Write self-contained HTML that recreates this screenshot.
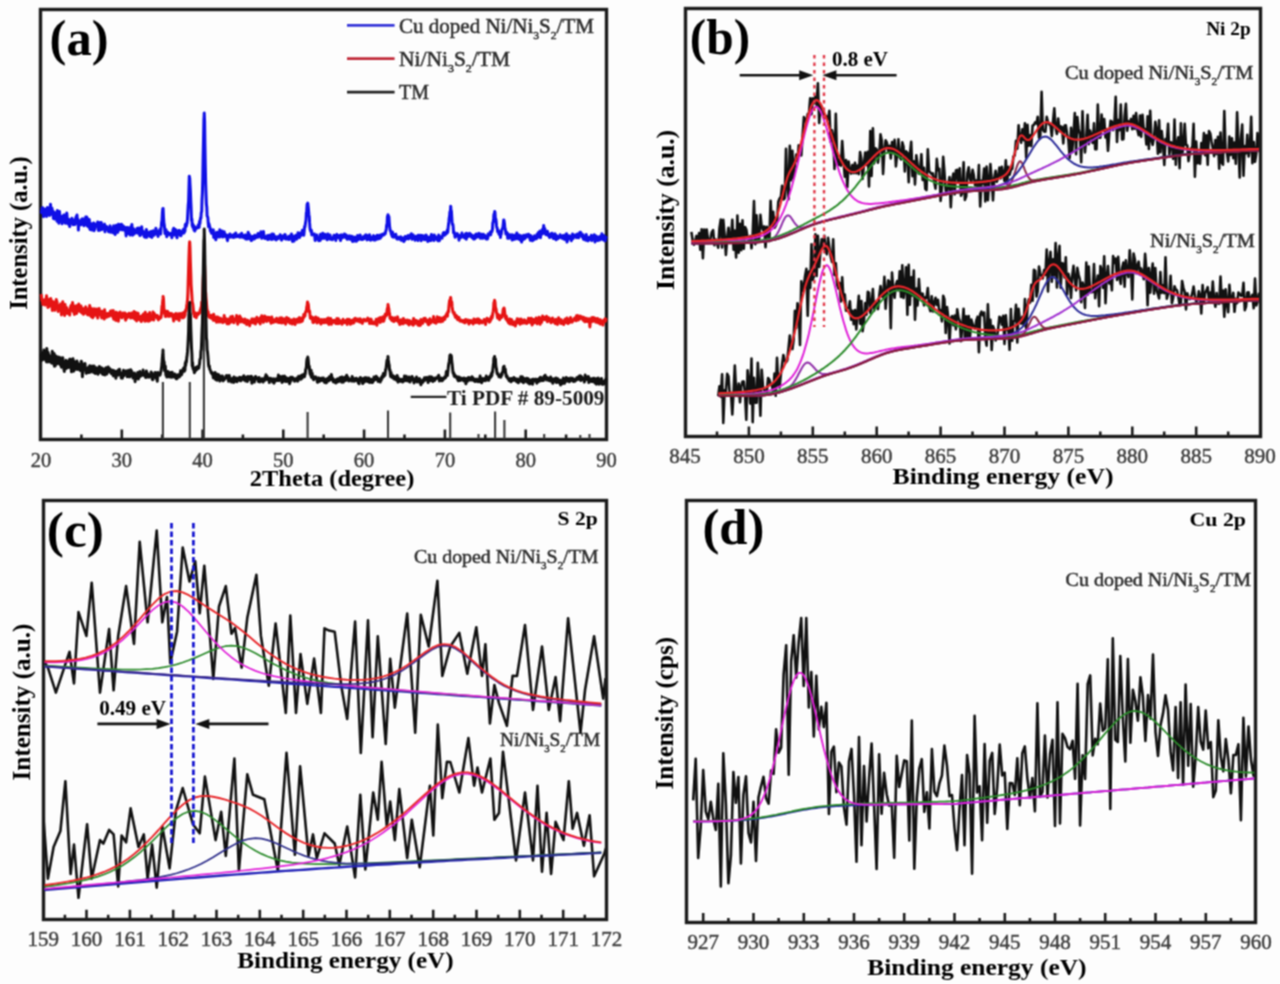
<!DOCTYPE html>
<html><head><meta charset="utf-8"><style>
html,body{margin:0;padding:0;background:#fff;}
svg{display:block;font-family:"Liberation Serif",serif;}
</style></head><body>
<svg width="1280" height="984" viewBox="0 0 1280 984">
<defs>
<clipPath id="cb"><rect x="686.8" y="10.4" width="572.2" height="424.5"/></clipPath>
<clipPath id="cc"><rect x="44.5" y="502.5" width="560.5" height="415.8"/></clipPath>
<filter id="bl" x="0" y="0" width="1280" height="984" filterUnits="userSpaceOnUse" color-interpolation-filters="sRGB"><feConvolveMatrix order="3" kernelMatrix="1 2 1 2 4 2 1 2 1" edgeMode="duplicate"/></filter>
<clipPath id="cd"><rect x="688.3" y="502.3" width="566" height="419.1"/></clipPath>
</defs>
<g filter="url(#bl)">
<rect width="1280" height="984" fill="#fdfdfd"/>
<rect x="40.5" y="9.5" width="566.0" height="430.0" fill="none" stroke="#1c1c1c" stroke-width="3.4"/>
<path d="M121.8 439.5V429.5M202.6 439.5V429.5M283.3 439.5V429.5M364.1 439.5V429.5M444.9 439.5V429.5M525.7 439.5V429.5M81.4 439.5V434.5M162.2 439.5V434.5M242.9 439.5V434.5M323.7 439.5V434.5M404.5 439.5V434.5M485.3 439.5V434.5M566.1 439.5V434.5" stroke="#1c1c1c" stroke-width="2.6" fill="none"/>
<text x="41.0" y="466.5" font-size="20.5" text-anchor="middle" fill="#3c3c3c" stroke="#3c3c3c" stroke-width="0.45">20</text>
<text x="121.8" y="466.5" font-size="20.5" text-anchor="middle" fill="#3c3c3c" stroke="#3c3c3c" stroke-width="0.45">30</text>
<text x="202.6" y="466.5" font-size="20.5" text-anchor="middle" fill="#3c3c3c" stroke="#3c3c3c" stroke-width="0.45">40</text>
<text x="283.3" y="466.5" font-size="20.5" text-anchor="middle" fill="#3c3c3c" stroke="#3c3c3c" stroke-width="0.45">50</text>
<text x="364.1" y="466.5" font-size="20.5" text-anchor="middle" fill="#3c3c3c" stroke="#3c3c3c" stroke-width="0.45">60</text>
<text x="444.9" y="466.5" font-size="20.5" text-anchor="middle" fill="#3c3c3c" stroke="#3c3c3c" stroke-width="0.45">70</text>
<text x="525.7" y="466.5" font-size="20.5" text-anchor="middle" fill="#3c3c3c" stroke="#3c3c3c" stroke-width="0.45">80</text>
<text x="606.5" y="466.5" font-size="20.5" text-anchor="middle" fill="#3c3c3c" stroke="#3c3c3c" stroke-width="0.45">90</text>
<text x="249.8" y="485.7" font-size="23.2" font-weight="bold" text-anchor="start" fill="#000" textLength="164.5" lengthAdjust="spacingAndGlyphs">2Theta (degree)</text>
<text transform="translate(26.5 233.1) rotate(-90)" x="0" y="0" font-size="24.5" font-weight="bold" text-anchor="middle" fill="#000" textLength="153.5" lengthAdjust="spacingAndGlyphs">Intensity (a.u.)</text>
<path d="M162.9 439V382.0M189.8 439V382.0M203.9 439V236.0M307.6 439V412.0M388.0 439V410.5M450.2 439V412.5M478.5 439V434.0M495.1 439V411.5M504.4 439V420.0M544.2 439V434.0M580.3 439V435.0M589.5 439V434.0" stroke="#383838" stroke-width="2.1" fill="none"/>
<polyline fill="none" stroke="#1010e6" stroke-width="3.0" stroke-linejoin="round" points="41.0,211.6 41.4,212.5 41.7,210.3 42.1,208.1 42.5,210.0 42.8,207.8 43.2,212.4 43.5,216.7 43.9,209.1 44.3,209.3 44.6,213.9 45.0,213.4 45.4,212.7 45.7,208.9 46.1,212.8 46.5,216.4 46.8,209.1 47.2,213.0 47.5,207.5 47.9,210.2 48.3,207.9 48.6,214.0 49.0,209.9 49.4,215.5 49.7,214.6 50.1,213.1 50.5,204.3 50.8,211.4 51.2,213.2 51.5,214.2 51.9,208.0 52.3,211.9 52.6,210.8 53.0,211.3 53.4,218.5 53.7,212.1 54.1,215.4 54.4,218.9 54.8,213.8 55.2,215.6 55.5,216.7 55.9,216.6 56.3,212.5 56.6,216.9 57.0,221.2 57.4,210.6 57.7,219.4 58.1,216.3 58.4,213.5 58.8,223.3 59.2,218.7 59.5,211.5 59.9,216.9 60.3,218.8 60.6,216.5 61.0,220.4 61.4,218.2 61.7,220.9 62.1,223.7 62.4,216.3 62.8,219.5 63.2,217.4 63.5,219.6 63.9,215.0 64.3,217.1 64.6,218.3 65.0,222.5 65.4,223.2 65.7,214.7 66.1,216.5 66.4,221.9 66.8,213.0 67.2,218.3 67.5,219.2 67.9,224.0 68.3,222.3 68.6,219.3 69.0,220.0 69.4,220.6 69.7,226.6 70.1,220.2 70.4,221.0 70.8,223.1 71.2,221.6 71.5,221.3 71.9,218.2 72.3,220.9 72.6,219.7 73.0,224.7 73.4,222.9 73.7,220.5 74.1,223.2 74.4,220.1 74.8,224.5 75.2,220.9 75.5,223.6 75.9,217.3 76.3,222.8 76.6,216.2 77.0,215.0 77.4,220.8 77.7,219.1 78.1,222.7 78.4,230.1 78.8,220.5 79.2,221.1 79.5,224.1 79.9,224.9 80.3,222.6 80.6,222.3 81.0,224.8 81.3,224.5 81.7,219.2 82.1,222.1 82.4,222.1 82.8,218.7 83.2,222.9 83.5,219.7 83.9,225.7 84.3,223.2 84.6,222.7 85.0,220.5 85.3,222.0 85.7,217.0 86.1,219.8 86.4,224.6 86.8,217.0 87.2,226.0 87.5,218.6 87.9,226.1 88.3,221.9 88.6,226.8 89.0,224.5 89.3,219.5 89.7,228.5 90.1,229.4 90.4,225.5 90.8,224.9 91.2,226.1 91.5,223.8 91.9,230.1 92.3,225.9 92.6,227.3 93.0,225.0 93.3,225.2 93.7,223.0 94.1,230.7 94.4,226.0 94.8,229.2 95.2,226.6 95.5,224.3 95.9,224.8 96.3,224.1 96.6,226.3 97.0,225.1 97.3,225.2 97.7,221.9 98.1,223.6 98.4,230.4 98.8,224.0 99.2,223.1 99.5,227.3 99.9,230.2 100.3,222.5 100.6,225.9 101.0,225.2 101.3,222.5 101.7,229.5 102.1,227.0 102.4,227.8 102.8,225.1 103.2,228.9 103.5,226.4 103.9,227.6 104.3,224.7 104.6,224.2 105.0,231.8 105.3,227.2 105.7,229.8 106.1,229.0 106.4,227.6 106.8,226.6 107.2,229.6 107.5,227.8 107.9,227.8 108.2,228.7 108.6,231.7 109.0,229.9 109.3,229.6 109.7,227.6 110.1,225.9 110.4,232.3 110.8,232.2 111.2,229.8 111.5,231.0 111.9,231.5 112.2,232.1 112.6,232.2 113.0,227.8 113.3,232.9 113.7,225.7 114.1,231.3 114.4,230.1 114.8,231.5 115.2,234.6 115.5,232.9 115.9,226.2 116.2,225.3 116.6,232.1 117.0,227.9 117.3,230.3 117.7,232.3 118.1,225.8 118.4,224.2 118.8,230.2 119.2,229.9 119.5,228.8 119.9,229.3 120.2,226.5 120.6,224.6 121.0,228.1 121.3,225.7 121.7,224.4 122.1,229.9 122.4,228.4 122.8,229.6 123.2,225.9 123.5,227.3 123.9,226.8 124.2,227.0 124.6,230.4 125.0,227.6 125.3,231.2 125.7,231.0 126.1,236.0 126.4,227.6 126.8,233.4 127.2,230.9 127.5,231.8 127.9,227.6 128.2,230.2 128.6,233.6 129.0,231.7 129.3,231.8 129.7,231.6 130.1,235.0 130.4,232.1 130.8,226.7 131.2,230.4 131.5,227.7 131.9,224.4 132.2,230.9 132.6,235.2 133.0,231.6 133.3,228.6 133.7,229.2 134.1,234.1 134.4,231.6 134.8,231.0 135.1,230.4 135.5,230.7 135.9,232.8 136.2,231.9 136.6,231.2 137.0,228.5 137.3,231.9 137.7,229.3 138.1,233.3 138.4,227.9 138.8,230.5 139.1,230.7 139.5,228.3 139.9,235.6 140.2,235.4 140.6,231.0 141.0,234.0 141.3,233.7 141.7,226.7 142.1,234.0 142.4,233.3 142.8,233.7 143.1,231.0 143.5,232.7 143.9,233.1 144.2,236.7 144.6,234.5 145.0,233.7 145.3,237.3 145.7,232.3 146.1,232.9 146.4,229.4 146.8,237.3 147.1,235.7 147.5,235.5 147.9,235.4 148.2,234.0 148.6,233.7 149.0,232.6 149.3,232.2 149.7,233.4 150.1,236.5 150.4,234.6 150.8,233.0 151.1,231.4 151.5,231.6 151.9,237.4 152.2,235.0 152.6,234.2 153.0,232.8 153.3,230.8 153.7,232.9 154.1,235.2 154.4,231.7 154.8,232.0 155.1,231.7 155.5,232.5 155.9,228.2 156.2,231.4 156.6,230.3 157.0,234.4 157.3,231.1 157.7,234.4 158.1,236.4 158.4,232.1 158.8,231.3 159.1,233.1 159.5,232.0 159.9,229.6 160.2,231.9 160.6,234.1 161.0,228.0 161.3,226.2 161.7,221.6 162.0,220.7 162.4,212.6 162.8,208.7 163.0,212.9 163.1,208.4 163.5,217.0 163.9,223.2 164.2,224.4 164.6,228.0 165.0,233.6 165.3,230.4 165.7,230.6 166.0,229.7 166.4,233.4 166.8,236.7 167.1,235.6 167.5,232.2 167.9,232.3 168.2,232.9 168.6,234.3 169.0,233.9 169.3,234.7 169.7,234.8 170.0,233.5 170.4,234.5 170.8,234.2 171.1,233.8 171.5,234.5 171.9,237.7 172.2,234.6 172.6,233.5 173.0,229.7 173.3,233.7 173.7,228.3 174.0,229.9 174.4,235.1 174.8,234.6 175.1,232.8 175.5,229.5 175.9,232.5 176.2,231.8 176.6,234.5 177.0,237.8 177.3,233.6 177.7,231.2 178.0,230.8 178.4,233.2 178.8,232.9 179.1,230.4 179.5,233.3 179.9,230.8 180.2,235.5 180.6,235.4 181.0,235.7 181.3,232.2 181.7,233.7 182.0,232.8 182.4,232.8 182.8,232.4 183.1,229.9 183.5,229.2 183.9,233.0 184.2,229.9 184.6,230.6 184.9,231.5 185.3,224.6 185.7,225.5 186.0,226.4 186.4,225.7 186.8,222.6 187.1,223.3 187.5,218.6 187.9,211.2 188.2,205.5 188.6,201.1 188.9,190.2 189.3,176.2 189.6,179.3 189.7,177.9 190.0,184.2 190.4,191.1 190.8,201.5 191.1,207.9 191.5,220.6 191.9,219.0 192.2,225.8 192.6,223.7 192.9,227.4 193.3,224.9 193.7,227.4 194.0,230.2 194.4,226.5 194.8,231.1 195.1,230.1 195.5,227.4 195.9,228.5 196.2,227.9 196.6,228.4 196.9,228.0 197.3,227.2 197.7,227.8 198.0,225.9 198.4,224.9 198.8,226.9 199.1,227.3 199.5,221.6 199.9,223.6 200.2,220.3 200.6,217.7 200.9,218.2 201.3,212.4 201.7,211.6 202.0,200.1 202.4,192.5 202.8,177.6 203.1,158.7 203.5,140.2 203.9,119.5 204.2,114.5 204.2,112.9 204.6,121.2 204.9,143.7 205.3,165.7 205.7,184.3 206.0,193.4 206.4,204.1 206.8,207.2 207.1,215.9 207.5,216.5 207.9,217.9 208.2,222.8 208.6,226.8 208.9,223.6 209.3,225.2 209.7,227.0 210.0,227.4 210.4,231.1 210.8,229.3 211.1,229.9 211.5,233.2 211.8,230.9 212.2,233.3 212.6,230.9 212.9,230.6 213.3,229.8 213.7,237.4 214.0,233.6 214.4,235.2 214.8,235.4 215.1,235.8 215.5,236.3 215.8,239.8 216.2,233.9 216.6,232.4 216.9,233.3 217.3,232.7 217.7,236.9 218.0,236.6 218.4,233.4 218.8,232.1 219.1,234.1 219.5,237.1 219.8,229.8 220.2,235.6 220.6,232.6 220.9,236.2 221.3,232.4 221.7,233.6 222.0,231.1 222.4,232.8 222.8,237.1 223.1,236.5 223.5,234.9 223.8,234.0 224.2,231.8 224.6,235.0 224.9,236.4 225.3,236.5 225.7,235.9 226.0,234.7 226.4,236.3 226.8,236.8 227.1,239.2 227.5,240.7 227.8,236.4 228.2,235.4 228.6,236.8 228.9,235.3 229.3,234.8 229.7,235.9 230.0,234.1 230.4,237.2 230.8,235.8 231.1,236.9 231.5,236.0 231.8,235.2 232.2,235.7 232.6,237.1 232.9,236.6 233.3,237.5 233.7,237.2 234.0,234.5 234.4,237.3 234.8,234.0 235.1,235.6 235.5,236.2 235.8,232.9 236.2,236.6 236.6,236.7 236.9,236.3 237.3,236.2 237.7,236.1 238.0,235.6 238.4,236.5 238.7,235.8 239.1,236.6 239.5,234.7 239.8,237.3 240.2,236.9 240.6,236.6 240.9,236.1 241.3,236.9 241.7,233.2 242.0,236.5 242.4,236.8 242.7,237.3 243.1,237.3 243.5,235.6 243.8,236.0 244.2,237.5 244.6,238.0 244.9,238.0 245.3,235.1 245.7,238.8 246.0,239.1 246.4,239.0 246.7,237.9 247.1,235.0 247.5,239.1 247.8,236.8 248.2,232.2 248.6,237.6 248.9,234.2 249.3,234.4 249.7,235.7 250.0,238.9 250.4,236.0 250.7,237.4 251.1,240.6 251.5,240.6 251.8,237.9 252.2,237.5 252.6,236.5 252.9,236.9 253.3,239.0 253.7,238.8 254.0,238.1 254.4,239.0 254.7,235.3 255.1,236.2 255.5,237.3 255.8,236.7 256.2,237.7 256.6,236.5 256.9,235.5 257.3,236.6 257.7,234.4 258.0,233.5 258.4,237.2 258.7,236.1 259.1,236.6 259.5,233.5 259.8,235.1 260.2,234.6 260.6,233.9 260.9,231.8 261.3,235.8 261.7,238.3 262.0,237.5 262.4,235.4 262.7,236.1 263.1,237.4 263.5,231.6 263.8,236.2 264.2,237.3 264.6,236.9 264.9,238.5 265.3,238.0 265.6,236.8 266.0,237.1 266.4,238.1 266.7,235.9 267.1,236.7 267.5,238.0 267.8,239.6 268.2,235.6 268.6,235.6 268.9,236.8 269.3,238.6 269.6,236.7 270.0,239.1 270.4,235.0 270.7,236.5 271.1,236.8 271.5,238.7 271.8,239.5 272.2,234.0 272.6,235.4 272.9,237.3 273.3,235.4 273.6,234.3 274.0,238.9 274.4,238.1 274.7,238.4 275.1,236.4 275.5,239.0 275.8,237.1 276.2,239.9 276.6,236.9 276.9,237.2 277.3,238.4 277.6,236.8 278.0,238.8 278.4,237.8 278.7,236.6 279.1,237.6 279.5,236.3 279.8,237.7 280.2,234.8 280.6,235.5 280.9,238.1 281.3,239.9 281.6,240.1 282.0,236.3 282.4,236.5 282.7,238.5 283.1,236.6 283.5,235.7 283.8,237.6 284.2,238.2 284.6,236.1 284.9,234.5 285.3,234.9 285.6,239.1 286.0,237.3 286.4,238.0 286.7,238.2 287.1,239.0 287.5,238.0 287.8,239.2 288.2,236.9 288.6,237.9 288.9,236.3 289.3,239.5 289.6,237.5 290.0,235.9 290.4,235.9 290.7,235.5 291.1,237.6 291.5,234.0 291.8,235.2 292.2,236.8 292.5,241.4 292.9,238.8 293.3,237.4 293.6,238.8 294.0,241.0 294.4,236.9 294.7,236.0 295.1,238.2 295.5,236.7 295.8,237.1 296.2,235.4 296.5,239.2 296.9,239.0 297.3,237.4 297.6,237.5 298.0,232.8 298.4,237.3 298.7,236.0 299.1,237.1 299.5,237.5 299.8,235.2 300.2,232.9 300.5,235.9 300.9,234.0 301.3,234.5 301.6,233.8 302.0,233.9 302.4,230.2 302.7,234.9 303.1,233.6 303.5,234.7 303.8,235.2 304.2,231.2 304.5,226.8 304.9,227.1 305.3,224.2 305.6,222.4 306.0,220.1 306.4,212.1 306.7,211.2 307.1,204.3 307.5,204.8 307.6,204.0 307.8,203.1 308.2,206.6 308.5,209.9 308.9,214.4 309.3,217.0 309.6,222.9 310.0,228.3 310.4,230.4 310.7,231.0 311.1,232.0 311.5,230.5 311.8,235.0 312.2,233.4 312.5,233.6 312.9,233.8 313.3,234.8 313.6,234.3 314.0,235.1 314.4,234.0 314.7,235.7 315.1,240.5 315.5,236.3 315.8,236.0 316.2,237.5 316.5,237.9 316.9,234.9 317.3,236.9 317.6,239.0 318.0,237.9 318.4,237.6 318.7,240.7 319.1,237.5 319.4,238.4 319.8,237.5 320.2,240.5 320.5,234.3 320.9,236.2 321.3,236.4 321.6,238.4 322.0,237.4 322.4,238.3 322.7,233.3 323.1,236.7 323.4,235.7 323.8,235.7 324.2,238.3 324.5,236.1 324.9,234.2 325.3,237.0 325.6,234.7 326.0,236.0 326.4,238.0 326.7,237.9 327.1,239.8 327.4,236.4 327.8,234.1 328.2,235.7 328.5,236.0 328.9,236.2 329.3,238.8 329.6,236.8 330.0,234.9 330.4,239.3 330.7,238.1 331.1,238.5 331.4,237.9 331.8,238.4 332.2,237.7 332.5,239.7 332.9,238.9 333.3,238.3 333.6,238.3 334.0,235.2 334.4,237.5 334.7,237.2 335.1,237.9 335.4,235.6 335.8,240.4 336.2,237.9 336.5,235.8 336.9,234.4 337.3,236.9 337.6,237.0 338.0,236.2 338.4,237.7 338.7,235.9 339.1,237.6 339.4,235.4 339.8,236.4 340.2,238.1 340.5,240.6 340.9,235.1 341.3,235.9 341.6,235.1 342.0,238.1 342.3,235.1 342.7,236.3 343.1,237.4 343.4,236.2 343.8,235.9 344.2,236.5 344.5,233.9 344.9,235.1 345.3,236.6 345.6,237.5 346.0,237.1 346.3,235.1 346.7,237.1 347.1,239.3 347.4,239.3 347.8,237.6 348.2,236.2 348.5,238.5 348.9,237.2 349.3,236.0 349.6,235.8 350.0,239.3 350.3,237.4 350.7,238.6 351.1,236.7 351.4,238.5 351.8,236.2 352.2,236.8 352.5,241.5 352.9,239.2 353.3,237.3 353.6,238.2 354.0,239.3 354.3,241.1 354.7,239.1 355.1,237.1 355.4,239.3 355.8,239.3 356.2,239.3 356.5,241.2 356.9,239.1 357.3,239.1 357.6,235.5 358.0,237.8 358.3,239.8 358.7,237.6 359.1,236.3 359.4,236.3 359.8,239.0 360.2,235.0 360.5,237.2 360.9,238.8 361.3,239.4 361.6,237.8 362.0,239.1 362.3,238.7 362.7,239.4 363.1,238.6 363.4,236.8 363.8,238.0 364.2,238.7 364.5,236.1 364.9,236.6 365.3,237.6 365.6,234.9 366.0,236.6 366.3,235.0 366.7,238.1 367.1,239.9 367.4,239.5 367.8,236.0 368.2,237.7 368.5,237.3 368.9,237.1 369.2,239.4 369.6,234.8 370.0,239.1 370.3,237.5 370.7,240.2 371.1,238.4 371.4,237.2 371.8,238.5 372.2,239.3 372.5,238.5 372.9,239.4 373.2,237.7 373.6,235.6 374.0,240.0 374.3,239.9 374.7,239.0 375.1,238.3 375.4,240.0 375.8,237.4 376.2,236.4 376.5,237.1 376.9,238.7 377.2,235.2 377.6,239.0 378.0,235.7 378.3,235.6 378.7,238.8 379.1,237.1 379.4,235.2 379.8,236.0 380.2,238.2 380.5,237.9 380.9,235.0 381.2,236.0 381.6,236.3 382.0,234.6 382.3,234.9 382.7,234.7 383.1,234.0 383.4,234.3 383.8,235.0 384.2,234.4 384.5,233.7 384.9,233.1 385.2,233.8 385.6,231.7 386.0,230.6 386.3,228.5 386.7,224.8 387.1,224.2 387.4,216.5 387.8,217.2 388.0,214.7 388.2,218.2 388.5,219.5 388.9,216.6 389.2,221.6 389.6,226.6 390.0,228.9 390.3,230.8 390.7,231.0 391.1,233.0 391.4,234.5 391.8,233.9 392.2,236.5 392.5,232.0 392.9,236.5 393.2,234.0 393.6,237.2 394.0,235.2 394.3,234.8 394.7,236.8 395.1,235.0 395.4,235.1 395.8,234.2 396.1,236.6 396.5,238.1 396.9,238.9 397.2,237.2 397.6,239.0 398.0,237.3 398.3,237.2 398.7,238.0 399.1,239.0 399.4,237.4 399.8,237.2 400.1,237.9 400.5,238.3 400.9,236.9 401.2,240.3 401.6,238.3 402.0,240.3 402.3,238.0 402.7,239.2 403.1,239.7 403.4,237.9 403.8,241.6 404.1,238.2 404.5,240.4 404.9,239.3 405.2,236.4 405.6,237.0 406.0,239.0 406.3,238.1 406.7,238.4 407.1,237.8 407.4,236.2 407.8,238.6 408.1,235.4 408.5,238.9 408.9,237.0 409.2,236.6 409.6,237.2 410.0,237.8 410.3,235.3 410.7,234.5 411.1,235.0 411.4,233.8 411.8,235.4 412.1,239.3 412.5,235.5 412.9,238.5 413.2,234.9 413.6,237.5 414.0,237.0 414.3,237.9 414.7,238.2 415.1,240.2 415.4,238.0 415.8,238.0 416.1,236.2 416.5,238.8 416.9,237.7 417.2,239.3 417.6,238.0 418.0,240.6 418.3,235.2 418.7,237.5 419.1,238.7 419.4,236.8 419.8,236.3 420.1,236.9 420.5,235.2 420.9,237.0 421.2,240.8 421.6,238.9 422.0,235.6 422.3,236.5 422.7,236.9 423.0,238.6 423.4,236.0 423.8,236.2 424.1,239.5 424.5,239.7 424.9,237.4 425.2,236.4 425.6,235.2 426.0,236.5 426.3,235.2 426.7,239.8 427.0,237.7 427.4,239.0 427.8,241.4 428.1,240.7 428.5,237.2 428.9,240.3 429.2,240.7 429.6,237.5 430.0,237.5 430.3,238.7 430.7,236.3 431.0,240.6 431.4,234.4 431.8,236.4 432.1,238.1 432.5,238.7 432.9,239.0 433.2,239.1 433.6,238.3 434.0,240.5 434.3,235.1 434.7,238.7 435.0,237.7 435.4,238.7 435.8,238.6 436.1,237.0 436.5,237.4 436.9,239.6 437.2,238.3 437.6,237.1 438.0,240.8 438.3,240.4 438.7,234.9 439.0,237.5 439.4,240.8 439.8,238.6 440.1,237.8 440.5,237.7 440.9,236.7 441.2,237.3 441.6,236.6 442.0,238.2 442.3,236.1 442.7,235.6 443.0,233.4 443.4,234.5 443.8,232.5 444.1,233.3 444.5,235.2 444.9,234.1 445.2,234.4 445.6,234.3 446.0,233.4 446.3,232.8 446.7,231.6 447.0,233.3 447.4,230.0 447.8,232.2 448.1,228.1 448.5,224.5 448.9,221.5 449.2,218.0 449.6,216.0 449.9,211.9 450.3,212.0 450.6,208.5 450.7,206.2 451.0,210.4 451.4,211.1 451.8,217.7 452.1,222.9 452.5,224.7 452.9,224.4 453.2,227.2 453.6,232.8 453.9,231.8 454.3,232.4 454.7,234.6 455.0,237.2 455.4,235.9 455.8,235.0 456.1,234.9 456.5,236.1 456.9,233.7 457.2,233.6 457.6,235.4 457.9,234.5 458.3,235.9 458.7,236.7 459.0,240.2 459.4,235.6 459.8,236.3 460.1,236.0 460.5,236.6 460.9,237.7 461.2,235.1 461.6,234.9 461.9,233.1 462.3,234.5 462.7,236.8 463.0,236.2 463.4,235.4 463.8,236.8 464.1,237.4 464.5,238.0 464.9,236.3 465.2,236.6 465.6,233.7 465.9,234.8 466.3,239.2 466.7,233.3 467.0,236.0 467.4,236.9 467.8,235.9 468.1,235.1 468.5,236.4 468.9,236.3 469.2,236.1 469.6,233.2 469.9,235.3 470.3,233.9 470.7,234.3 471.0,235.7 471.4,236.7 471.8,237.3 472.1,235.3 472.5,237.4 472.8,237.8 473.2,238.5 473.6,238.9 473.9,236.8 474.3,237.0 474.7,238.9 475.0,235.1 475.4,238.0 475.8,237.0 476.1,236.9 476.5,234.1 476.8,235.5 477.2,236.3 477.6,237.0 477.9,236.9 478.3,235.2 478.7,234.1 479.0,233.3 479.4,235.5 479.8,235.0 480.1,236.1 480.5,238.3 480.8,236.0 481.2,234.1 481.6,235.1 481.9,234.7 482.3,234.9 482.7,238.2 483.0,236.2 483.4,234.2 483.8,237.2 484.1,237.8 484.5,235.2 484.8,235.3 485.2,236.0 485.6,236.8 485.9,237.7 486.3,239.0 486.7,238.5 487.0,238.3 487.4,238.9 487.8,237.9 488.1,233.9 488.5,234.9 488.8,235.3 489.2,233.7 489.6,235.1 489.9,233.2 490.3,232.1 490.7,234.8 491.0,232.6 491.4,231.2 491.8,231.9 492.1,230.9 492.5,229.0 492.8,222.8 493.2,222.2 493.6,218.9 493.9,214.7 494.3,213.3 494.6,214.1 494.7,211.5 495.0,212.5 495.4,219.6 495.8,218.9 496.1,220.8 496.5,225.5 496.8,227.8 497.2,227.9 497.6,231.7 497.9,230.6 498.3,230.6 498.7,232.9 499.0,234.2 499.4,232.1 499.7,233.5 500.1,232.9 500.5,237.5 500.8,231.5 501.2,234.4 501.6,231.0 501.9,229.5 502.3,229.0 502.7,228.0 503.0,226.7 503.4,222.9 503.7,219.9 503.9,220.0 504.1,221.8 504.5,223.6 504.8,227.7 505.2,228.8 505.6,231.6 505.9,234.1 506.3,233.6 506.7,232.2 507.0,233.4 507.4,233.2 507.7,238.3 508.1,233.9 508.5,237.6 508.8,236.4 509.2,238.1 509.6,236.7 509.9,235.0 510.3,234.8 510.7,235.7 511.0,236.2 511.4,236.3 511.7,236.9 512.1,240.1 512.5,234.8 512.8,238.3 513.2,236.8 513.6,238.5 513.9,239.4 514.3,237.9 514.7,238.8 515.0,235.2 515.4,239.0 515.7,236.4 516.1,238.3 516.5,237.1 516.8,232.9 517.2,236.1 517.6,237.0 517.9,238.8 518.3,236.9 518.7,236.6 519.0,234.9 519.4,238.4 519.7,239.8 520.1,237.7 520.5,237.1 520.8,235.7 521.2,239.7 521.6,242.1 521.9,239.7 522.3,239.6 522.7,239.1 523.0,236.7 523.4,239.5 523.7,235.3 524.1,236.9 524.5,237.2 524.8,238.7 525.2,237.8 525.6,237.7 525.9,236.0 526.3,234.8 526.6,236.9 527.0,235.9 527.4,234.7 527.7,235.4 528.1,236.1 528.5,234.2 528.8,235.3 529.2,235.1 529.6,237.9 529.9,238.2 530.3,240.3 530.6,235.4 531.0,236.6 531.4,239.7 531.7,238.0 532.1,237.9 532.5,240.7 532.8,237.8 533.2,236.7 533.6,237.1 533.9,239.7 534.3,239.1 534.6,235.8 535.0,236.4 535.4,238.6 535.7,238.7 536.1,237.0 536.5,238.7 536.8,238.1 537.2,234.1 537.6,235.9 537.9,237.3 538.3,235.0 538.6,232.3 539.0,234.7 539.4,236.0 539.7,237.0 540.1,231.1 540.5,237.7 540.8,232.1 541.2,234.2 541.6,234.4 541.9,233.6 542.3,231.7 542.6,229.2 543.0,231.2 543.4,228.5 543.7,225.6 544.1,233.3 544.3,230.7 544.5,232.6 544.8,228.5 545.2,233.0 545.6,233.6 545.9,234.6 546.3,233.0 546.6,231.6 547.0,233.6 547.4,231.3 547.7,232.4 548.1,235.5 548.5,234.0 548.8,235.3 549.2,234.9 549.6,237.5 549.9,236.6 550.3,235.1 550.6,236.7 551.0,233.7 551.4,234.9 551.7,236.9 552.1,233.3 552.5,235.2 552.8,234.1 553.2,236.4 553.5,238.5 553.9,235.0 554.3,236.5 554.6,234.4 555.0,233.7 555.4,234.7 555.7,238.6 556.1,239.8 556.5,237.3 556.8,235.8 557.2,238.2 557.5,236.4 557.9,238.7 558.3,237.9 558.6,237.1 559.0,237.7 559.4,236.3 559.7,236.7 560.1,234.8 560.5,236.6 560.8,235.6 561.2,237.3 561.5,236.5 561.9,238.1 562.3,238.3 562.6,235.8 563.0,236.1 563.4,235.7 563.7,238.2 564.1,239.3 564.5,237.9 564.8,236.2 565.2,238.6 565.5,234.8 565.9,239.7 566.3,236.8 566.6,233.7 567.0,242.1 567.4,241.0 567.7,236.9 568.1,238.4 568.5,238.4 568.8,238.7 569.2,235.8 569.5,237.1 569.9,238.7 570.3,238.2 570.6,239.0 571.0,237.4 571.4,240.7 571.7,236.1 572.1,237.1 572.5,234.1 572.8,234.8 573.2,238.4 573.5,235.2 573.9,237.3 574.3,236.6 574.6,235.1 575.0,236.1 575.4,236.1 575.7,235.4 576.1,237.1 576.5,237.6 576.8,234.7 577.2,234.1 577.5,235.6 577.9,234.4 578.3,235.3 578.6,237.8 579.0,234.8 579.4,233.7 579.7,232.8 580.1,232.3 580.4,232.3 580.8,232.4 581.2,234.2 581.5,234.9 581.9,236.6 582.3,235.4 582.6,235.9 583.0,234.7 583.4,239.1 583.7,237.4 584.1,239.4 584.4,237.7 584.8,238.7 585.2,236.0 585.5,237.4 585.9,240.3 586.3,234.5 586.6,238.5 587.0,240.1 587.4,238.1 587.7,239.7 588.1,240.9 588.4,238.4 588.8,240.0 589.2,237.2 589.5,237.3 589.9,237.4 590.3,238.1 590.6,238.3 591.0,238.4 591.4,235.3 591.7,240.6 592.1,238.8 592.4,238.9 592.8,237.2 593.2,237.8 593.5,238.3 593.9,238.2 594.3,234.7 594.6,238.7 595.0,242.0 595.4,235.6 595.7,240.2 596.1,239.4 596.4,238.1 596.8,240.0 597.2,236.7 597.5,238.8 597.9,240.6 598.3,237.8 598.6,237.2 599.0,237.8 599.4,236.8 599.7,240.1 600.1,237.2 600.4,239.7 600.8,236.0 601.2,238.6 601.5,237.4 601.9,233.7 602.3,237.9 602.6,236.3 603.0,237.5 603.3,239.9 603.7,235.4 604.1,236.0 604.4,240.3 604.8,239.1 605.2,240.9 605.5,238.8 605.9,237.2 606.3,238.4"/>
<polyline fill="none" stroke="#e61414" stroke-width="3.0" stroke-linejoin="round" points="41.0,294.1 41.4,295.8 41.7,299.8 42.1,301.2 42.5,300.0 42.8,304.5 43.2,304.3 43.5,301.6 43.9,300.7 44.3,299.7 44.6,303.2 45.0,305.0 45.4,301.3 45.7,302.4 46.1,299.6 46.5,295.8 46.8,297.5 47.2,304.1 47.5,302.7 47.9,307.4 48.3,301.7 48.6,305.0 49.0,306.6 49.4,304.9 49.7,299.2 50.1,301.3 50.5,302.6 50.8,298.6 51.2,304.0 51.5,306.3 51.9,300.9 52.3,310.5 52.6,302.8 53.0,303.4 53.4,303.3 53.7,301.9 54.1,306.2 54.4,304.6 54.8,310.3 55.2,306.5 55.5,306.5 55.9,303.5 56.3,299.4 56.6,304.0 57.0,301.5 57.4,308.1 57.7,304.9 58.1,311.5 58.4,308.5 58.8,308.6 59.2,306.9 59.5,307.2 59.9,309.0 60.3,309.8 60.6,304.1 61.0,307.9 61.4,314.9 61.7,306.0 62.1,306.2 62.4,304.4 62.8,301.7 63.2,310.5 63.5,306.9 63.9,307.8 64.3,313.1 64.6,315.4 65.0,304.4 65.4,309.9 65.7,309.4 66.1,308.3 66.4,309.0 66.8,307.7 67.2,313.4 67.5,310.5 67.9,310.0 68.3,312.7 68.6,311.8 69.0,310.3 69.4,310.3 69.7,315.1 70.1,310.5 70.4,308.3 70.8,306.1 71.2,307.2 71.5,305.0 71.9,309.5 72.3,310.2 72.6,302.6 73.0,309.0 73.4,311.9 73.7,310.7 74.1,307.1 74.4,314.5 74.8,308.2 75.2,306.0 75.5,306.4 75.9,310.0 76.3,313.3 76.6,313.5 77.0,309.8 77.4,305.4 77.7,307.1 78.1,306.8 78.4,309.2 78.8,304.0 79.2,310.2 79.5,311.2 79.9,309.1 80.3,311.6 80.6,307.2 81.0,306.0 81.3,307.8 81.7,313.0 82.1,313.0 82.4,308.2 82.8,313.5 83.2,308.8 83.5,314.3 83.9,312.1 84.3,309.0 84.6,313.4 85.0,308.8 85.3,308.1 85.7,306.9 86.1,311.9 86.4,311.0 86.8,311.0 87.2,309.7 87.5,314.7 87.9,309.4 88.3,308.8 88.6,314.5 89.0,314.9 89.3,311.5 89.7,305.5 90.1,309.4 90.4,312.9 90.8,312.0 91.2,316.5 91.5,308.6 91.9,314.8 92.3,311.5 92.6,317.8 93.0,314.0 93.3,316.8 93.7,312.0 94.1,308.7 94.4,309.3 94.8,310.5 95.2,309.3 95.5,315.1 95.9,315.2 96.3,312.7 96.6,309.0 97.0,311.9 97.3,311.7 97.7,318.1 98.1,314.8 98.4,315.5 98.8,313.3 99.2,308.6 99.5,311.7 99.9,310.8 100.3,314.8 100.6,313.8 101.0,311.6 101.3,313.2 101.7,317.9 102.1,311.2 102.4,311.7 102.8,313.4 103.2,313.1 103.5,313.5 103.9,315.8 104.3,319.0 104.6,309.8 105.0,314.7 105.3,314.8 105.7,314.5 106.1,314.5 106.4,313.6 106.8,317.2 107.2,313.6 107.5,314.5 107.9,314.9 108.2,314.4 108.6,313.6 109.0,316.3 109.3,313.5 109.7,313.9 110.1,313.6 110.4,311.3 110.8,311.5 111.2,310.8 111.5,315.3 111.9,313.1 112.2,312.5 112.6,316.3 113.0,317.1 113.3,310.6 113.7,319.3 114.1,315.1 114.4,314.7 114.8,317.5 115.2,315.3 115.5,313.6 115.9,320.4 116.2,312.3 116.6,315.3 117.0,317.7 117.3,313.1 117.7,315.5 118.1,316.4 118.4,321.2 118.8,313.0 119.2,314.6 119.5,316.6 119.9,315.1 120.2,311.9 120.6,315.8 121.0,315.2 121.3,316.1 121.7,317.8 122.1,317.6 122.4,316.7 122.8,316.0 123.2,313.0 123.5,314.9 123.9,315.5 124.2,314.3 124.6,315.5 125.0,313.1 125.3,319.1 125.7,320.1 126.1,314.3 126.4,315.4 126.8,314.3 127.2,317.9 127.5,315.9 127.9,315.3 128.2,314.6 128.6,315.8 129.0,313.3 129.3,316.7 129.7,313.4 130.1,316.9 130.4,316.1 130.8,318.1 131.2,315.1 131.5,317.5 131.9,312.9 132.2,316.6 132.6,315.7 133.0,317.2 133.3,316.0 133.7,318.2 134.1,311.6 134.4,317.1 134.8,313.6 135.1,319.4 135.5,312.5 135.9,314.3 136.2,312.7 136.6,320.9 137.0,313.9 137.3,317.5 137.7,316.4 138.1,313.2 138.4,316.7 138.8,318.9 139.1,316.9 139.5,319.9 139.9,316.8 140.2,317.9 140.6,316.5 141.0,318.0 141.3,321.5 141.7,317.8 142.1,317.2 142.4,315.4 142.8,315.0 143.1,319.8 143.5,314.1 143.9,315.2 144.2,317.1 144.6,315.9 145.0,321.3 145.3,312.3 145.7,318.3 146.1,319.2 146.4,315.5 146.8,316.6 147.1,318.5 147.5,320.9 147.9,315.7 148.2,314.3 148.6,319.7 149.0,321.1 149.3,316.7 149.7,312.6 150.1,320.5 150.4,316.6 150.8,319.4 151.1,316.7 151.5,316.0 151.9,315.6 152.2,319.5 152.6,319.3 153.0,311.9 153.3,314.4 153.7,320.1 154.1,315.8 154.4,313.6 154.8,316.9 155.1,316.6 155.5,316.6 155.9,316.0 156.2,316.1 156.6,315.6 157.0,318.0 157.3,315.6 157.7,317.1 158.1,317.2 158.4,319.9 158.8,318.3 159.1,317.2 159.5,318.5 159.9,317.6 160.2,318.3 160.6,316.4 161.0,317.6 161.3,315.4 161.7,310.6 162.0,306.1 162.4,304.5 162.8,300.3 163.0,298.9 163.1,296.4 163.5,299.0 163.9,308.1 164.2,311.5 164.6,313.6 165.0,310.7 165.3,316.5 165.7,314.1 166.0,316.3 166.4,316.3 166.8,313.6 167.1,314.0 167.5,311.2 167.9,313.6 168.2,312.1 168.6,316.0 169.0,314.9 169.3,316.4 169.7,315.6 170.0,313.4 170.4,315.0 170.8,313.6 171.1,315.9 171.5,315.5 171.9,313.6 172.2,316.1 172.6,316.7 173.0,315.8 173.3,318.5 173.7,320.9 174.0,317.0 174.4,317.4 174.8,314.2 175.1,318.3 175.5,317.3 175.9,313.6 176.2,318.4 176.6,319.0 177.0,315.9 177.3,316.9 177.7,315.3 178.0,318.2 178.4,313.8 178.8,315.8 179.1,320.5 179.5,316.4 179.9,317.2 180.2,316.2 180.6,313.6 181.0,315.9 181.3,317.0 181.7,314.0 182.0,316.9 182.4,317.8 182.8,317.9 183.1,312.7 183.5,313.5 183.9,312.5 184.2,317.2 184.6,315.7 184.9,315.6 185.3,311.3 185.7,310.0 186.0,311.0 186.4,308.8 186.8,304.9 187.1,303.2 187.5,299.8 187.9,292.4 188.2,281.5 188.6,268.7 188.9,258.7 189.3,247.4 189.6,242.1 189.7,241.8 190.0,247.5 190.4,262.3 190.8,273.9 191.1,284.5 191.5,290.2 191.9,296.4 192.2,302.0 192.6,303.0 192.9,305.0 193.3,308.8 193.7,314.0 194.0,313.1 194.4,316.6 194.8,313.9 195.1,314.4 195.5,312.9 195.9,314.6 196.2,317.7 196.6,315.3 196.9,315.3 197.3,315.3 197.7,313.6 198.0,313.0 198.4,313.3 198.8,314.0 199.1,313.4 199.5,313.1 199.9,312.2 200.2,310.0 200.6,309.9 200.9,307.8 201.3,310.1 201.7,302.1 202.0,301.9 202.4,302.8 202.8,291.8 203.1,281.5 203.5,273.1 203.9,266.5 204.2,260.1 204.2,261.5 204.6,265.6 204.9,274.7 205.3,290.9 205.7,292.8 206.0,297.8 206.4,301.9 206.8,307.0 207.1,310.1 207.5,312.7 207.9,313.0 208.2,311.7 208.6,316.5 208.9,316.3 209.3,317.3 209.7,315.9 210.0,317.4 210.4,317.0 210.8,317.9 211.1,315.2 211.5,318.0 211.8,318.3 212.2,315.6 212.6,316.8 212.9,317.1 213.3,320.2 213.7,314.2 214.0,318.5 214.4,316.8 214.8,318.8 215.1,320.6 215.5,318.5 215.8,319.0 216.2,316.9 216.6,322.3 216.9,320.7 217.3,321.4 217.7,317.0 218.0,317.7 218.4,321.9 218.8,319.4 219.1,319.7 219.5,320.8 219.8,318.0 220.2,321.9 220.6,320.6 220.9,321.1 221.3,318.7 221.7,320.7 222.0,319.2 222.4,322.3 222.8,322.6 223.1,321.7 223.5,320.9 223.8,321.1 224.2,315.4 224.6,321.8 224.9,320.4 225.3,320.7 225.7,320.4 226.0,318.8 226.4,320.5 226.8,322.6 227.1,323.8 227.5,320.1 227.8,319.5 228.2,322.9 228.6,319.1 228.9,323.8 229.3,320.1 229.7,318.7 230.0,321.0 230.4,322.3 230.8,316.7 231.1,322.0 231.5,318.8 231.8,321.8 232.2,318.9 232.6,316.3 232.9,319.7 233.3,321.2 233.7,322.7 234.0,322.7 234.4,320.9 234.8,319.4 235.1,318.7 235.5,319.6 235.8,319.0 236.2,319.4 236.6,315.4 236.9,320.4 237.3,319.8 237.7,324.2 238.0,321.0 238.4,319.2 238.7,320.1 239.1,316.8 239.5,318.1 239.8,316.1 240.2,322.0 240.6,320.8 240.9,317.8 241.3,319.9 241.7,321.6 242.0,321.4 242.4,321.4 242.7,319.7 243.1,320.3 243.5,321.1 243.8,322.4 244.2,319.6 244.6,319.0 244.9,322.9 245.3,319.2 245.7,323.0 246.0,321.4 246.4,322.4 246.7,324.6 247.1,322.6 247.5,322.7 247.8,320.3 248.2,320.5 248.6,322.7 248.9,323.9 249.3,323.9 249.7,325.7 250.0,321.8 250.4,321.9 250.7,323.2 251.1,321.2 251.5,321.1 251.8,319.0 252.2,322.5 252.6,319.3 252.9,322.1 253.3,319.3 253.7,323.1 254.0,320.0 254.4,323.0 254.7,319.0 255.1,321.7 255.5,323.9 255.8,320.4 256.2,321.5 256.6,320.2 256.9,317.3 257.3,321.3 257.7,321.6 258.0,319.3 258.4,321.9 258.7,319.6 259.1,318.9 259.5,320.4 259.8,319.1 260.2,323.9 260.6,317.5 260.9,321.3 261.3,321.1 261.7,315.8 262.0,316.7 262.4,320.2 262.7,318.4 263.1,320.5 263.5,322.3 263.8,319.5 264.2,318.0 264.6,315.9 264.9,320.5 265.3,318.4 265.6,320.6 266.0,320.9 266.4,317.2 266.7,321.4 267.1,320.5 267.5,320.7 267.8,317.3 268.2,318.4 268.6,318.4 268.9,318.9 269.3,317.5 269.6,320.6 270.0,320.9 270.4,321.7 270.7,320.1 271.1,323.2 271.5,321.8 271.8,316.9 272.2,319.9 272.6,321.0 272.9,322.6 273.3,320.4 273.6,320.4 274.0,319.8 274.4,322.1 274.7,319.9 275.1,319.9 275.5,319.7 275.8,321.6 276.2,319.7 276.6,318.2 276.9,321.9 277.3,319.5 277.6,320.7 278.0,321.1 278.4,322.2 278.7,322.5 279.1,319.7 279.5,320.1 279.8,318.0 280.2,322.5 280.6,320.7 280.9,322.7 281.3,320.5 281.6,317.8 282.0,322.9 282.4,320.6 282.7,321.2 283.1,321.3 283.5,322.2 283.8,322.3 284.2,318.7 284.6,322.8 284.9,320.4 285.3,320.4 285.6,324.2 286.0,322.4 286.4,319.8 286.7,317.5 287.1,320.6 287.5,321.7 287.8,320.3 288.2,318.4 288.6,319.1 288.9,318.7 289.3,321.5 289.6,322.8 290.0,323.2 290.4,320.3 290.7,320.9 291.1,321.6 291.5,320.0 291.8,320.7 292.2,324.0 292.5,321.3 292.9,322.9 293.3,321.1 293.6,321.4 294.0,318.9 294.4,321.6 294.7,323.1 295.1,324.5 295.5,322.7 295.8,321.9 296.2,320.8 296.5,319.4 296.9,320.4 297.3,321.6 297.6,319.1 298.0,322.2 298.4,319.1 298.7,318.6 299.1,319.2 299.5,317.6 299.8,318.2 300.2,322.0 300.5,320.0 300.9,320.6 301.3,321.2 301.6,321.5 302.0,318.0 302.4,321.0 302.7,319.1 303.1,317.5 303.5,317.9 303.8,314.5 304.2,315.1 304.5,315.7 304.9,316.0 305.3,313.3 305.6,311.8 306.0,311.8 306.4,310.6 306.7,307.3 307.1,305.6 307.5,301.9 307.6,302.5 307.8,303.1 308.2,303.9 308.5,306.0 308.9,311.8 309.3,311.2 309.6,311.1 310.0,315.0 310.4,318.2 310.7,316.1 311.1,318.6 311.5,316.9 311.8,317.1 312.2,317.5 312.5,318.5 312.9,322.4 313.3,317.7 313.6,322.4 314.0,317.9 314.4,319.3 314.7,321.2 315.1,320.7 315.5,320.3 315.8,317.1 316.2,320.1 316.5,317.9 316.9,323.0 317.3,319.4 317.6,320.3 318.0,318.1 318.4,320.0 318.7,318.6 319.1,322.2 319.4,320.5 319.8,322.2 320.2,320.8 320.5,321.5 320.9,324.0 321.3,320.9 321.6,319.4 322.0,322.8 322.4,320.8 322.7,320.9 323.1,322.6 323.4,320.1 323.8,321.8 324.2,319.6 324.5,322.7 324.9,322.3 325.3,320.0 325.6,319.9 326.0,319.7 326.4,321.6 326.7,322.3 327.1,318.8 327.4,323.0 327.8,319.9 328.2,320.6 328.5,318.1 328.9,324.4 329.3,321.4 329.6,321.4 330.0,320.3 330.4,323.8 330.7,318.4 331.1,321.1 331.4,324.3 331.8,321.0 332.2,321.5 332.5,322.4 332.9,320.4 333.3,321.8 333.6,322.2 334.0,321.0 334.4,321.6 334.7,320.4 335.1,321.8 335.4,321.6 335.8,323.5 336.2,322.3 336.5,321.3 336.9,318.6 337.3,323.4 337.6,323.6 338.0,321.0 338.4,318.8 338.7,320.0 339.1,323.4 339.4,320.5 339.8,320.9 340.2,321.6 340.5,323.0 340.9,321.0 341.3,321.3 341.6,321.0 342.0,324.3 342.3,323.0 342.7,320.9 343.1,319.3 343.4,320.6 343.8,322.8 344.2,320.7 344.5,322.6 344.9,321.9 345.3,321.8 345.6,322.4 346.0,322.6 346.3,320.3 346.7,320.7 347.1,324.4 347.4,319.2 347.8,320.3 348.2,322.9 348.5,320.9 348.9,320.0 349.3,319.4 349.6,322.4 350.0,322.8 350.3,324.2 350.7,321.8 351.1,323.8 351.4,320.6 351.8,321.8 352.2,321.0 352.5,322.0 352.9,322.5 353.3,322.9 353.6,319.4 354.0,322.7 354.3,319.8 354.7,318.6 355.1,320.1 355.4,318.3 355.8,320.2 356.2,320.4 356.5,319.9 356.9,320.9 357.3,320.1 357.6,321.0 358.0,318.9 358.3,321.3 358.7,319.6 359.1,320.8 359.4,321.6 359.8,322.0 360.2,318.8 360.5,319.2 360.9,321.1 361.3,322.4 361.6,322.4 362.0,323.1 362.3,323.3 362.7,321.8 363.1,321.1 363.4,319.9 363.8,319.2 364.2,319.6 364.5,320.7 364.9,320.5 365.3,320.3 365.6,319.8 366.0,321.0 366.3,320.4 366.7,320.3 367.1,320.3 367.4,319.2 367.8,318.1 368.2,320.6 368.5,320.4 368.9,320.1 369.2,319.8 369.6,323.5 370.0,319.2 370.3,320.4 370.7,321.1 371.1,319.1 371.4,320.8 371.8,323.6 372.2,322.4 372.5,322.3 372.9,322.8 373.2,322.2 373.6,323.8 374.0,322.1 374.3,322.0 374.7,322.8 375.1,323.8 375.4,323.3 375.8,323.6 376.2,319.2 376.5,323.8 376.9,325.3 377.2,323.6 377.6,320.7 378.0,319.4 378.3,321.1 378.7,318.2 379.1,320.7 379.4,318.9 379.8,321.5 380.2,322.4 380.5,317.4 380.9,320.9 381.2,319.5 381.6,318.1 382.0,319.6 382.3,319.4 382.7,321.1 383.1,316.8 383.4,320.1 383.8,321.1 384.2,318.8 384.5,318.4 384.9,317.1 385.2,314.2 385.6,316.3 386.0,315.3 386.3,314.3 386.7,315.1 387.1,310.2 387.4,308.2 387.8,308.7 388.0,304.6 388.2,305.6 388.5,307.7 388.9,309.1 389.2,313.1 389.6,313.3 390.0,318.2 390.3,318.7 390.7,318.6 391.1,317.5 391.4,319.4 391.8,320.4 392.2,317.6 392.5,319.6 392.9,320.1 393.2,319.4 393.6,321.5 394.0,321.5 394.3,318.1 394.7,319.7 395.1,317.8 395.4,319.9 395.8,318.1 396.1,320.4 396.5,319.3 396.9,320.2 397.2,318.4 397.6,316.9 398.0,321.4 398.3,319.7 398.7,322.2 399.1,320.7 399.4,322.1 399.8,324.4 400.1,322.1 400.5,324.0 400.9,319.8 401.2,323.6 401.6,321.5 402.0,321.5 402.3,322.2 402.7,322.3 403.1,323.8 403.4,318.6 403.8,321.3 404.1,320.1 404.5,322.7 404.9,320.5 405.2,322.1 405.6,320.2 406.0,321.9 406.3,322.9 406.7,321.2 407.1,322.1 407.4,320.1 407.8,322.8 408.1,323.8 408.5,321.7 408.9,324.9 409.2,320.5 409.6,320.8 410.0,321.8 410.3,322.9 410.7,323.3 411.1,323.3 411.4,323.0 411.8,324.3 412.1,322.2 412.5,320.9 412.9,320.9 413.2,325.2 413.6,318.5 414.0,322.1 414.3,324.1 414.7,322.4 415.1,320.3 415.4,321.4 415.8,322.4 416.1,323.0 416.5,320.5 416.9,323.1 417.2,322.5 417.6,324.2 418.0,325.0 418.3,322.5 418.7,321.2 419.1,323.9 419.4,325.6 419.8,323.5 420.1,322.4 420.5,325.2 420.9,319.6 421.2,322.2 421.6,320.2 422.0,320.9 422.3,321.0 422.7,323.3 423.0,319.7 423.4,320.3 423.8,318.5 424.1,321.3 424.5,319.3 424.9,320.9 425.2,318.3 425.6,319.3 426.0,321.6 426.3,319.8 426.7,321.4 427.0,322.1 427.4,321.6 427.8,320.9 428.1,324.4 428.5,323.5 428.9,324.7 429.2,319.8 429.6,320.1 430.0,318.7 430.3,320.7 430.7,323.1 431.0,321.8 431.4,320.6 431.8,321.0 432.1,321.7 432.5,320.2 432.9,321.2 433.2,320.8 433.6,316.6 434.0,319.5 434.3,322.5 434.7,320.4 435.0,321.1 435.4,320.6 435.8,320.9 436.1,323.2 436.5,321.5 436.9,320.0 437.2,316.8 437.6,320.4 438.0,318.1 438.3,318.1 438.7,321.7 439.0,321.2 439.4,317.5 439.8,321.4 440.1,321.6 440.5,320.3 440.9,321.9 441.2,318.2 441.6,318.4 442.0,318.0 442.3,318.4 442.7,321.3 443.0,318.2 443.4,318.1 443.8,317.4 444.1,319.1 444.5,317.7 444.9,319.4 445.2,316.7 445.6,315.7 446.0,316.3 446.3,316.3 446.7,313.8 447.0,314.6 447.4,316.3 447.8,312.0 448.1,311.2 448.5,311.9 448.9,306.6 449.2,303.7 449.6,300.5 449.9,300.4 450.3,299.2 450.6,297.5 450.7,297.8 451.0,300.9 451.4,302.7 451.8,302.0 452.1,306.7 452.5,309.4 452.9,312.0 453.2,311.7 453.6,312.6 453.9,313.8 454.3,312.7 454.7,315.5 455.0,315.4 455.4,317.3 455.8,315.2 456.1,316.2 456.5,316.1 456.9,316.1 457.2,319.1 457.6,317.6 457.9,319.7 458.3,318.1 458.7,319.8 459.0,317.6 459.4,319.5 459.8,319.6 460.1,321.1 460.5,320.4 460.9,320.3 461.2,321.3 461.6,320.3 461.9,321.0 462.3,321.5 462.7,320.9 463.0,320.7 463.4,322.1 463.8,320.5 464.1,321.3 464.5,322.6 464.9,322.9 465.2,321.2 465.6,319.5 465.9,321.1 466.3,320.8 466.7,321.8 467.0,320.3 467.4,320.8 467.8,322.2 468.1,320.1 468.5,320.3 468.9,324.1 469.2,323.3 469.6,322.2 469.9,321.8 470.3,320.5 470.7,322.6 471.0,321.8 471.4,321.8 471.8,321.0 472.1,321.2 472.5,320.8 472.8,321.7 473.2,323.9 473.6,322.0 473.9,319.0 474.3,319.8 474.7,319.3 475.0,320.5 475.4,322.5 475.8,322.6 476.1,320.5 476.5,321.4 476.8,320.0 477.2,319.0 477.6,319.0 477.9,319.5 478.3,322.8 478.7,318.9 479.0,322.9 479.4,323.4 479.8,321.4 480.1,321.7 480.5,320.5 480.8,321.6 481.2,322.1 481.6,321.2 481.9,322.6 482.3,322.9 482.7,321.7 483.0,321.4 483.4,321.0 483.8,322.0 484.1,319.6 484.5,322.1 484.8,321.8 485.2,320.4 485.6,324.5 485.9,319.6 486.3,319.8 486.7,321.2 487.0,318.3 487.4,319.9 487.8,318.8 488.1,319.5 488.5,320.3 488.8,320.8 489.2,322.2 489.6,321.3 489.9,321.8 490.3,320.3 490.7,318.2 491.0,319.7 491.4,316.6 491.8,316.0 492.1,317.9 492.5,315.3 492.8,313.3 493.2,311.3 493.6,308.3 493.9,302.5 494.3,302.4 494.6,300.2 494.7,301.6 495.0,301.9 495.4,307.4 495.8,308.5 496.1,309.1 496.5,312.9 496.8,312.9 497.2,316.2 497.6,318.0 497.9,317.5 498.3,314.5 498.7,317.0 499.0,318.7 499.4,318.2 499.7,319.7 500.1,316.0 500.5,318.1 500.8,316.0 501.2,317.6 501.6,317.5 501.9,317.3 502.3,314.4 502.7,314.3 503.0,310.5 503.4,308.8 503.7,310.8 503.9,310.1 504.1,307.9 504.5,310.7 504.8,313.5 505.2,317.0 505.6,317.9 505.9,319.0 506.3,316.0 506.7,319.0 507.0,319.9 507.4,320.9 507.7,320.5 508.1,319.7 508.5,322.9 508.8,322.6 509.2,320.1 509.6,318.9 509.9,323.9 510.3,320.4 510.7,322.2 511.0,324.1 511.4,319.5 511.7,321.5 512.1,320.7 512.5,322.4 512.8,322.3 513.2,324.7 513.6,322.6 513.9,322.3 514.3,323.6 514.7,322.5 515.0,322.0 515.4,326.0 515.7,321.5 516.1,321.9 516.5,322.3 516.8,320.8 517.2,318.7 517.6,322.9 517.9,319.9 518.3,320.0 518.7,320.3 519.0,319.3 519.4,319.2 519.7,321.1 520.1,324.3 520.5,322.2 520.8,322.5 521.2,319.1 521.6,321.8 521.9,320.1 522.3,323.3 522.7,321.9 523.0,322.2 523.4,321.5 523.7,321.0 524.1,320.0 524.5,322.9 524.8,320.1 525.2,320.4 525.6,321.4 525.9,321.0 526.3,322.5 526.6,323.5 527.0,322.2 527.4,321.8 527.7,321.8 528.1,322.5 528.5,318.2 528.8,321.1 529.2,319.0 529.6,318.5 529.9,321.0 530.3,320.7 530.6,322.2 531.0,322.9 531.4,318.2 531.7,321.6 532.1,325.1 532.5,322.9 532.8,323.7 533.2,321.6 533.6,319.4 533.9,319.6 534.3,322.2 534.6,322.7 535.0,320.2 535.4,319.9 535.7,321.2 536.1,318.0 536.5,320.1 536.8,322.4 537.2,323.9 537.6,320.5 537.9,322.8 538.3,319.4 538.6,319.1 539.0,317.2 539.4,322.3 539.7,320.1 540.1,324.3 540.5,320.6 540.8,320.3 541.2,318.0 541.6,322.2 541.9,319.8 542.3,320.0 542.6,315.9 543.0,319.7 543.4,319.0 543.7,316.9 544.1,317.5 544.3,317.3 544.5,318.7 544.8,317.4 545.2,319.7 545.6,317.7 545.9,318.1 546.3,318.8 546.6,316.3 547.0,319.1 547.4,321.8 547.7,320.9 548.1,319.6 548.5,320.9 548.8,317.7 549.2,319.7 549.6,320.9 549.9,321.0 550.3,318.9 550.6,321.6 551.0,322.8 551.4,319.9 551.7,322.1 552.1,318.5 552.5,318.0 552.8,321.7 553.2,320.7 553.5,321.2 553.9,320.2 554.3,320.8 554.6,322.0 555.0,323.4 555.4,320.9 555.7,319.2 556.1,323.8 556.5,323.0 556.8,323.0 557.2,321.6 557.5,324.4 557.9,321.2 558.3,321.2 558.6,317.7 559.0,319.6 559.4,319.1 559.7,319.5 560.1,320.7 560.5,319.9 560.8,323.6 561.2,319.8 561.5,321.6 561.9,322.5 562.3,320.9 562.6,323.4 563.0,323.7 563.4,321.7 563.7,324.5 564.1,321.6 564.5,321.6 564.8,319.7 565.2,319.0 565.5,319.8 565.9,320.8 566.3,320.5 566.6,322.7 567.0,318.1 567.4,320.3 567.7,319.3 568.1,323.6 568.5,320.8 568.8,320.7 569.2,319.3 569.5,322.5 569.9,320.3 570.3,321.0 570.6,317.5 571.0,321.9 571.4,320.7 571.7,321.0 572.1,322.1 572.5,320.0 572.8,319.9 573.2,320.8 573.5,319.9 573.9,319.0 574.3,319.1 574.6,318.0 575.0,319.3 575.4,319.7 575.7,318.1 576.1,320.7 576.5,315.8 576.8,317.9 577.2,320.1 577.5,317.3 577.9,315.6 578.3,320.1 578.6,318.9 579.0,316.5 579.4,319.0 579.7,316.3 580.1,316.1 580.4,318.2 580.8,317.5 581.2,317.2 581.5,317.9 581.9,316.9 582.3,318.7 582.6,318.9 583.0,320.1 583.4,318.5 583.7,317.4 584.1,317.6 584.4,318.8 584.8,321.8 585.2,320.8 585.5,318.8 585.9,320.9 586.3,318.3 586.6,321.4 587.0,319.7 587.4,321.6 587.7,321.6 588.1,320.2 588.4,321.0 588.8,318.7 589.2,320.4 589.5,322.2 589.9,327.0 590.3,321.9 590.6,321.0 591.0,319.0 591.4,321.7 591.7,317.8 592.1,319.1 592.4,320.3 592.8,317.4 593.2,321.3 593.5,320.5 593.9,317.7 594.3,318.7 594.6,318.2 595.0,318.3 595.4,321.3 595.7,321.7 596.1,322.2 596.4,321.5 596.8,320.2 597.2,321.9 597.5,318.5 597.9,321.0 598.3,322.8 598.6,322.2 599.0,319.9 599.4,319.8 599.7,322.9 600.1,323.9 600.4,319.8 600.8,321.4 601.2,322.0 601.5,324.1 601.9,321.2 602.3,323.2 602.6,321.6 603.0,325.0 603.3,321.9 603.7,320.4 604.1,319.8 604.4,321.9 604.8,320.7 605.2,318.8 605.5,321.1 605.9,319.3 606.3,320.2"/>
<polyline fill="none" stroke="#111" stroke-width="3.0" stroke-linejoin="round" points="41.0,353.3 41.4,360.6 41.7,356.4 42.1,357.4 42.5,352.5 42.8,359.6 43.2,352.6 43.5,356.4 43.9,350.1 44.3,354.2 44.6,358.4 45.0,354.7 45.4,355.1 45.7,360.3 46.1,356.8 46.5,361.9 46.8,348.4 47.2,359.5 47.5,359.8 47.9,352.2 48.3,353.4 48.6,362.0 49.0,355.3 49.4,356.5 49.7,361.2 50.1,358.0 50.5,361.7 50.8,355.9 51.2,360.3 51.5,363.1 51.9,360.2 52.3,351.3 52.6,361.9 53.0,360.0 53.4,356.5 53.7,364.1 54.1,353.4 54.4,366.3 54.8,357.7 55.2,365.9 55.5,359.9 55.9,355.9 56.3,360.3 56.6,360.4 57.0,361.5 57.4,363.8 57.7,357.1 58.1,361.7 58.4,362.6 58.8,359.7 59.2,357.3 59.5,357.6 59.9,364.0 60.3,364.9 60.6,359.3 61.0,358.0 61.4,367.3 61.7,358.2 62.1,363.3 62.4,360.5 62.8,357.8 63.2,364.5 63.5,363.3 63.9,368.7 64.3,371.4 64.6,362.9 65.0,366.9 65.4,367.1 65.7,361.9 66.1,360.4 66.4,368.5 66.8,361.8 67.2,363.1 67.5,362.4 67.9,363.1 68.3,361.4 68.6,365.5 69.0,367.4 69.4,362.4 69.7,359.2 70.1,363.7 70.4,359.2 70.8,361.7 71.2,367.9 71.5,371.8 71.9,366.7 72.3,362.2 72.6,368.4 73.0,358.8 73.4,364.3 73.7,371.3 74.1,369.4 74.4,363.0 74.8,361.9 75.2,369.3 75.5,366.5 75.9,365.1 76.3,368.3 76.6,365.3 77.0,361.0 77.4,369.4 77.7,365.0 78.1,364.2 78.4,363.7 78.8,368.5 79.2,364.8 79.5,369.6 79.9,366.8 80.3,370.6 80.6,366.2 81.0,365.1 81.3,361.2 81.7,364.0 82.1,369.2 82.4,376.7 82.8,364.0 83.2,364.8 83.5,368.9 83.9,369.3 84.3,366.4 84.6,368.7 85.0,363.4 85.3,367.7 85.7,371.1 86.1,373.3 86.4,368.4 86.8,368.5 87.2,370.8 87.5,372.7 87.9,371.0 88.3,367.4 88.6,370.5 89.0,372.6 89.3,367.7 89.7,365.8 90.1,371.2 90.4,370.3 90.8,372.1 91.2,369.9 91.5,367.9 91.9,367.9 92.3,366.1 92.6,366.2 93.0,367.7 93.3,367.8 93.7,372.6 94.1,365.9 94.4,369.0 94.8,367.5 95.2,373.5 95.5,370.2 95.9,368.4 96.3,371.6 96.6,369.4 97.0,367.9 97.3,373.4 97.7,370.9 98.1,374.2 98.4,372.4 98.8,371.8 99.2,370.0 99.5,366.5 99.9,372.2 100.3,370.0 100.6,371.5 101.0,370.4 101.3,368.3 101.7,367.9 102.1,372.1 102.4,373.9 102.8,369.7 103.2,371.6 103.5,374.5 103.9,369.1 104.3,370.4 104.6,368.9 105.0,374.9 105.3,372.7 105.7,370.9 106.1,367.7 106.4,371.1 106.8,374.1 107.2,370.4 107.5,369.3 107.9,371.5 108.2,366.9 108.6,370.4 109.0,371.9 109.3,368.5 109.7,368.7 110.1,371.9 110.4,371.4 110.8,371.6 111.2,373.4 111.5,373.4 111.9,370.1 112.2,370.5 112.6,373.5 113.0,375.0 113.3,375.9 113.7,370.4 114.1,375.5 114.4,374.5 114.8,373.1 115.2,374.2 115.5,375.9 115.9,378.2 116.2,371.2 116.6,374.8 117.0,373.0 117.3,372.6 117.7,375.2 118.1,374.1 118.4,370.0 118.8,371.3 119.2,372.5 119.5,369.2 119.9,374.9 120.2,372.7 120.6,373.8 121.0,374.6 121.3,378.0 121.7,373.7 122.1,372.9 122.4,378.2 122.8,372.5 123.2,372.2 123.5,370.2 123.9,375.7 124.2,373.9 124.6,374.5 125.0,373.7 125.3,372.9 125.7,371.3 126.1,370.9 126.4,374.1 126.8,373.4 127.2,376.7 127.5,371.1 127.9,371.7 128.2,370.6 128.6,376.4 129.0,370.3 129.3,375.1 129.7,376.9 130.1,373.5 130.4,375.8 130.8,369.7 131.2,373.9 131.5,371.0 131.9,375.2 132.2,375.6 132.6,374.3 133.0,378.1 133.3,376.5 133.7,374.7 134.1,375.0 134.4,372.9 134.8,376.2 135.1,381.7 135.5,374.9 135.9,377.6 136.2,375.2 136.6,378.5 137.0,377.4 137.3,376.0 137.7,372.6 138.1,375.2 138.4,379.1 138.8,375.6 139.1,377.2 139.5,374.5 139.9,371.4 140.2,376.5 140.6,375.8 141.0,373.7 141.3,374.1 141.7,375.1 142.1,373.3 142.4,375.3 142.8,374.5 143.1,370.0 143.5,375.0 143.9,373.6 144.2,373.2 144.6,375.8 145.0,374.0 145.3,376.3 145.7,377.5 146.1,375.0 146.4,371.1 146.8,373.3 147.1,377.1 147.5,374.4 147.9,373.8 148.2,375.4 148.6,376.9 149.0,376.3 149.3,377.1 149.7,374.9 150.1,375.6 150.4,375.6 150.8,376.2 151.1,371.9 151.5,375.4 151.9,372.9 152.2,379.0 152.6,379.7 153.0,379.2 153.3,377.3 153.7,374.4 154.1,376.8 154.4,374.4 154.8,376.0 155.1,372.6 155.5,373.7 155.9,375.6 156.2,378.3 156.6,374.6 157.0,379.7 157.3,381.2 157.7,372.4 158.1,375.5 158.4,373.5 158.8,374.2 159.1,373.2 159.5,373.8 159.9,375.2 160.2,374.5 160.6,372.4 161.0,371.2 161.3,369.1 161.7,366.6 162.0,363.5 162.4,357.4 162.8,354.2 163.0,350.1 163.1,354.7 163.5,360.3 163.9,361.4 164.2,362.3 164.6,370.7 165.0,369.8 165.3,366.1 165.7,372.8 166.0,375.3 166.4,375.0 166.8,377.0 167.1,376.1 167.5,375.3 167.9,371.5 168.2,373.4 168.6,375.9 169.0,376.8 169.3,373.5 169.7,374.7 170.0,377.0 170.4,372.6 170.8,372.8 171.1,376.3 171.5,377.2 171.9,376.0 172.2,372.3 172.6,376.3 173.0,373.7 173.3,377.0 173.7,375.4 174.0,376.2 174.4,376.6 174.8,374.1 175.1,376.8 175.5,377.7 175.9,376.5 176.2,378.7 176.6,375.7 177.0,378.7 177.3,377.3 177.7,374.8 178.0,376.5 178.4,375.3 178.8,375.4 179.1,375.8 179.5,376.9 179.9,374.1 180.2,374.3 180.6,370.8 181.0,373.3 181.3,375.0 181.7,374.2 182.0,373.3 182.4,371.4 182.8,369.9 183.1,371.0 183.5,368.3 183.9,368.2 184.2,371.3 184.6,366.9 184.9,370.5 185.3,363.1 185.7,365.4 186.0,361.2 186.4,362.1 186.8,357.4 187.1,355.8 187.5,351.7 187.9,345.5 188.2,339.8 188.6,331.3 188.9,315.3 189.3,308.2 189.6,302.9 189.7,302.5 190.0,312.2 190.4,314.8 190.8,329.1 191.1,337.2 191.5,347.8 191.9,354.3 192.2,366.0 192.6,362.6 192.9,367.9 193.3,369.2 193.7,368.0 194.0,370.5 194.4,372.8 194.8,370.5 195.1,370.6 195.5,370.8 195.9,367.6 196.2,368.6 196.6,369.7 196.9,369.4 197.3,366.8 197.7,368.0 198.0,367.9 198.4,367.3 198.8,368.1 199.1,365.7 199.5,364.2 199.9,359.9 200.2,358.6 200.6,358.3 200.9,351.4 201.3,349.6 201.7,340.9 202.0,332.0 202.4,323.1 202.8,304.7 203.1,283.3 203.5,259.8 203.9,240.9 204.2,237.8 204.2,229.1 204.6,244.0 204.9,265.1 205.3,290.1 205.7,307.9 206.0,319.6 206.4,337.6 206.8,340.9 207.1,349.7 207.5,351.9 207.9,356.2 208.2,360.2 208.6,365.3 208.9,366.7 209.3,365.8 209.7,369.1 210.0,369.4 210.4,370.5 210.8,371.4 211.1,372.8 211.5,372.0 211.8,372.9 212.2,374.3 212.6,374.3 212.9,373.2 213.3,377.9 213.7,374.6 214.0,377.2 214.4,376.5 214.8,377.9 215.1,372.4 215.5,379.5 215.8,375.8 216.2,373.9 216.6,376.2 216.9,380.2 217.3,377.2 217.7,374.3 218.0,376.2 218.4,378.9 218.8,374.7 219.1,377.0 219.5,377.0 219.8,381.1 220.2,376.8 220.6,379.9 220.9,376.6 221.3,376.2 221.7,380.1 222.0,379.6 222.4,376.0 222.8,380.5 223.1,380.8 223.5,378.6 223.8,379.9 224.2,379.8 224.6,378.4 224.9,378.3 225.3,377.8 225.7,377.9 226.0,375.9 226.4,378.0 226.8,375.4 227.1,377.6 227.5,377.5 227.8,376.0 228.2,379.1 228.6,381.2 228.9,380.4 229.3,375.6 229.7,380.8 230.0,378.9 230.4,379.2 230.8,378.6 231.1,379.4 231.5,381.9 231.8,380.2 232.2,378.8 232.6,378.4 232.9,378.1 233.3,380.3 233.7,382.4 234.0,376.9 234.4,379.1 234.8,378.5 235.1,378.7 235.5,380.8 235.8,381.1 236.2,377.9 236.6,378.1 236.9,381.7 237.3,380.4 237.7,380.7 238.0,378.9 238.4,378.2 238.7,379.0 239.1,377.9 239.5,377.2 239.8,379.2 240.2,380.7 240.6,377.4 240.9,380.7 241.3,379.7 241.7,377.7 242.0,379.2 242.4,378.8 242.7,379.1 243.1,379.2 243.5,376.3 243.8,375.8 244.2,380.1 244.6,379.1 244.9,379.2 245.3,378.9 245.7,381.1 246.0,377.2 246.4,381.1 246.7,377.6 247.1,380.5 247.5,381.4 247.8,376.6 248.2,379.9 248.6,378.8 248.9,378.3 249.3,378.4 249.7,376.8 250.0,376.6 250.4,379.2 250.7,379.4 251.1,377.4 251.5,376.3 251.8,383.3 252.2,381.7 252.6,381.0 252.9,378.0 253.3,378.9 253.7,380.5 254.0,378.3 254.4,382.1 254.7,379.0 255.1,378.8 255.5,376.6 255.8,376.7 256.2,377.3 256.6,379.1 256.9,378.4 257.3,378.3 257.7,379.5 258.0,379.2 258.4,381.6 258.7,378.9 259.1,377.5 259.5,379.3 259.8,381.9 260.2,379.1 260.6,380.2 260.9,379.3 261.3,380.7 261.7,380.5 262.0,378.8 262.4,379.9 262.7,381.8 263.1,382.0 263.5,380.9 263.8,380.6 264.2,378.6 264.6,378.7 264.9,380.3 265.3,376.7 265.6,378.3 266.0,374.7 266.4,377.2 266.7,377.2 267.1,376.3 267.5,379.6 267.8,377.8 268.2,378.6 268.6,379.0 268.9,378.3 269.3,382.5 269.6,379.3 270.0,380.2 270.4,378.3 270.7,379.7 271.1,379.9 271.5,379.9 271.8,379.0 272.2,380.0 272.6,381.9 272.9,379.2 273.3,379.3 273.6,378.8 274.0,383.2 274.4,381.7 274.7,380.5 275.1,381.2 275.5,379.0 275.8,380.1 276.2,380.5 276.6,380.3 276.9,378.8 277.3,378.7 277.6,380.4 278.0,379.1 278.4,375.1 278.7,379.0 279.1,380.5 279.5,377.7 279.8,379.0 280.2,376.5 280.6,380.0 280.9,377.2 281.3,377.6 281.6,378.4 282.0,382.4 282.4,377.9 282.7,376.2 283.1,379.1 283.5,378.7 283.8,381.2 284.2,376.7 284.6,376.2 284.9,378.5 285.3,379.4 285.6,379.3 286.0,381.5 286.4,377.8 286.7,378.8 287.1,379.7 287.5,381.2 287.8,380.8 288.2,379.5 288.6,378.5 288.9,382.0 289.3,381.8 289.6,383.7 290.0,378.9 290.4,381.6 290.7,377.2 291.1,378.2 291.5,378.1 291.8,378.2 292.2,377.2 292.5,377.6 292.9,378.7 293.3,378.4 293.6,380.4 294.0,379.2 294.4,378.9 294.7,381.2 295.1,379.5 295.5,379.4 295.8,379.1 296.2,378.9 296.5,379.9 296.9,377.9 297.3,380.3 297.6,381.2 298.0,380.8 298.4,378.2 298.7,376.2 299.1,377.4 299.5,378.5 299.8,378.8 300.2,376.4 300.5,376.5 300.9,379.2 301.3,375.4 301.6,378.3 302.0,378.2 302.4,375.0 302.7,377.3 303.1,376.0 303.5,375.3 303.8,374.3 304.2,374.5 304.5,376.7 304.9,374.4 305.3,373.9 305.6,369.8 306.0,368.9 306.4,366.5 306.7,361.7 307.1,358.8 307.5,359.6 307.6,358.9 307.8,357.1 308.2,359.8 308.5,363.7 308.9,367.7 309.3,366.3 309.6,370.5 310.0,373.9 310.4,372.4 310.7,375.4 311.1,370.2 311.5,377.3 311.8,375.4 312.2,373.3 312.5,377.5 312.9,378.3 313.3,379.1 313.6,379.7 314.0,377.6 314.4,377.2 314.7,376.9 315.1,378.0 315.5,378.5 315.8,377.0 316.2,378.0 316.5,379.0 316.9,378.7 317.3,382.0 317.6,382.3 318.0,378.4 318.4,379.1 318.7,377.9 319.1,378.8 319.4,381.4 319.8,379.2 320.2,378.6 320.5,379.6 320.9,380.7 321.3,378.4 321.6,378.2 322.0,380.2 322.4,379.7 322.7,380.1 323.1,380.8 323.4,378.0 323.8,380.3 324.2,379.4 324.5,382.3 324.9,382.2 325.3,379.4 325.6,382.8 326.0,379.3 326.4,382.7 326.7,380.7 327.1,379.2 327.4,378.5 327.8,379.7 328.2,380.5 328.5,379.6 328.9,380.9 329.3,376.8 329.6,379.1 330.0,379.3 330.4,376.4 330.7,379.4 331.1,376.9 331.4,374.4 331.8,377.1 332.2,377.9 332.5,380.2 332.9,378.5 333.3,381.7 333.6,381.3 334.0,381.6 334.4,382.2 334.7,381.2 335.1,380.1 335.4,382.4 335.8,383.0 336.2,381.7 336.5,381.3 336.9,379.3 337.3,382.0 337.6,381.4 338.0,378.8 338.4,380.8 338.7,381.4 339.1,379.9 339.4,381.0 339.8,380.3 340.2,377.4 340.5,379.5 340.9,380.5 341.3,381.2 341.6,382.1 342.0,377.0 342.3,379.3 342.7,380.3 343.1,381.3 343.4,382.2 343.8,377.9 344.2,378.9 344.5,377.5 344.9,380.1 345.3,377.0 345.6,380.6 346.0,379.9 346.3,379.5 346.7,375.2 347.1,377.4 347.4,379.9 347.8,377.2 348.2,378.5 348.5,378.6 348.9,380.9 349.3,380.5 349.6,380.3 350.0,379.4 350.3,380.2 350.7,379.4 351.1,380.3 351.4,379.2 351.8,381.1 352.2,376.4 352.5,381.1 352.9,378.7 353.3,380.4 353.6,378.6 354.0,379.9 354.3,381.3 354.7,378.9 355.1,380.0 355.4,380.1 355.8,380.4 356.2,378.2 356.5,380.4 356.9,380.6 357.3,380.2 357.6,380.9 358.0,378.9 358.3,383.0 358.7,381.8 359.1,383.7 359.4,379.5 359.8,378.6 360.2,380.7 360.5,377.5 360.9,380.4 361.3,378.5 361.6,379.7 362.0,380.4 362.3,380.6 362.7,383.6 363.1,381.5 363.4,378.6 363.8,382.4 364.2,378.2 364.5,380.8 364.9,377.8 365.3,378.3 365.6,381.2 366.0,377.7 366.3,378.3 366.7,378.3 367.1,378.1 367.4,381.4 367.8,378.3 368.2,378.5 368.5,381.4 368.9,378.1 369.2,380.2 369.6,382.4 370.0,381.3 370.3,380.8 370.7,380.5 371.1,379.3 371.4,380.3 371.8,380.8 372.2,382.6 372.5,382.5 372.9,380.2 373.2,379.3 373.6,381.0 374.0,377.0 374.3,379.1 374.7,378.3 375.1,377.3 375.4,377.4 375.8,379.5 376.2,376.3 376.5,377.5 376.9,378.0 377.2,379.7 377.6,377.6 378.0,381.4 378.3,379.9 378.7,380.3 379.1,380.1 379.4,379.4 379.8,379.0 380.2,382.1 380.5,379.9 380.9,378.9 381.2,380.3 381.6,377.1 382.0,378.4 382.3,377.0 382.7,375.5 383.1,377.1 383.4,373.5 383.8,376.4 384.2,374.0 384.5,375.3 384.9,375.3 385.2,372.9 385.6,369.6 386.0,369.0 386.3,366.5 386.7,362.8 387.1,359.9 387.4,359.7 387.8,359.1 388.0,356.4 388.2,359.2 388.5,361.8 388.9,363.9 389.2,365.2 389.6,370.7 390.0,369.9 390.3,373.8 390.7,376.4 391.1,372.6 391.4,376.8 391.8,377.3 392.2,377.3 392.5,376.2 392.9,377.2 393.2,375.8 393.6,378.3 394.0,378.9 394.3,376.8 394.7,376.7 395.1,378.0 395.4,379.1 395.8,379.6 396.1,379.8 396.5,380.1 396.9,377.9 397.2,375.5 397.6,380.9 398.0,382.1 398.3,377.8 398.7,378.9 399.1,380.0 399.4,380.6 399.8,380.1 400.1,381.3 400.5,379.6 400.9,380.3 401.2,380.2 401.6,379.3 402.0,381.5 402.3,381.1 402.7,381.9 403.1,380.1 403.4,381.5 403.8,378.7 404.1,380.6 404.5,375.9 404.9,377.6 405.2,380.4 405.6,378.4 406.0,379.1 406.3,376.2 406.7,380.7 407.1,379.2 407.4,378.6 407.8,379.3 408.1,379.6 408.5,381.2 408.9,379.4 409.2,377.1 409.6,379.2 410.0,382.0 410.3,380.7 410.7,378.5 411.1,379.5 411.4,378.8 411.8,379.4 412.1,376.6 412.5,377.7 412.9,379.9 413.2,378.4 413.6,379.8 414.0,382.9 414.3,380.1 414.7,381.1 415.1,380.0 415.4,379.6 415.8,380.2 416.1,378.1 416.5,377.0 416.9,382.0 417.2,379.5 417.6,381.4 418.0,379.8 418.3,380.0 418.7,380.8 419.1,380.8 419.4,378.4 419.8,382.5 420.1,379.5 420.5,381.4 420.9,384.8 421.2,381.3 421.6,383.3 422.0,381.2 422.3,382.3 422.7,381.6 423.0,382.1 423.4,379.6 423.8,379.1 424.1,380.8 424.5,377.8 424.9,378.7 425.2,380.0 425.6,378.5 426.0,378.2 426.3,377.5 426.7,379.7 427.0,378.7 427.4,379.7 427.8,379.6 428.1,382.5 428.5,379.5 428.9,376.9 429.2,379.6 429.6,379.1 430.0,379.2 430.3,376.8 430.7,380.7 431.0,379.0 431.4,379.3 431.8,377.0 432.1,379.9 432.5,379.7 432.9,381.5 433.2,379.5 433.6,378.6 434.0,380.4 434.3,378.7 434.7,380.5 435.0,378.1 435.4,379.1 435.8,378.4 436.1,378.8 436.5,378.0 436.9,377.7 437.2,377.9 437.6,376.8 438.0,378.0 438.3,377.7 438.7,375.2 439.0,378.4 439.4,381.0 439.8,379.4 440.1,379.9 440.5,380.5 440.9,379.8 441.2,378.0 441.6,380.8 442.0,380.7 442.3,380.2 442.7,380.2 443.0,380.0 443.4,378.4 443.8,378.6 444.1,377.8 444.5,378.5 444.9,376.7 445.2,377.3 445.6,377.6 446.0,375.5 446.3,371.8 446.7,374.8 447.0,370.9 447.4,375.5 447.8,372.1 448.1,369.7 448.5,365.6 448.9,363.3 449.2,361.7 449.6,359.1 449.9,355.3 450.3,354.9 450.6,355.2 450.7,355.9 451.0,355.3 451.4,356.3 451.8,362.0 452.1,363.7 452.5,367.8 452.9,371.7 453.2,373.1 453.6,372.6 453.9,374.7 454.3,376.3 454.7,374.8 455.0,375.8 455.4,377.0 455.8,376.7 456.1,376.6 456.5,376.5 456.9,377.9 457.2,377.4 457.6,379.5 457.9,378.1 458.3,380.7 458.7,380.6 459.0,377.0 459.4,380.4 459.8,378.2 460.1,380.6 460.5,378.6 460.9,378.2 461.2,379.5 461.6,378.3 461.9,379.6 462.3,379.9 462.7,379.1 463.0,380.2 463.4,378.2 463.8,380.9 464.1,378.1 464.5,380.6 464.9,380.5 465.2,380.7 465.6,378.8 465.9,383.8 466.3,379.2 466.7,379.7 467.0,378.5 467.4,381.3 467.8,378.4 468.1,380.0 468.5,377.4 468.9,379.0 469.2,378.1 469.6,379.9 469.9,378.8 470.3,377.8 470.7,380.0 471.0,377.9 471.4,378.1 471.8,380.1 472.1,376.7 472.5,380.0 472.8,378.9 473.2,378.1 473.6,380.2 473.9,380.7 474.3,379.2 474.7,380.0 475.0,381.5 475.4,381.3 475.8,380.5 476.1,379.4 476.5,379.0 476.8,379.4 477.2,381.2 477.6,380.5 477.9,379.7 478.3,381.7 478.7,379.2 479.0,379.0 479.4,378.5 479.8,381.6 480.1,376.1 480.5,380.0 480.8,380.2 481.2,379.8 481.6,382.8 481.9,381.6 482.3,380.5 482.7,378.6 483.0,380.7 483.4,379.4 483.8,379.3 484.1,379.6 484.5,378.6 484.8,379.8 485.2,380.7 485.6,380.0 485.9,379.3 486.3,376.0 486.7,380.1 487.0,380.1 487.4,378.4 487.8,378.4 488.1,379.8 488.5,377.9 488.8,380.2 489.2,376.9 489.6,376.9 489.9,378.0 490.3,375.8 490.7,377.1 491.0,376.8 491.4,373.5 491.8,375.5 492.1,372.3 492.5,372.4 492.8,369.6 493.2,366.2 493.6,362.7 493.9,358.2 494.3,357.6 494.6,356.5 494.7,359.7 495.0,360.1 495.4,358.9 495.8,365.1 496.1,367.4 496.5,368.8 496.8,371.9 497.2,373.7 497.6,373.2 497.9,374.1 498.3,375.1 498.7,374.6 499.0,376.7 499.4,376.0 499.7,375.6 500.1,375.2 500.5,376.4 500.8,377.2 501.2,376.1 501.6,373.6 501.9,374.9 502.3,372.5 502.7,372.1 503.0,370.9 503.4,367.0 503.7,367.5 503.9,366.7 504.1,366.2 504.5,371.4 504.8,371.0 505.2,369.0 505.6,373.2 505.9,373.6 506.3,376.6 506.7,375.9 507.0,376.0 507.4,377.5 507.7,378.4 508.1,378.8 508.5,379.2 508.8,379.6 509.2,380.7 509.6,378.6 509.9,380.4 510.3,380.5 510.7,379.9 511.0,381.7 511.4,378.5 511.7,379.9 512.1,378.9 512.5,380.5 512.8,379.3 513.2,379.7 513.6,379.9 513.9,377.6 514.3,380.2 514.7,378.3 515.0,378.3 515.4,378.7 515.7,380.2 516.1,380.3 516.5,381.6 516.8,380.1 517.2,379.0 517.6,379.0 517.9,381.0 518.3,382.7 518.7,381.4 519.0,379.6 519.4,380.8 519.7,380.8 520.1,380.4 520.5,379.3 520.8,376.7 521.2,379.1 521.6,381.4 521.9,380.0 522.3,376.7 522.7,379.8 523.0,377.7 523.4,382.7 523.7,380.3 524.1,378.4 524.5,381.2 524.8,379.1 525.2,381.2 525.6,380.8 525.9,379.0 526.3,380.9 526.6,378.3 527.0,382.0 527.4,380.7 527.7,379.8 528.1,378.6 528.5,383.2 528.8,382.7 529.2,379.4 529.6,383.9 529.9,382.2 530.3,381.7 530.6,381.8 531.0,381.4 531.4,383.4 531.7,381.6 532.1,379.5 532.5,384.2 532.8,382.1 533.2,379.2 533.6,380.1 533.9,379.4 534.3,380.4 534.6,380.9 535.0,380.6 535.4,379.4 535.7,379.2 536.1,381.6 536.5,380.0 536.8,383.2 537.2,379.4 537.6,381.0 537.9,380.4 538.3,379.4 538.6,381.7 539.0,380.0 539.4,378.4 539.7,379.1 540.1,380.6 540.5,377.2 540.8,380.8 541.2,379.7 541.6,378.0 541.9,379.8 542.3,380.4 542.6,379.0 543.0,378.1 543.4,380.4 543.7,379.6 544.1,376.2 544.3,377.4 544.5,376.8 544.8,376.6 545.2,375.2 545.6,378.5 545.9,377.7 546.3,378.0 546.6,380.1 547.0,377.4 547.4,377.7 547.7,379.1 548.1,379.2 548.5,379.1 548.8,380.5 549.2,379.7 549.6,380.8 549.9,378.0 550.3,379.2 550.6,377.1 551.0,379.1 551.4,378.1 551.7,381.6 552.1,380.9 552.5,380.8 552.8,383.2 553.2,382.5 553.5,381.8 553.9,380.3 554.3,378.7 554.6,380.4 555.0,380.1 555.4,379.9 555.7,380.2 556.1,377.9 556.5,382.6 556.8,379.2 557.2,379.5 557.5,381.5 557.9,378.8 558.3,382.0 558.6,382.3 559.0,381.1 559.4,380.5 559.7,381.4 560.1,380.2 560.5,385.0 560.8,382.9 561.2,381.8 561.5,381.6 561.9,382.7 562.3,383.7 562.6,379.8 563.0,380.5 563.4,378.0 563.7,381.3 564.1,380.4 564.5,383.3 564.8,380.1 565.2,379.9 565.5,378.8 565.9,381.3 566.3,377.5 566.6,380.7 567.0,379.9 567.4,379.1 567.7,378.3 568.1,380.4 568.5,381.3 568.8,378.8 569.2,379.9 569.5,381.8 569.9,378.9 570.3,379.3 570.6,378.0 571.0,379.3 571.4,380.4 571.7,379.8 572.1,379.6 572.5,378.3 572.8,379.0 573.2,379.3 573.5,381.5 573.9,380.1 574.3,379.7 574.6,381.3 575.0,381.1 575.4,378.9 575.7,378.9 576.1,380.3 576.5,379.9 576.8,377.7 577.2,378.8 577.5,378.3 577.9,379.3 578.3,376.9 578.6,379.2 579.0,378.7 579.4,376.1 579.7,378.7 580.1,379.0 580.4,375.8 580.8,380.5 581.2,376.6 581.5,376.7 581.9,377.7 582.3,378.9 582.6,379.1 583.0,378.2 583.4,379.8 583.7,379.4 584.1,380.6 584.4,382.1 584.8,379.0 585.2,375.1 585.5,377.5 585.9,376.6 586.3,378.8 586.6,379.3 587.0,377.6 587.4,377.9 587.7,379.8 588.1,379.4 588.4,376.4 588.8,382.6 589.2,381.4 589.5,381.2 589.9,381.1 590.3,378.8 590.6,379.8 591.0,381.4 591.4,381.5 591.7,380.8 592.1,379.1 592.4,378.7 592.8,381.4 593.2,380.8 593.5,380.2 593.9,378.2 594.3,379.6 594.6,378.5 595.0,383.0 595.4,382.0 595.7,379.8 596.1,380.8 596.4,384.2 596.8,382.1 597.2,378.5 597.5,380.3 597.9,378.8 598.3,378.0 598.6,380.1 599.0,384.2 599.4,382.9 599.7,380.8 600.1,380.1 600.4,381.3 600.8,382.9 601.2,379.4 601.5,378.5 601.9,384.2 602.3,382.1 602.6,384.2 603.0,383.1 603.3,384.3 603.7,381.2 604.1,382.7 604.4,383.7 604.8,382.8 605.2,380.3 605.5,381.8 605.9,379.5 606.3,378.0"/>
<path d="M347 25.4H394.6" stroke="#3535d8" stroke-width="2.8"/>
<path d="M347 58.7H394.6" stroke="#c02838" stroke-width="2.8"/>
<path d="M347 92.2H394.6" stroke="#222" stroke-width="2.8"/>
<text x="399.0" y="32.6" font-size="20.5" font-weight="normal" text-anchor="start" fill="#2e2e2e" textLength="195.0" lengthAdjust="spacingAndGlyphs" stroke="#2e2e2e" stroke-width="0.5">Cu doped Ni/Ni<tspan font-size="11.3" dy="6.1">3</tspan><tspan dy="-6.1">S</tspan><tspan font-size="11.3" dy="6.1">2</tspan><tspan dy="-6.1">/TM</tspan></text>
<text x="399.0" y="66.2" font-size="20.5" font-weight="normal" text-anchor="start" fill="#2e2e2e" textLength="111.0" lengthAdjust="spacingAndGlyphs" stroke="#2e2e2e" stroke-width="0.5">Ni/Ni<tspan font-size="11.3" dy="6.1">3</tspan><tspan dy="-6.1">S</tspan><tspan font-size="11.3" dy="6.1">2</tspan><tspan dy="-6.1">/TM</tspan></text>
<text x="399.0" y="99.0" font-size="20.5" font-weight="normal" text-anchor="start" fill="#2e2e2e" textLength="30.0" lengthAdjust="spacingAndGlyphs" stroke="#2e2e2e" stroke-width="0.5">TM</text>
<path d="M410.7 396.8H446.4" stroke="#222" stroke-width="2.2"/>
<text x="447.0" y="405.0" font-size="20" font-weight="bold" text-anchor="start" fill="#1a1a1a" textLength="157.5" lengthAdjust="spacingAndGlyphs">Ti PDF # 89-5009</text>
<text x="49.6" y="55.3" font-size="50" font-weight="bold" text-anchor="start" fill="#000" textLength="59.0" lengthAdjust="spacingAndGlyphs">(a)</text>
<rect x="685.5" y="8.5" width="575.0" height="428.0" fill="none" stroke="#1c1c1c" stroke-width="3.4"/>
<path d="M748.9 436.4V426.4M812.8 436.4V426.4M876.7 436.4V426.4M940.6 436.4V426.4M1004.5 436.4V426.4M1068.4 436.4V426.4M1132.3 436.4V426.4M1196.2 436.4V426.4M717.0 436.4V431.4M780.9 436.4V431.4M844.8 436.4V431.4M908.6 436.4V431.4M972.5 436.4V431.4M1036.5 436.4V431.4M1100.3 436.4V431.4M1164.2 436.4V431.4M1228.2 436.4V431.4" stroke="#1c1c1c" stroke-width="2.6" fill="none"/>
<text x="685.0" y="463.0" font-size="21" text-anchor="middle" fill="#3c3c3c" stroke="#3c3c3c" stroke-width="0.45">845</text>
<text x="748.9" y="463.0" font-size="21" text-anchor="middle" fill="#3c3c3c" stroke="#3c3c3c" stroke-width="0.45">850</text>
<text x="812.8" y="463.0" font-size="21" text-anchor="middle" fill="#3c3c3c" stroke="#3c3c3c" stroke-width="0.45">855</text>
<text x="876.7" y="463.0" font-size="21" text-anchor="middle" fill="#3c3c3c" stroke="#3c3c3c" stroke-width="0.45">860</text>
<text x="940.6" y="463.0" font-size="21" text-anchor="middle" fill="#3c3c3c" stroke="#3c3c3c" stroke-width="0.45">865</text>
<text x="1004.5" y="463.0" font-size="21" text-anchor="middle" fill="#3c3c3c" stroke="#3c3c3c" stroke-width="0.45">870</text>
<text x="1068.4" y="463.0" font-size="21" text-anchor="middle" fill="#3c3c3c" stroke="#3c3c3c" stroke-width="0.45">875</text>
<text x="1132.3" y="463.0" font-size="21" text-anchor="middle" fill="#3c3c3c" stroke="#3c3c3c" stroke-width="0.45">880</text>
<text x="1196.2" y="463.0" font-size="21" text-anchor="middle" fill="#3c3c3c" stroke="#3c3c3c" stroke-width="0.45">885</text>
<text x="1260.1" y="463.0" font-size="21" text-anchor="middle" fill="#3c3c3c" stroke="#3c3c3c" stroke-width="0.45">890</text>
<text x="892.6" y="484.3" font-size="23.8" font-weight="bold" text-anchor="start" fill="#000" textLength="221.0" lengthAdjust="spacingAndGlyphs">Binding energy (eV)</text>
<text transform="translate(674.0 209.9) rotate(-90)" x="0" y="0" font-size="25" font-weight="bold" text-anchor="middle" fill="#000" textLength="160.1" lengthAdjust="spacingAndGlyphs">Intensity (a.u.)</text>
<text x="689.8" y="54.2" font-size="50" font-weight="bold" text-anchor="start" fill="#000" textLength="60.3" lengthAdjust="spacingAndGlyphs">(b)</text>
<text x="1250.7" y="35.2" font-size="19" font-weight="bold" text-anchor="end" fill="#000" textLength="44.5" lengthAdjust="spacingAndGlyphs">Ni 2p</text>
<text x="1065.0" y="78.9" font-size="19" font-weight="normal" text-anchor="start" fill="#2e2e2e" textLength="188.3" lengthAdjust="spacingAndGlyphs" stroke="#2e2e2e" stroke-width="0.5">Cu doped Ni/Ni<tspan font-size="10.5" dy="5.7">3</tspan><tspan dy="-5.7">S</tspan><tspan font-size="10.5" dy="5.7">2</tspan><tspan dy="-5.7">/TM</tspan></text>
<text x="1150.0" y="247.2" font-size="19" font-weight="normal" text-anchor="start" fill="#2e2e2e" textLength="104.8" lengthAdjust="spacingAndGlyphs" stroke="#2e2e2e" stroke-width="0.5">Ni/Ni<tspan font-size="10.5" dy="5.7">3</tspan><tspan dy="-5.7">S</tspan><tspan font-size="10.5" dy="5.7">2</tspan><tspan dy="-5.7">/TM</tspan></text>
<g clip-path="url(#cb)">
<polyline fill="none" stroke="#111" stroke-width="2.6" stroke-linejoin="round" points="691.4,231.9 692.7,240.8 693.9,244.7 695.2,241.0 696.5,235.9 697.8,242.9 699.1,233.1 700.3,249.6 701.6,229.4 702.9,258.3 704.2,229.5 705.4,241.7 706.7,229.5 708.0,239.4 709.3,242.2 710.6,237.8 711.8,232.1 713.1,230.1 714.4,245.2 715.7,239.6 717.0,242.9 718.2,247.7 719.5,227.9 720.8,219.5 722.1,247.5 723.3,219.9 724.6,235.0 725.9,254.9 727.2,237.5 728.5,227.7 729.7,239.9 731.0,239.8 732.3,219.8 733.6,249.8 734.8,230.6 736.1,257.4 737.4,215.6 738.7,252.6 740.0,223.8 741.2,250.3 742.5,220.4 743.8,248.7 745.1,227.1 746.3,229.5 747.6,238.3 748.9,240.7 750.2,236.2 751.5,248.3 752.7,233.7 754.0,201.1 755.3,244.2 756.6,215.2 757.8,240.0 759.1,240.9 760.4,214.8 761.7,226.8 763.0,230.0 764.2,226.4 765.5,247.1 766.8,226.7 768.1,231.2 769.3,241.3 770.6,200.8 771.9,226.4 773.2,211.7 774.5,227.7 775.7,225.9 777.0,221.8 778.3,201.8 779.6,198.5 780.9,196.9 782.1,185.7 783.4,199.4 784.7,198.3 786.0,148.7 787.2,185.2 788.5,199.3 789.8,145.9 791.1,180.1 792.4,150.8 793.6,178.2 794.9,164.0 796.2,154.6 797.5,161.1 798.7,145.4 800.0,150.4 801.3,155.5 802.6,135.7 803.9,117.0 805.1,120.2 806.4,121.9 807.7,114.2 809.0,112.9 810.2,98.3 811.5,114.1 812.8,98.2 814.1,103.2 815.4,96.7 816.6,104.7 817.9,83.3 819.2,123.0 820.5,104.7 821.7,107.1 823.0,111.1 824.3,118.3 825.6,115.8 826.9,116.6 828.1,119.1 829.4,110.7 830.7,142.0 832.0,130.3 833.2,136.4 834.5,168.9 835.8,113.8 837.1,160.7 838.4,165.0 839.6,158.9 840.9,165.8 842.2,141.1 843.5,160.4 844.8,176.7 846.0,160.0 847.3,186.9 848.6,161.5 849.9,170.3 851.1,173.5 852.4,165.1 853.7,173.1 855.0,162.7 856.3,173.3 857.5,165.6 858.8,174.1 860.1,152.0 861.4,159.7 862.6,179.0 863.9,164.6 865.2,152.5 866.5,164.9 867.8,151.7 869.0,186.5 870.3,131.0 871.6,175.9 872.9,128.3 874.1,163.4 875.4,148.2 876.7,149.7 878.0,162.7 879.3,153.1 880.5,134.4 881.8,140.7 883.1,173.9 884.4,149.8 885.6,140.3 886.9,142.7 888.2,151.1 889.5,145.7 890.8,158.4 892.0,142.0 893.3,153.1 894.6,139.9 895.9,166.4 897.1,154.1 898.4,139.3 899.7,157.3 901.0,159.4 902.3,142.4 903.5,146.6 904.8,171.4 906.1,151.4 907.4,152.9 908.7,182.3 909.9,154.5 911.2,141.9 912.5,176.1 913.8,161.2 915.0,184.4 916.3,155.2 917.6,165.0 918.9,173.7 920.2,169.1 921.4,154.2 922.7,180.0 924.0,167.8 925.3,188.8 926.5,190.0 927.8,149.3 929.1,171.3 930.4,172.4 931.7,174.2 932.9,173.4 934.2,181.7 935.5,188.6 936.8,158.8 938.0,170.2 939.3,168.8 940.6,201.0 941.9,187.0 943.2,156.8 944.4,172.1 945.7,190.8 947.0,191.0 948.3,184.9 949.5,177.1 950.8,207.1 952.1,180.5 953.4,173.6 954.7,194.3 955.9,170.5 957.2,169.9 958.5,182.7 959.8,168.2 961.0,195.7 962.3,192.4 963.6,162.2 964.9,199.9 966.2,196.3 967.4,173.3 968.7,167.2 970.0,179.0 971.3,182.5 972.6,169.9 973.8,175.4 975.1,185.3 976.4,180.5 977.7,188.0 978.9,165.0 980.2,206.4 981.5,180.8 982.8,183.5 984.1,168.5 985.3,201.4 986.6,166.6 987.9,200.1 989.2,180.2 990.4,164.0 991.7,179.3 993.0,200.3 994.3,178.0 995.6,170.8 996.8,181.8 998.1,178.0 999.4,167.6 1000.7,178.4 1001.9,166.7 1003.2,174.0 1004.5,181.0 1005.8,160.4 1007.1,184.3 1008.3,166.8 1009.6,174.8 1010.9,169.6 1012.2,168.9 1013.4,156.3 1014.7,155.6 1016.0,140.9 1017.3,148.6 1018.6,125.2 1019.8,137.4 1021.1,142.8 1022.4,129.3 1023.7,140.1 1024.9,123.3 1026.2,157.8 1027.5,124.9 1028.8,145.7 1030.1,135.3 1031.3,146.1 1032.6,125.7 1033.9,124.9 1035.2,122.4 1036.5,123.6 1037.7,116.7 1039.0,137.7 1040.3,135.8 1041.6,91.9 1042.8,129.6 1044.1,131.5 1045.4,131.6 1046.7,116.8 1048.0,122.3 1049.2,124.5 1050.5,124.8 1051.8,136.1 1053.1,120.5 1054.3,108.4 1055.6,127.8 1056.9,133.9 1058.2,118.5 1059.5,131.1 1060.7,126.4 1062.0,127.2 1063.3,143.5 1064.6,125.5 1065.8,125.3 1067.1,133.9 1068.4,140.2 1069.7,157.9 1071.0,127.7 1072.2,151.1 1073.5,134.4 1074.8,113.1 1076.1,154.1 1077.3,117.0 1078.6,129.0 1079.9,134.6 1081.2,162.3 1082.5,111.3 1083.7,139.9 1085.0,152.4 1086.3,136.9 1087.6,114.8 1088.8,144.2 1090.1,130.5 1091.4,135.6 1092.7,142.9 1094.0,123.4 1095.2,149.3 1096.5,149.2 1097.8,104.6 1099.1,137.8 1100.4,137.6 1101.6,114.6 1102.9,130.0 1104.2,119.0 1105.5,137.4 1106.7,129.2 1108.0,150.8 1109.3,132.8 1110.6,120.9 1111.9,121.6 1113.1,130.1 1114.4,124.0 1115.7,96.7 1117.0,142.0 1118.2,120.0 1119.5,130.2 1120.8,104.6 1122.1,139.5 1123.4,139.2 1124.6,116.7 1125.9,103.7 1127.2,130.7 1128.5,121.3 1129.7,124.9 1131.0,118.9 1132.3,129.3 1133.6,115.7 1134.9,128.7 1136.1,113.1 1137.4,129.8 1138.7,135.3 1140.0,115.6 1141.2,136.7 1142.5,114.9 1143.8,129.8 1145.1,129.1 1146.4,144.5 1147.6,116.2 1148.9,148.9 1150.2,110.8 1151.5,140.3 1152.7,144.8 1154.0,137.3 1155.3,121.8 1156.6,130.0 1157.9,153.6 1159.1,120.4 1160.4,152.2 1161.7,131.1 1163.0,143.2 1164.3,164.9 1165.5,139.1 1166.8,142.0 1168.1,123.7 1169.4,154.2 1170.6,142.3 1171.9,142.7 1173.2,158.8 1174.5,119.5 1175.8,164.6 1177.0,145.0 1178.3,137.3 1179.6,168.1 1180.9,123.4 1182.1,154.0 1183.4,147.4 1184.7,123.8 1186.0,144.8 1187.3,145.4 1188.5,161.1 1189.8,152.9 1191.1,148.5 1192.4,146.9 1193.6,123.8 1194.9,176.6 1196.2,141.6 1197.5,163.2 1198.8,155.5 1200.0,163.8 1201.3,143.0 1202.6,152.8 1203.9,133.1 1205.1,155.2 1206.4,135.3 1207.7,164.8 1209.0,131.1 1210.3,133.6 1211.5,141.3 1212.8,148.3 1214.1,156.1 1215.4,140.1 1216.6,154.0 1217.9,136.8 1219.2,168.6 1220.5,132.5 1221.8,162.6 1223.0,164.7 1224.3,111.0 1225.6,151.9 1226.9,151.8 1228.2,161.5 1229.4,136.5 1230.7,154.9 1232.0,138.4 1233.3,158.1 1234.5,142.5 1235.8,163.6 1237.1,112.2 1238.4,145.0 1239.7,177.5 1240.9,139.2 1242.2,124.5 1243.5,175.7 1244.8,146.0 1246.0,153.4 1247.3,134.8 1248.6,156.4 1249.9,149.2 1251.2,116.7 1252.4,163.1 1253.7,142.1 1255.0,161.8 1256.3,153.5 1257.5,133.1 1258.8,144.7 1260.1,152.7"/>
<polyline fill="none" stroke="#e020d8" stroke-width="2.0" stroke-linejoin="round" points="691.4,242.3 692.7,242.2 693.9,242.2 695.2,242.2 696.5,242.1 697.8,242.1 699.1,242.1 700.3,242.0 701.6,242.0 702.9,241.9 704.2,241.9 705.4,241.9 706.7,241.8 708.0,241.8 709.3,241.7 710.6,241.7 711.8,241.6 713.1,241.6 714.4,241.5 715.7,241.5 717.0,241.4 718.2,241.3 719.5,241.3 720.8,241.2 722.1,241.2 723.3,241.1 724.6,241.0 725.9,240.9 727.2,240.9 728.5,240.8 729.7,240.7 731.0,240.6 732.3,240.5 733.6,240.5 734.8,240.4 736.1,240.3 737.4,240.2 738.7,240.0 740.0,239.9 741.2,239.8 742.5,239.7 743.8,239.5 745.1,239.4 746.3,239.2 747.6,239.0 748.9,238.8 750.2,238.6 751.5,238.4 752.7,238.2 754.0,237.9 755.3,237.6 756.6,237.3 757.8,237.0 759.1,236.6 760.4,236.2 761.7,235.7 763.0,235.2 764.2,234.6 765.5,234.0 766.8,233.2 768.1,232.4 769.3,231.5 770.6,230.5 771.9,229.3 773.2,228.0 774.5,226.6 775.7,225.0 777.0,223.2 778.3,221.2 779.6,219.1 780.9,216.7 782.1,214.1 783.4,211.3 784.7,208.2 786.0,204.9 787.2,201.4 788.5,197.5 789.8,193.5 791.1,189.2 792.4,184.6 793.6,179.8 794.9,174.9 796.2,169.7 797.5,164.4 798.7,159.0 800.0,153.5 801.3,148.0 802.6,142.5 803.9,137.1 805.1,131.9 806.4,127.0 807.7,122.4 809.0,118.3 810.2,114.7 811.5,111.7 812.8,109.4 814.1,107.8 815.4,106.9 816.6,106.9 817.9,107.6 819.2,109.1 820.5,111.2 821.7,114.0 823.0,117.3 824.3,121.0 825.6,125.0 826.9,129.3 828.1,133.8 829.4,138.4 830.7,143.1 832.0,147.7 833.2,152.3 834.5,156.7 835.8,161.0 837.1,165.2 838.4,169.1 839.6,172.8 840.9,176.3 842.2,179.6 843.5,182.6 844.8,185.3 846.0,187.8 847.3,190.1 848.6,192.2 849.9,194.0 851.1,195.6 852.4,197.0 853.7,198.3 855.0,199.4 856.3,200.3 857.5,201.1 858.8,201.8 860.1,202.3 861.4,202.8 862.6,203.1 863.9,203.4 865.2,203.6 866.5,203.7 867.8,203.8 869.0,203.9 870.3,203.9 871.6,203.9 872.9,203.8 874.1,203.7 875.4,203.6 876.7,203.5 878.0,203.4 879.3,203.3 880.5,203.2 881.8,203.0 883.1,202.9 884.4,202.7 885.6,202.6 886.9,202.4 888.2,202.3 889.5,202.1 890.8,202.0 892.0,201.8 893.3,201.6 894.6,201.5 895.9,201.3 897.1,201.1 898.4,201.0 899.7,200.8 901.0,200.6 902.3,200.4 903.5,200.2 904.8,200.1 906.1,199.9 907.4,199.7 908.7,199.5 909.9,199.3 911.2,199.1 912.5,198.9 913.8,198.7 915.0,198.5 916.3,198.3 917.6,198.1 918.9,197.9 920.2,197.7 921.4,197.5 922.7,197.3 924.0,197.1 925.3,196.8 926.5,196.6 927.8,196.4 929.1,196.2 930.4,196.0 931.7,195.8 932.9,195.5 934.2,195.3 935.5,195.1 936.8,194.9 938.0,194.7 939.3,194.4 940.6,194.2 941.9,194.0 943.2,193.8 944.4,193.6 945.7,193.4 947.0,193.1 948.3,192.9 949.5,192.7 950.8,192.5 952.1,192.3 953.4,192.1 954.7,192.0 955.9,191.8 957.2,191.6 958.5,191.5 959.8,191.3 961.0,191.2 962.3,191.1 963.6,190.9 964.9,190.8 966.2,190.7 967.4,190.6 968.7,190.6 970.0,190.5 971.3,190.4 972.6,190.4 973.8,190.3 975.1,190.2 976.4,190.2 977.7,190.1 978.9,190.1 980.2,190.0 981.5,190.0 982.8,189.9 984.1,189.8 985.3,189.8 986.6,189.7 987.9,189.7 989.2,189.6 990.4,189.6 991.7,189.5 993.0,189.4 994.3,189.4 995.6,189.3 996.8,189.2 998.1,189.1 999.4,189.0 1000.7,188.9 1001.9,188.7 1003.2,188.6 1004.5,188.4 1005.8,188.2 1007.1,188.0 1008.3,187.7 1009.6,187.5 1010.9,187.2 1012.2,186.9 1013.4,186.6 1014.7,186.3 1016.0,185.9 1017.3,185.6 1018.6,185.2 1019.8,184.9 1021.1,184.5 1022.4,184.1 1023.7,183.8 1024.9,183.4 1026.2,183.1 1027.5,182.7 1028.8,182.4 1030.1,182.1 1031.3,181.8 1032.6,181.5 1033.9,181.2 1035.2,181.0 1036.5,180.7 1037.7,180.5 1039.0,180.2 1040.3,180.0 1041.6,179.8 1042.8,179.5 1044.1,179.3 1045.4,179.1 1046.7,178.9 1048.0,178.7 1049.2,178.5 1050.5,178.2 1051.8,178.0 1053.1,177.8 1054.3,177.6 1055.6,177.4 1056.9,177.2 1058.2,177.0 1059.5,176.8 1060.7,176.6 1062.0,176.4 1063.3,176.1 1064.6,175.9 1065.8,175.7 1067.1,175.5 1068.4,175.3 1069.7,175.1 1071.0,174.8 1072.2,174.6 1073.5,174.4 1074.8,174.2 1076.1,173.9 1077.3,173.7 1078.6,173.4 1079.9,173.2 1081.2,172.9 1082.5,172.7 1083.7,172.4 1085.0,172.2 1086.3,171.9 1087.6,171.6 1088.8,171.3 1090.1,171.1 1091.4,170.8 1092.7,170.5 1094.0,170.2 1095.2,170.0 1096.5,169.7 1097.8,169.4 1099.1,169.1 1100.4,168.8 1101.6,168.6 1102.9,168.3 1104.2,168.0 1105.5,167.7 1106.7,167.4 1108.0,167.1 1109.3,166.9 1110.6,166.6 1111.9,166.3 1113.1,166.0 1114.4,165.8 1115.7,165.5 1117.0,165.2 1118.2,164.9 1119.5,164.7 1120.8,164.4 1122.1,164.1 1123.4,163.9 1124.6,163.6 1125.9,163.4 1127.2,163.2 1128.5,162.9 1129.7,162.7 1131.0,162.5 1132.3,162.3 1133.6,162.0 1134.9,161.8 1136.1,161.6 1137.4,161.4 1138.7,161.2 1140.0,161.0 1141.2,160.8 1142.5,160.6 1143.8,160.4 1145.1,160.3 1146.4,160.1 1147.6,159.9 1148.9,159.7 1150.2,159.5 1151.5,159.3 1152.7,159.1 1154.0,158.9 1155.3,158.7 1156.6,158.5 1157.9,158.3 1159.1,158.2 1160.4,158.0 1161.7,157.8 1163.0,157.6 1164.3,157.4 1165.5,157.2 1166.8,157.0 1168.1,156.8 1169.4,156.6 1170.6,156.5 1171.9,156.3 1173.2,156.1 1174.5,155.9 1175.8,155.7 1177.0,155.6 1178.3,155.4 1179.6,155.2 1180.9,155.1 1182.1,154.9 1183.4,154.8 1184.7,154.6 1186.0,154.5 1187.3,154.4 1188.5,154.2 1189.8,154.1 1191.1,154.0 1192.4,153.9 1193.6,153.8 1194.9,153.7 1196.2,153.6 1197.5,153.5 1198.8,153.5 1200.0,153.4 1201.3,153.3 1202.6,153.2 1203.9,153.1 1205.1,153.1 1206.4,153.0 1207.7,152.9 1209.0,152.8 1210.3,152.8 1211.5,152.7 1212.8,152.6 1214.1,152.6 1215.4,152.5 1216.6,152.4 1217.9,152.3 1219.2,152.3 1220.5,152.2 1221.8,152.1 1223.0,152.0 1224.3,152.0 1225.6,151.9 1226.9,151.8 1228.2,151.7 1229.4,151.7 1230.7,151.6 1232.0,151.5 1233.3,151.4 1234.5,151.4 1235.8,151.3 1237.1,151.2 1238.4,151.2 1239.7,151.1 1240.9,151.0 1242.2,150.9 1243.5,150.9 1244.8,150.8 1246.0,150.7 1247.3,150.7 1248.6,150.6 1249.9,150.5 1251.2,150.5 1252.4,150.4 1253.7,150.3 1255.0,150.3 1256.3,150.2 1257.5,150.2 1258.8,150.1 1260.1,150.1"/>
<polyline fill="none" stroke="#9030a8" stroke-width="2.0" stroke-linejoin="round" points="691.4,243.4 692.7,243.4 693.9,243.4 695.2,243.4 696.5,243.4 697.8,243.4 699.1,243.4 700.3,243.4 701.6,243.4 702.9,243.4 704.2,243.4 705.4,243.3 706.7,243.3 708.0,243.3 709.3,243.3 710.6,243.3 711.8,243.3 713.1,243.3 714.4,243.3 715.7,243.3 717.0,243.2 718.2,243.2 719.5,243.2 720.8,243.2 722.1,243.2 723.3,243.2 724.6,243.2 725.9,243.1 727.2,243.1 728.5,243.1 729.7,243.1 731.0,243.1 732.3,243.1 733.6,243.1 734.8,243.0 736.1,243.0 737.4,243.0 738.7,243.0 740.0,243.0 741.2,242.9 742.5,242.9 743.8,242.9 745.1,242.8 746.3,242.8 747.6,242.7 748.9,242.7 750.2,242.6 751.5,242.5 752.7,242.5 754.0,242.4 755.3,242.3 756.6,242.2 757.8,242.1 759.1,242.0 760.4,241.8 761.7,241.7 763.0,241.5 764.2,241.3 765.5,241.1 766.8,240.9 768.1,240.6 769.3,240.2 770.6,239.7 771.9,239.1 773.2,238.2 774.5,237.2 775.7,235.8 777.0,234.0 778.3,231.9 779.6,229.3 780.9,226.5 782.1,223.6 783.4,220.7 784.7,218.2 786.0,216.4 787.2,215.4 788.5,215.4 789.8,216.2 791.1,217.7 792.4,219.6 793.6,221.5 794.9,223.4 796.2,224.9 797.5,226.1 798.7,227.0 800.0,227.5 801.3,227.7 802.6,227.6 803.9,227.4 805.1,227.1 806.4,226.7 807.7,226.3 809.0,225.9 810.2,225.4 811.5,225.0 812.8,224.5 814.1,224.1 815.4,223.7 816.6,223.3 817.9,222.9 819.2,222.5 820.5,222.2 821.7,221.8 823.0,221.5 824.3,221.1 825.6,220.8 826.9,220.5 828.1,220.2 829.4,219.9 830.7,219.5 832.0,219.2 833.2,218.9 834.5,218.6 835.8,218.3 837.1,218.0 838.4,217.7 839.6,217.4 840.9,217.1 842.2,216.8 843.5,216.5 844.8,216.2 846.0,215.9 847.3,215.6 848.6,215.3 849.9,215.0 851.1,214.7 852.4,214.4 853.7,214.0 855.0,213.7 856.3,213.4 857.5,213.1 858.8,212.8 860.1,212.4 861.4,212.1 862.6,211.8 863.9,211.5 865.2,211.1 866.5,210.8 867.8,210.5 869.0,210.1 870.3,209.8 871.6,209.5 872.9,209.1 874.1,208.8 875.4,208.5 876.7,208.2 878.0,207.9 879.3,207.6 880.5,207.3 881.8,207.0 883.1,206.7 884.4,206.4 885.6,206.1 886.9,205.8 888.2,205.6 889.5,205.3 890.8,205.1 892.0,204.8 893.3,204.5 894.6,204.3 895.9,204.0 897.1,203.8 898.4,203.5 899.7,203.3 901.0,203.0 902.3,202.8 903.5,202.5 904.8,202.3 906.1,202.1 907.4,201.8 908.7,201.6 909.9,201.3 911.2,201.1 912.5,200.8 913.8,200.6 915.0,200.3 916.3,200.1 917.6,199.8 918.9,199.6 920.2,199.3 921.4,199.1 922.7,198.8 924.0,198.6 925.3,198.4 926.5,198.1 927.8,197.9 929.1,197.6 930.4,197.4 931.7,197.1 932.9,196.9 934.2,196.6 935.5,196.4 936.8,196.1 938.0,195.9 939.3,195.6 940.6,195.4 941.9,195.2 943.2,194.9 944.4,194.7 945.7,194.4 947.0,194.2 948.3,194.0 949.5,193.7 950.8,193.5 952.1,193.3 953.4,193.1 954.7,192.9 955.9,192.7 957.2,192.5 958.5,192.4 959.8,192.2 961.0,192.1 962.3,191.9 963.6,191.8 964.9,191.7 966.2,191.6 967.4,191.4 968.7,191.4 970.0,191.3 971.3,191.2 972.6,191.1 973.8,191.0 975.1,191.0 976.4,190.9 977.7,190.8 978.9,190.8 980.2,190.7 981.5,190.6 982.8,190.6 984.1,190.5 985.3,190.4 986.6,190.4 987.9,190.3 989.2,190.2 990.4,190.2 991.7,190.1 993.0,190.0 994.3,189.9 995.6,189.8 996.8,189.7 998.1,189.6 999.4,189.5 1000.7,189.4 1001.9,189.3 1003.2,189.1 1004.5,188.9 1005.8,188.7 1007.1,188.5 1008.3,188.2 1009.6,188.0 1010.9,187.7 1012.2,187.4 1013.4,187.1 1014.7,186.8 1016.0,186.4 1017.3,186.0 1018.6,185.7 1019.8,185.3 1021.1,184.9 1022.4,184.6 1023.7,184.2 1024.9,183.9 1026.2,183.5 1027.5,183.2 1028.8,182.8 1030.1,182.5 1031.3,182.2 1032.6,181.9 1033.9,181.6 1035.2,181.4 1036.5,181.1 1037.7,180.8 1039.0,180.6 1040.3,180.4 1041.6,180.1 1042.8,179.9 1044.1,179.7 1045.4,179.4 1046.7,179.2 1048.0,179.0 1049.2,178.8 1050.5,178.6 1051.8,178.4 1053.1,178.2 1054.3,177.9 1055.6,177.7 1056.9,177.5 1058.2,177.3 1059.5,177.1 1060.7,176.9 1062.0,176.7 1063.3,176.4 1064.6,176.2 1065.8,176.0 1067.1,175.8 1068.4,175.6 1069.7,175.3 1071.0,175.1 1072.2,174.9 1073.5,174.7 1074.8,174.4 1076.1,174.2 1077.3,173.9 1078.6,173.7 1079.9,173.5 1081.2,173.2 1082.5,172.9 1083.7,172.7 1085.0,172.4 1086.3,172.1 1087.6,171.9 1088.8,171.6 1090.1,171.3 1091.4,171.0 1092.7,170.8 1094.0,170.5 1095.2,170.2 1096.5,169.9 1097.8,169.6 1099.1,169.3 1100.4,169.1 1101.6,168.8 1102.9,168.5 1104.2,168.2 1105.5,167.9 1106.7,167.6 1108.0,167.4 1109.3,167.1 1110.6,166.8 1111.9,166.5 1113.1,166.2 1114.4,166.0 1115.7,165.7 1117.0,165.4 1118.2,165.1 1119.5,164.9 1120.8,164.6 1122.1,164.3 1123.4,164.1 1124.6,163.8 1125.9,163.6 1127.2,163.4 1128.5,163.1 1129.7,162.9 1131.0,162.7 1132.3,162.4 1133.6,162.2 1134.9,162.0 1136.1,161.8 1137.4,161.6 1138.7,161.4 1140.0,161.2 1141.2,161.0 1142.5,160.8 1143.8,160.6 1145.1,160.4 1146.4,160.2 1147.6,160.0 1148.9,159.8 1150.2,159.7 1151.5,159.5 1152.7,159.3 1154.0,159.1 1155.3,158.9 1156.6,158.7 1157.9,158.5 1159.1,158.3 1160.4,158.1 1161.7,157.9 1163.0,157.7 1164.3,157.6 1165.5,157.4 1166.8,157.2 1168.1,157.0 1169.4,156.8 1170.6,156.6 1171.9,156.4 1173.2,156.2 1174.5,156.1 1175.8,155.9 1177.0,155.7 1178.3,155.5 1179.6,155.4 1180.9,155.2 1182.1,155.0 1183.4,154.9 1184.7,154.8 1186.0,154.6 1187.3,154.5 1188.5,154.4 1189.8,154.3 1191.1,154.1 1192.4,154.0 1193.6,153.9 1194.9,153.8 1196.2,153.8 1197.5,153.7 1198.8,153.6 1200.0,153.5 1201.3,153.4 1202.6,153.3 1203.9,153.3 1205.1,153.2 1206.4,153.1 1207.7,153.0 1209.0,153.0 1210.3,152.9 1211.5,152.8 1212.8,152.7 1214.1,152.7 1215.4,152.6 1216.6,152.5 1217.9,152.4 1219.2,152.4 1220.5,152.3 1221.8,152.2 1223.0,152.1 1224.3,152.1 1225.6,152.0 1226.9,151.9 1228.2,151.9 1229.4,151.8 1230.7,151.7 1232.0,151.6 1233.3,151.6 1234.5,151.5 1235.8,151.4 1237.1,151.3 1238.4,151.3 1239.7,151.2 1240.9,151.1 1242.2,151.0 1243.5,151.0 1244.8,150.9 1246.0,150.8 1247.3,150.8 1248.6,150.7 1249.9,150.6 1251.2,150.6 1252.4,150.5 1253.7,150.4 1255.0,150.4 1256.3,150.3 1257.5,150.3 1258.8,150.2 1260.1,150.2"/>
<polyline fill="none" stroke="#2a8a2a" stroke-width="2.0" stroke-linejoin="round" points="691.4,242.7 692.7,242.7 693.9,242.7 695.2,242.7 696.5,242.6 697.8,242.6 699.1,242.6 700.3,242.6 701.6,242.6 702.9,242.5 704.2,242.5 705.4,242.5 706.7,242.5 708.0,242.5 709.3,242.4 710.6,242.4 711.8,242.4 713.1,242.4 714.4,242.3 715.7,242.3 717.0,242.3 718.2,242.3 719.5,242.2 720.8,242.2 722.1,242.2 723.3,242.2 724.6,242.1 725.9,242.1 727.2,242.1 728.5,242.0 729.7,242.0 731.0,242.0 732.3,241.9 733.6,241.9 734.8,241.9 736.1,241.8 737.4,241.8 738.7,241.8 740.0,241.7 741.2,241.7 742.5,241.6 743.8,241.6 745.1,241.5 746.3,241.5 747.6,241.4 748.9,241.3 750.2,241.2 751.5,241.2 752.7,241.1 754.0,241.0 755.3,240.9 756.6,240.8 757.8,240.6 759.1,240.5 760.4,240.4 761.7,240.2 763.0,240.0 764.2,239.8 765.5,239.6 766.8,239.4 768.1,239.2 769.3,238.9 770.6,238.6 771.9,238.3 773.2,237.9 774.5,237.5 775.7,237.1 777.0,236.7 778.3,236.3 779.6,235.8 780.9,235.3 782.1,234.8 783.4,234.3 784.7,233.7 786.0,233.2 787.2,232.6 788.5,232.1 789.8,231.5 791.1,230.9 792.4,230.3 793.6,229.6 794.9,229.0 796.2,228.4 797.5,227.7 798.7,227.1 800.0,226.4 801.3,225.7 802.6,225.1 803.9,224.4 805.1,223.7 806.4,223.1 807.7,222.4 809.0,221.7 810.2,221.0 811.5,220.4 812.8,219.7 814.1,219.0 815.4,218.4 816.6,217.7 817.9,217.0 819.2,216.4 820.5,215.7 821.7,215.0 823.0,214.3 824.3,213.6 825.6,212.9 826.9,212.1 828.1,211.4 829.4,210.6 830.7,209.7 832.0,208.9 833.2,208.0 834.5,207.1 835.8,206.2 837.1,205.2 838.4,204.2 839.6,203.1 840.9,202.0 842.2,200.9 843.5,199.7 844.8,198.5 846.0,197.2 847.3,195.9 848.6,194.6 849.9,193.2 851.1,191.8 852.4,190.3 853.7,188.8 855.0,187.3 856.3,185.7 857.5,184.1 858.8,182.4 860.1,180.8 861.4,179.1 862.6,177.4 863.9,175.6 865.2,173.9 866.5,172.2 867.8,170.5 869.0,168.8 870.3,167.1 871.6,165.5 872.9,163.9 874.1,162.4 875.4,160.9 876.7,159.5 878.0,158.3 879.3,157.1 880.5,156.1 881.8,155.1 883.1,154.4 884.4,153.7 885.6,153.2 886.9,152.9 888.2,152.7 889.5,152.6 890.8,152.7 892.0,153.0 893.3,153.3 894.6,153.8 895.9,154.4 897.1,155.1 898.4,155.9 899.7,156.8 901.0,157.8 902.3,158.8 903.5,159.8 904.8,160.9 906.1,162.0 907.4,163.2 908.7,164.3 909.9,165.5 911.2,166.6 912.5,167.8 913.8,168.9 915.0,170.0 916.3,171.0 917.6,172.1 918.9,173.1 920.2,174.1 921.4,175.0 922.7,175.9 924.0,176.8 925.3,177.6 926.5,178.4 927.8,179.2 929.1,179.9 930.4,180.5 931.7,181.2 932.9,181.7 934.2,182.3 935.5,182.8 936.8,183.2 938.0,183.7 939.3,184.1 940.6,184.4 941.9,184.7 943.2,185.0 944.4,185.3 945.7,185.5 947.0,185.7 948.3,185.9 949.5,186.1 950.8,186.2 952.1,186.3 953.4,186.4 954.7,186.5 955.9,186.6 957.2,186.7 958.5,186.8 959.8,186.9 961.0,186.9 962.3,187.0 963.6,187.0 964.9,187.1 966.2,187.1 967.4,187.2 968.7,187.2 970.0,187.3 971.3,187.3 972.6,187.4 973.8,187.4 975.1,187.5 976.4,187.5 977.7,187.5 978.9,187.5 980.2,187.6 981.5,187.6 982.8,187.6 984.1,187.6 985.3,187.6 986.6,187.6 987.9,187.6 989.2,187.6 990.4,187.6 991.7,187.6 993.0,187.6 994.3,187.6 995.6,187.5 996.8,187.5 998.1,187.4 999.4,187.3 1000.7,187.3 1001.9,187.2 1003.2,187.0 1004.5,186.9 1005.8,186.7 1007.1,186.6 1008.3,186.4 1009.6,186.1 1010.9,185.9 1012.2,185.6 1013.4,185.3 1014.7,185.0 1016.0,184.7 1017.3,184.4 1018.6,184.1 1019.8,183.7 1021.1,183.4 1022.4,183.0 1023.7,182.7 1024.9,182.4 1026.2,182.0 1027.5,181.7 1028.8,181.4 1030.1,181.1 1031.3,180.8 1032.6,180.6 1033.9,180.3 1035.2,180.1 1036.5,179.8 1037.7,179.6 1039.0,179.4 1040.3,179.1 1041.6,178.9 1042.8,178.7 1044.1,178.5 1045.4,178.3 1046.7,178.1 1048.0,177.9 1049.2,177.7 1050.5,177.5 1051.8,177.3 1053.1,177.1 1054.3,176.9 1055.6,176.7 1056.9,176.5 1058.2,176.3 1059.5,176.1 1060.7,175.9 1062.0,175.7 1063.3,175.5 1064.6,175.3 1065.8,175.1 1067.1,174.9 1068.4,174.7 1069.7,174.5 1071.0,174.3 1072.2,174.1 1073.5,173.8 1074.8,173.6 1076.1,173.4 1077.3,173.2 1078.6,172.9 1079.9,172.7 1081.2,172.4 1082.5,172.2 1083.7,171.9 1085.0,171.7 1086.3,171.4 1087.6,171.2 1088.8,170.9 1090.1,170.6 1091.4,170.3 1092.7,170.1 1094.0,169.8 1095.2,169.5 1096.5,169.3 1097.8,169.0 1099.1,168.7 1100.4,168.4 1101.6,168.2 1102.9,167.9 1104.2,167.6 1105.5,167.3 1106.7,167.0 1108.0,166.8 1109.3,166.5 1110.6,166.2 1111.9,165.9 1113.1,165.7 1114.4,165.4 1115.7,165.1 1117.0,164.9 1118.2,164.6 1119.5,164.3 1120.8,164.1 1122.1,163.8 1123.4,163.6 1124.6,163.3 1125.9,163.1 1127.2,162.8 1128.5,162.6 1129.7,162.4 1131.0,162.2 1132.3,162.0 1133.6,161.8 1134.9,161.5 1136.1,161.3 1137.4,161.1 1138.7,160.9 1140.0,160.7 1141.2,160.6 1142.5,160.4 1143.8,160.2 1145.1,160.0 1146.4,159.8 1147.6,159.6 1148.9,159.4 1150.2,159.2 1151.5,159.0 1152.7,158.9 1154.0,158.7 1155.3,158.5 1156.6,158.3 1157.9,158.1 1159.1,157.9 1160.4,157.7 1161.7,157.5 1163.0,157.4 1164.3,157.2 1165.5,157.0 1166.8,156.8 1168.1,156.6 1169.4,156.4 1170.6,156.2 1171.9,156.1 1173.2,155.9 1174.5,155.7 1175.8,155.5 1177.0,155.4 1178.3,155.2 1179.6,155.0 1180.9,154.9 1182.1,154.7 1183.4,154.6 1184.7,154.4 1186.0,154.3 1187.3,154.2 1188.5,154.0 1189.8,153.9 1191.1,153.8 1192.4,153.7 1193.6,153.6 1194.9,153.5 1196.2,153.4 1197.5,153.4 1198.8,153.3 1200.0,153.2 1201.3,153.1 1202.6,153.0 1203.9,153.0 1205.1,152.9 1206.4,152.8 1207.7,152.8 1209.0,152.7 1210.3,152.6 1211.5,152.5 1212.8,152.5 1214.1,152.4 1215.4,152.3 1216.6,152.2 1217.9,152.2 1219.2,152.1 1220.5,152.0 1221.8,152.0 1223.0,151.9 1224.3,151.8 1225.6,151.7 1226.9,151.7 1228.2,151.6 1229.4,151.5 1230.7,151.5 1232.0,151.4 1233.3,151.3 1234.5,151.2 1235.8,151.2 1237.1,151.1 1238.4,151.0 1239.7,151.0 1240.9,150.9 1242.2,150.8 1243.5,150.7 1244.8,150.7 1246.0,150.6 1247.3,150.5 1248.6,150.5 1249.9,150.4 1251.2,150.3 1252.4,150.3 1253.7,150.2 1255.0,150.2 1256.3,150.1 1257.5,150.1 1258.8,150.0 1260.1,150.0"/>
<polyline fill="none" stroke="#8b2a4a" stroke-width="2.0" stroke-linejoin="round" points="691.4,243.5 692.7,243.5 693.9,243.5 695.2,243.4 696.5,243.4 697.8,243.4 699.1,243.4 700.3,243.4 701.6,243.4 702.9,243.4 704.2,243.4 705.4,243.4 706.7,243.4 708.0,243.4 709.3,243.3 710.6,243.3 711.8,243.3 713.1,243.3 714.4,243.3 715.7,243.3 717.0,243.3 718.2,243.3 719.5,243.3 720.8,243.2 722.1,243.2 723.3,243.2 724.6,243.2 725.9,243.2 727.2,243.2 728.5,243.2 729.7,243.2 731.0,243.2 732.3,243.1 733.6,243.1 734.8,243.1 736.1,243.1 737.4,243.1 738.7,243.1 740.0,243.0 741.2,243.0 742.5,243.0 743.8,243.0 745.1,242.9 746.3,242.9 747.6,242.8 748.9,242.8 750.2,242.7 751.5,242.7 752.7,242.6 754.0,242.6 755.3,242.5 756.6,242.4 757.8,242.3 759.1,242.2 760.4,242.1 761.7,242.0 763.0,241.8 764.2,241.7 765.5,241.5 766.8,241.3 768.1,241.1 769.3,240.9 770.6,240.6 771.9,240.3 773.2,240.0 774.5,239.7 775.7,239.4 777.0,239.0 778.3,238.6 779.6,238.2 780.9,237.7 782.1,237.3 783.4,236.8 784.7,236.4 786.0,235.9 787.2,235.4 788.5,234.9 789.8,234.3 791.1,233.8 792.4,233.3 793.6,232.8 794.9,232.2 796.2,231.7 797.5,231.1 798.7,230.6 800.0,230.0 801.3,229.5 802.6,228.9 803.9,228.4 805.1,227.8 806.4,227.3 807.7,226.8 809.0,226.3 810.2,225.8 811.5,225.3 812.8,224.8 814.1,224.4 815.4,223.9 816.6,223.5 817.9,223.1 819.2,222.7 820.5,222.3 821.7,222.0 823.0,221.6 824.3,221.3 825.6,220.9 826.9,220.6 828.1,220.3 829.4,220.0 830.7,219.6 832.0,219.3 833.2,219.0 834.5,218.7 835.8,218.4 837.1,218.1 838.4,217.8 839.6,217.5 840.9,217.2 842.2,216.9 843.5,216.6 844.8,216.3 846.0,215.9 847.3,215.6 848.6,215.3 849.9,215.0 851.1,214.7 852.4,214.4 853.7,214.1 855.0,213.8 856.3,213.4 857.5,213.1 858.8,212.8 860.1,212.5 861.4,212.1 862.6,211.8 863.9,211.5 865.2,211.2 866.5,210.8 867.8,210.5 869.0,210.1 870.3,209.8 871.6,209.5 872.9,209.2 874.1,208.8 875.4,208.5 876.7,208.2 878.0,207.9 879.3,207.6 880.5,207.3 881.8,207.0 883.1,206.7 884.4,206.4 885.6,206.1 886.9,205.9 888.2,205.6 889.5,205.3 890.8,205.1 892.0,204.8 893.3,204.5 894.6,204.3 895.9,204.0 897.1,203.8 898.4,203.5 899.7,203.3 901.0,203.0 902.3,202.8 903.5,202.5 904.8,202.3 906.1,202.1 907.4,201.8 908.7,201.6 909.9,201.3 911.2,201.1 912.5,200.8 913.8,200.6 915.0,200.3 916.3,200.1 917.6,199.8 918.9,199.6 920.2,199.3 921.4,199.1 922.7,198.8 924.0,198.6 925.3,198.3 926.5,198.1 927.8,197.9 929.1,197.6 930.4,197.4 931.7,197.1 932.9,196.9 934.2,196.6 935.5,196.4 936.8,196.1 938.0,195.9 939.3,195.6 940.6,195.4 941.9,195.1 943.2,194.9 944.4,194.7 945.7,194.4 947.0,194.2 948.3,193.9 949.5,193.7 950.8,193.5 952.1,193.3 953.4,193.1 954.7,192.9 955.9,192.7 957.2,192.5 958.5,192.3 959.8,192.2 961.0,192.0 962.3,191.9 963.6,191.7 964.9,191.6 966.2,191.5 967.4,191.4 968.7,191.3 970.0,191.2 971.3,191.1 972.6,191.0 973.8,191.0 975.1,190.9 976.4,190.8 977.7,190.7 978.9,190.7 980.2,190.6 981.5,190.5 982.8,190.5 984.1,190.4 985.3,190.3 986.6,190.2 987.9,190.2 989.2,190.1 990.4,190.0 991.7,189.9 993.0,189.8 994.3,189.7 995.6,189.6 996.8,189.5 998.1,189.3 999.4,189.2 1000.7,189.0 1001.9,188.8 1003.2,188.5 1004.5,188.2 1005.8,187.7 1007.1,187.1 1008.3,186.1 1009.6,184.7 1010.9,182.7 1012.2,180.1 1013.4,176.8 1014.7,173.0 1016.0,169.0 1017.3,165.3 1018.6,162.6 1019.8,161.3 1021.1,161.8 1022.4,163.8 1023.7,166.8 1024.9,170.1 1026.2,173.2 1027.5,175.8 1028.8,177.8 1030.1,179.2 1031.3,180.0 1032.6,180.5 1033.9,180.6 1035.2,180.6 1036.5,180.5 1037.7,180.4 1039.0,180.2 1040.3,180.0 1041.6,179.8 1042.8,179.6 1044.1,179.4 1045.4,179.2 1046.7,179.0 1048.0,178.8 1049.2,178.6 1050.5,178.4 1051.8,178.2 1053.1,178.0 1054.3,177.8 1055.6,177.6 1056.9,177.4 1058.2,177.2 1059.5,177.0 1060.7,176.8 1062.0,176.6 1063.3,176.4 1064.6,176.2 1065.8,175.9 1067.1,175.7 1068.4,175.5 1069.7,175.3 1071.0,175.1 1072.2,174.8 1073.5,174.6 1074.8,174.4 1076.1,174.1 1077.3,173.9 1078.6,173.7 1079.9,173.4 1081.2,173.2 1082.5,172.9 1083.7,172.6 1085.0,172.4 1086.3,172.1 1087.6,171.8 1088.8,171.6 1090.1,171.3 1091.4,171.0 1092.7,170.7 1094.0,170.5 1095.2,170.2 1096.5,169.9 1097.8,169.6 1099.1,169.3 1100.4,169.0 1101.6,168.8 1102.9,168.5 1104.2,168.2 1105.5,167.9 1106.7,167.6 1108.0,167.3 1109.3,167.1 1110.6,166.8 1111.9,166.5 1113.1,166.2 1114.4,165.9 1115.7,165.7 1117.0,165.4 1118.2,165.1 1119.5,164.9 1120.8,164.6 1122.1,164.3 1123.4,164.1 1124.6,163.8 1125.9,163.6 1127.2,163.3 1128.5,163.1 1129.7,162.9 1131.0,162.7 1132.3,162.4 1133.6,162.2 1134.9,162.0 1136.1,161.8 1137.4,161.6 1138.7,161.4 1140.0,161.2 1141.2,161.0 1142.5,160.8 1143.8,160.6 1145.1,160.4 1146.4,160.2 1147.6,160.0 1148.9,159.8 1150.2,159.6 1151.5,159.5 1152.7,159.3 1154.0,159.1 1155.3,158.9 1156.6,158.7 1157.9,158.5 1159.1,158.3 1160.4,158.1 1161.7,157.9 1163.0,157.7 1164.3,157.5 1165.5,157.4 1166.8,157.2 1168.1,157.0 1169.4,156.8 1170.6,156.6 1171.9,156.4 1173.2,156.2 1174.5,156.1 1175.8,155.9 1177.0,155.7 1178.3,155.5 1179.6,155.4 1180.9,155.2 1182.1,155.0 1183.4,154.9 1184.7,154.8 1186.0,154.6 1187.3,154.5 1188.5,154.4 1189.8,154.2 1191.1,154.1 1192.4,154.0 1193.6,153.9 1194.9,153.8 1196.2,153.8 1197.5,153.7 1198.8,153.6 1200.0,153.5 1201.3,153.4 1202.6,153.3 1203.9,153.3 1205.1,153.2 1206.4,153.1 1207.7,153.0 1209.0,153.0 1210.3,152.9 1211.5,152.8 1212.8,152.7 1214.1,152.7 1215.4,152.6 1216.6,152.5 1217.9,152.4 1219.2,152.4 1220.5,152.3 1221.8,152.2 1223.0,152.1 1224.3,152.1 1225.6,152.0 1226.9,151.9 1228.2,151.8 1229.4,151.8 1230.7,151.7 1232.0,151.6 1233.3,151.6 1234.5,151.5 1235.8,151.4 1237.1,151.3 1238.4,151.3 1239.7,151.2 1240.9,151.1 1242.2,151.0 1243.5,151.0 1244.8,150.9 1246.0,150.8 1247.3,150.8 1248.6,150.7 1249.9,150.6 1251.2,150.6 1252.4,150.5 1253.7,150.4 1255.0,150.4 1256.3,150.3 1257.5,150.3 1258.8,150.2 1260.1,150.2"/>
<polyline fill="none" stroke="#2d2d9a" stroke-width="2.0" stroke-linejoin="round" points="691.4,243.4 692.7,243.4 693.9,243.4 695.2,243.4 696.5,243.4 697.8,243.4 699.1,243.4 700.3,243.3 701.6,243.3 702.9,243.3 704.2,243.3 705.4,243.3 706.7,243.3 708.0,243.3 709.3,243.3 710.6,243.3 711.8,243.2 713.1,243.2 714.4,243.2 715.7,243.2 717.0,243.2 718.2,243.2 719.5,243.2 720.8,243.2 722.1,243.2 723.3,243.1 724.6,243.1 725.9,243.1 727.2,243.1 728.5,243.1 729.7,243.1 731.0,243.1 732.3,243.1 733.6,243.0 734.8,243.0 736.1,243.0 737.4,243.0 738.7,243.0 740.0,242.9 741.2,242.9 742.5,242.9 743.8,242.9 745.1,242.8 746.3,242.8 747.6,242.7 748.9,242.7 750.2,242.7 751.5,242.6 752.7,242.5 754.0,242.5 755.3,242.4 756.6,242.3 757.8,242.2 759.1,242.1 760.4,242.0 761.7,241.9 763.0,241.7 764.2,241.6 765.5,241.4 766.8,241.2 768.1,241.0 769.3,240.8 770.6,240.5 771.9,240.2 773.2,239.9 774.5,239.6 775.7,239.2 777.0,238.9 778.3,238.5 779.6,238.1 780.9,237.6 782.1,237.2 783.4,236.7 784.7,236.2 786.0,235.7 787.2,235.2 788.5,234.7 789.8,234.2 791.1,233.7 792.4,233.2 793.6,232.6 794.9,232.1 796.2,231.5 797.5,231.0 798.7,230.4 800.0,229.9 801.3,229.3 802.6,228.8 803.9,228.2 805.1,227.7 806.4,227.2 807.7,226.6 809.0,226.1 810.2,225.6 811.5,225.1 812.8,224.7 814.1,224.2 815.4,223.8 816.6,223.4 817.9,222.9 819.2,222.6 820.5,222.2 821.7,221.8 823.0,221.4 824.3,221.1 825.6,220.8 826.9,220.4 828.1,220.1 829.4,219.8 830.7,219.5 832.0,219.1 833.2,218.8 834.5,218.5 835.8,218.2 837.1,217.9 838.4,217.6 839.6,217.3 840.9,217.0 842.2,216.7 843.5,216.4 844.8,216.1 846.0,215.7 847.3,215.4 848.6,215.1 849.9,214.8 851.1,214.5 852.4,214.2 853.7,213.9 855.0,213.5 856.3,213.2 857.5,212.9 858.8,212.6 860.1,212.2 861.4,211.9 862.6,211.6 863.9,211.2 865.2,210.9 866.5,210.6 867.8,210.2 869.0,209.9 870.3,209.5 871.6,209.2 872.9,208.9 874.1,208.6 875.4,208.2 876.7,207.9 878.0,207.6 879.3,207.3 880.5,207.0 881.8,206.7 883.1,206.4 884.4,206.1 885.6,205.8 886.9,205.5 888.2,205.3 889.5,205.0 890.8,204.7 892.0,204.5 893.3,204.2 894.6,203.9 895.9,203.7 897.1,203.4 898.4,203.2 899.7,202.9 901.0,202.6 902.3,202.4 903.5,202.1 904.8,201.9 906.1,201.6 907.4,201.4 908.7,201.1 909.9,200.9 911.2,200.6 912.5,200.4 913.8,200.1 915.0,199.8 916.3,199.6 917.6,199.3 918.9,199.1 920.2,198.8 921.4,198.6 922.7,198.3 924.0,198.0 925.3,197.8 926.5,197.5 927.8,197.3 929.1,197.0 930.4,196.7 931.7,196.5 932.9,196.2 934.2,196.0 935.5,195.7 936.8,195.4 938.0,195.2 939.3,194.9 940.6,194.6 941.9,194.4 943.2,194.1 944.4,193.9 945.7,193.6 947.0,193.3 948.3,193.1 949.5,192.8 950.8,192.6 952.1,192.4 953.4,192.1 954.7,191.9 955.9,191.7 957.2,191.5 958.5,191.3 959.8,191.1 961.0,190.9 962.3,190.7 963.6,190.6 964.9,190.4 966.2,190.3 967.4,190.1 968.7,190.0 970.0,189.8 971.3,189.7 972.6,189.6 973.8,189.4 975.1,189.3 976.4,189.2 977.7,189.1 978.9,188.9 980.2,188.8 981.5,188.7 982.8,188.5 984.1,188.4 985.3,188.2 986.6,188.0 987.9,187.9 989.2,187.7 990.4,187.5 991.7,187.2 993.0,187.0 994.3,186.7 995.6,186.4 996.8,186.1 998.1,185.8 999.4,185.4 1000.7,184.9 1001.9,184.4 1003.2,183.9 1004.5,183.3 1005.8,182.6 1007.1,181.8 1008.3,181.0 1009.6,180.0 1010.9,179.0 1012.2,177.9 1013.4,176.7 1014.7,175.4 1016.0,174.0 1017.3,172.4 1018.6,170.8 1019.8,169.1 1021.1,167.4 1022.4,165.5 1023.7,163.5 1024.9,161.5 1026.2,159.4 1027.5,157.3 1028.8,155.2 1030.1,153.0 1031.3,150.9 1032.6,148.8 1033.9,146.8 1035.2,144.8 1036.5,143.0 1037.7,141.4 1039.0,139.9 1040.3,138.7 1041.6,137.7 1042.8,137.0 1044.1,136.7 1045.4,136.6 1046.7,136.8 1048.0,137.3 1049.2,138.1 1050.5,139.1 1051.8,140.3 1053.1,141.6 1054.3,143.1 1055.6,144.6 1056.9,146.2 1058.2,147.8 1059.5,149.5 1060.7,151.1 1062.0,152.6 1063.3,154.1 1064.6,155.5 1065.8,156.9 1067.1,158.2 1068.4,159.4 1069.7,160.5 1071.0,161.5 1072.2,162.4 1073.5,163.3 1074.8,164.0 1076.1,164.7 1077.3,165.3 1078.6,165.7 1079.9,166.2 1081.2,166.5 1082.5,166.8 1083.7,167.0 1085.0,167.2 1086.3,167.3 1087.6,167.4 1088.8,167.4 1090.1,167.4 1091.4,167.4 1092.7,167.4 1094.0,167.3 1095.2,167.2 1096.5,167.1 1097.8,166.9 1099.1,166.8 1100.4,166.6 1101.6,166.4 1102.9,166.3 1104.2,166.1 1105.5,165.9 1106.7,165.7 1108.0,165.5 1109.3,165.3 1110.6,165.0 1111.9,164.8 1113.1,164.6 1114.4,164.4 1115.7,164.2 1117.0,163.9 1118.2,163.7 1119.5,163.5 1120.8,163.3 1122.1,163.0 1123.4,162.8 1124.6,162.6 1125.9,162.4 1127.2,162.2 1128.5,162.0 1129.7,161.8 1131.0,161.6 1132.3,161.4 1133.6,161.2 1134.9,161.0 1136.1,160.9 1137.4,160.7 1138.7,160.5 1140.0,160.3 1141.2,160.2 1142.5,160.0 1143.8,159.8 1145.1,159.6 1146.4,159.5 1147.6,159.3 1148.9,159.1 1150.2,158.9 1151.5,158.8 1152.7,158.6 1154.0,158.4 1155.3,158.2 1156.6,158.1 1157.9,157.9 1159.1,157.7 1160.4,157.5 1161.7,157.3 1163.0,157.2 1164.3,157.0 1165.5,156.8 1166.8,156.6 1168.1,156.4 1169.4,156.3 1170.6,156.1 1171.9,155.9 1173.2,155.7 1174.5,155.6 1175.8,155.4 1177.0,155.2 1178.3,155.1 1179.6,154.9 1180.9,154.8 1182.1,154.6 1183.4,154.5 1184.7,154.3 1186.0,154.2 1187.3,154.1 1188.5,154.0 1189.8,153.9 1191.1,153.8 1192.4,153.7 1193.6,153.6 1194.9,153.5 1196.2,153.4 1197.5,153.3 1198.8,153.2 1200.0,153.2 1201.3,153.1 1202.6,153.0 1203.9,152.9 1205.1,152.9 1206.4,152.8 1207.7,152.7 1209.0,152.7 1210.3,152.6 1211.5,152.5 1212.8,152.5 1214.1,152.4 1215.4,152.3 1216.6,152.2 1217.9,152.2 1219.2,152.1 1220.5,152.0 1221.8,152.0 1223.0,151.9 1224.3,151.8 1225.6,151.7 1226.9,151.7 1228.2,151.6 1229.4,151.5 1230.7,151.5 1232.0,151.4 1233.3,151.3 1234.5,151.3 1235.8,151.2 1237.1,151.1 1238.4,151.0 1239.7,151.0 1240.9,150.9 1242.2,150.8 1243.5,150.8 1244.8,150.7 1246.0,150.6 1247.3,150.6 1248.6,150.5 1249.9,150.4 1251.2,150.4 1252.4,150.3 1253.7,150.3 1255.0,150.2 1256.3,150.1 1257.5,150.1 1258.8,150.1 1260.1,150.0"/>
<polyline fill="none" stroke="#a030d0" stroke-width="2.0" stroke-linejoin="round" points="691.4,243.2 692.7,243.2 693.9,243.2 695.2,243.2 696.5,243.1 697.8,243.1 699.1,243.1 700.3,243.1 701.6,243.1 702.9,243.1 704.2,243.1 705.4,243.1 706.7,243.1 708.0,243.0 709.3,243.0 710.6,243.0 711.8,243.0 713.1,243.0 714.4,243.0 715.7,243.0 717.0,242.9 718.2,242.9 719.5,242.9 720.8,242.9 722.1,242.9 723.3,242.9 724.6,242.9 725.9,242.9 727.2,242.8 728.5,242.8 729.7,242.8 731.0,242.8 732.3,242.8 733.6,242.8 734.8,242.8 736.1,242.7 737.4,242.7 738.7,242.7 740.0,242.7 741.2,242.6 742.5,242.6 743.8,242.6 745.1,242.5 746.3,242.5 747.6,242.5 748.9,242.4 750.2,242.4 751.5,242.3 752.7,242.2 754.0,242.2 755.3,242.1 756.6,242.0 757.8,241.9 759.1,241.8 760.4,241.7 761.7,241.6 763.0,241.4 764.2,241.3 765.5,241.1 766.8,240.9 768.1,240.7 769.3,240.5 770.6,240.2 771.9,239.9 773.2,239.6 774.5,239.3 775.7,238.9 777.0,238.5 778.3,238.1 779.6,237.7 780.9,237.3 782.1,236.8 783.4,236.4 784.7,235.9 786.0,235.4 787.2,234.9 788.5,234.4 789.8,233.9 791.1,233.3 792.4,232.8 793.6,232.3 794.9,231.7 796.2,231.2 797.5,230.6 798.7,230.1 800.0,229.5 801.3,229.0 802.6,228.4 803.9,227.9 805.1,227.3 806.4,226.8 807.7,226.3 809.0,225.7 810.2,225.2 811.5,224.7 812.8,224.3 814.1,223.8 815.4,223.4 816.6,222.9 817.9,222.5 819.2,222.1 820.5,221.8 821.7,221.4 823.0,221.0 824.3,220.7 825.6,220.3 826.9,220.0 828.1,219.7 829.4,219.3 830.7,219.0 832.0,218.7 833.2,218.4 834.5,218.1 835.8,217.8 837.1,217.5 838.4,217.1 839.6,216.8 840.9,216.5 842.2,216.2 843.5,215.9 844.8,215.6 846.0,215.3 847.3,215.0 848.6,214.6 849.9,214.3 851.1,214.0 852.4,213.7 853.7,213.4 855.0,213.0 856.3,212.7 857.5,212.4 858.8,212.1 860.1,211.7 861.4,211.4 862.6,211.0 863.9,210.7 865.2,210.4 866.5,210.0 867.8,209.7 869.0,209.3 870.3,209.0 871.6,208.7 872.9,208.3 874.1,208.0 875.4,207.7 876.7,207.3 878.0,207.0 879.3,206.7 880.5,206.4 881.8,206.1 883.1,205.8 884.4,205.5 885.6,205.2 886.9,204.9 888.2,204.7 889.5,204.4 890.8,204.1 892.0,203.8 893.3,203.6 894.6,203.3 895.9,203.0 897.1,202.8 898.4,202.5 899.7,202.3 901.0,202.0 902.3,201.7 903.5,201.5 904.8,201.2 906.1,201.0 907.4,200.7 908.7,200.5 909.9,200.2 911.2,199.9 912.5,199.7 913.8,199.4 915.0,199.2 916.3,198.9 917.6,198.6 918.9,198.4 920.2,198.1 921.4,197.8 922.7,197.6 924.0,197.3 925.3,197.1 926.5,196.8 927.8,196.5 929.1,196.3 930.4,196.0 931.7,195.7 932.9,195.5 934.2,195.2 935.5,194.9 936.8,194.7 938.0,194.4 939.3,194.1 940.6,193.9 941.9,193.6 943.2,193.3 944.4,193.1 945.7,192.8 947.0,192.6 948.3,192.3 949.5,192.0 950.8,191.8 952.1,191.6 953.4,191.3 954.7,191.1 955.9,190.9 957.2,190.7 958.5,190.4 959.8,190.3 961.0,190.1 962.3,189.9 963.6,189.7 964.9,189.6 966.2,189.4 967.4,189.3 968.7,189.1 970.0,189.0 971.3,188.9 972.6,188.7 973.8,188.6 975.1,188.5 976.4,188.3 977.7,188.2 978.9,188.1 980.2,188.0 981.5,187.8 982.8,187.7 984.1,187.6 985.3,187.4 986.6,187.3 987.9,187.1 989.2,187.0 990.4,186.8 991.7,186.6 993.0,186.5 994.3,186.3 995.6,186.1 996.8,185.9 998.1,185.7 999.4,185.4 1000.7,185.2 1001.9,184.9 1003.2,184.6 1004.5,184.3 1005.8,184.0 1007.1,183.6 1008.3,183.2 1009.6,182.8 1010.9,182.3 1012.2,181.9 1013.4,181.4 1014.7,180.9 1016.0,180.3 1017.3,179.8 1018.6,179.2 1019.8,178.6 1021.1,178.0 1022.4,177.4 1023.7,176.8 1024.9,176.2 1026.2,175.6 1027.5,175.0 1028.8,174.4 1030.1,173.8 1031.3,173.2 1032.6,172.7 1033.9,172.1 1035.2,171.5 1036.5,170.9 1037.7,170.3 1039.0,169.8 1040.3,169.2 1041.6,168.6 1042.8,168.0 1044.1,167.4 1045.4,166.8 1046.7,166.2 1048.0,165.6 1049.2,165.0 1050.5,164.4 1051.8,163.7 1053.1,163.1 1054.3,162.4 1055.6,161.8 1056.9,161.1 1058.2,160.5 1059.5,159.8 1060.7,159.1 1062.0,158.4 1063.3,157.7 1064.6,157.0 1065.8,156.3 1067.1,155.5 1068.4,154.8 1069.7,154.1 1071.0,153.3 1072.2,152.6 1073.5,151.8 1074.8,151.1 1076.1,150.3 1077.3,149.5 1078.6,148.7 1079.9,148.0 1081.2,147.2 1082.5,146.4 1083.7,145.6 1085.0,144.8 1086.3,144.0 1087.6,143.2 1088.8,142.4 1090.1,141.6 1091.4,140.8 1092.7,140.0 1094.0,139.3 1095.2,138.5 1096.5,137.8 1097.8,137.0 1099.1,136.3 1100.4,135.6 1101.6,134.9 1102.9,134.2 1104.2,133.5 1105.5,132.8 1106.7,132.2 1108.0,131.6 1109.3,131.0 1110.6,130.4 1111.9,129.9 1113.1,129.3 1114.4,128.8 1115.7,128.3 1117.0,127.9 1118.2,127.5 1119.5,127.1 1120.8,126.7 1122.1,126.4 1123.4,126.1 1124.6,125.8 1125.9,125.6 1127.2,125.6 1128.5,125.6 1129.7,125.7 1131.0,125.9 1132.3,126.2 1133.6,126.5 1134.9,127.0 1136.1,127.5 1137.4,128.1 1138.7,128.7 1140.0,129.4 1141.2,130.1 1142.5,130.9 1143.8,131.7 1145.1,132.5 1146.4,133.3 1147.6,134.1 1148.9,134.9 1150.2,135.8 1151.5,136.6 1152.7,137.4 1154.0,138.2 1155.3,138.9 1156.6,139.7 1157.9,140.4 1159.1,141.1 1160.4,141.8 1161.7,142.5 1163.0,143.1 1164.3,143.7 1165.5,144.3 1166.8,144.8 1168.1,145.3 1169.4,145.8 1170.6,146.2 1171.9,146.7 1173.2,147.1 1174.5,147.4 1175.8,147.7 1177.0,148.1 1178.3,148.3 1179.6,148.6 1180.9,148.8 1182.1,149.1 1183.4,149.3 1184.7,149.4 1186.0,149.6 1187.3,149.8 1188.5,149.9 1189.8,150.0 1191.1,150.2 1192.4,150.3 1193.6,150.4 1194.9,150.4 1196.2,150.5 1197.5,150.6 1198.8,150.7 1200.0,150.7 1201.3,150.8 1202.6,150.8 1203.9,150.8 1205.1,150.8 1206.4,150.9 1207.7,150.9 1209.0,150.9 1210.3,150.9 1211.5,150.9 1212.8,150.9 1214.1,150.9 1215.4,150.8 1216.6,150.8 1217.9,150.8 1219.2,150.8 1220.5,150.7 1221.8,150.7 1223.0,150.7 1224.3,150.6 1225.6,150.6 1226.9,150.6 1228.2,150.5 1229.4,150.5 1230.7,150.4 1232.0,150.4 1233.3,150.3 1234.5,150.3 1235.8,150.2 1237.1,150.2 1238.4,150.1 1239.7,150.1 1240.9,150.0 1242.2,150.0 1243.5,149.9 1244.8,149.9 1246.0,149.8 1247.3,149.8 1248.6,149.7 1249.9,149.7 1251.2,149.6 1252.4,149.6 1253.7,149.6 1255.0,149.5 1256.3,149.5 1257.5,149.5 1258.8,149.4 1260.1,149.4"/>
<polyline fill="none" stroke="#8b1c3c" stroke-width="2.2" stroke-linejoin="round" points="691.4,243.5 692.7,243.5 693.9,243.5 695.2,243.4 696.5,243.4 697.8,243.4 699.1,243.4 700.3,243.4 701.6,243.4 702.9,243.4 704.2,243.4 705.4,243.4 706.7,243.4 708.0,243.4 709.3,243.3 710.6,243.3 711.8,243.3 713.1,243.3 714.4,243.3 715.7,243.3 717.0,243.3 718.2,243.3 719.5,243.3 720.8,243.2 722.1,243.2 723.3,243.2 724.6,243.2 725.9,243.2 727.2,243.2 728.5,243.2 729.7,243.2 731.0,243.2 732.3,243.1 733.6,243.1 734.8,243.1 736.1,243.1 737.4,243.1 738.7,243.1 740.0,243.0 741.2,243.0 742.5,243.0 743.8,243.0 745.1,242.9 746.3,242.9 747.6,242.8 748.9,242.8 750.2,242.7 751.5,242.7 752.7,242.6 754.0,242.6 755.3,242.5 756.6,242.4 757.8,242.3 759.1,242.2 760.4,242.1 761.7,242.0 763.0,241.8 764.2,241.7 765.5,241.5 766.8,241.3 768.1,241.1 769.3,240.9 770.6,240.6 771.9,240.3 773.2,240.0 774.5,239.7 775.7,239.4 777.0,239.0 778.3,238.6 779.6,238.2 780.9,237.7 782.1,237.3 783.4,236.8 784.7,236.4 786.0,235.9 787.2,235.4 788.5,234.9 789.8,234.3 791.1,233.8 792.4,233.3 793.6,232.8 794.9,232.2 796.2,231.7 797.5,231.1 798.7,230.6 800.0,230.0 801.3,229.5 802.6,228.9 803.9,228.4 805.1,227.8 806.4,227.3 807.7,226.8 809.0,226.3 810.2,225.8 811.5,225.3 812.8,224.8 814.1,224.4 815.4,223.9 816.6,223.5 817.9,223.1 819.2,222.7 820.5,222.3 821.7,222.0 823.0,221.6 824.3,221.3 825.6,220.9 826.9,220.6 828.1,220.3 829.4,220.0 830.7,219.6 832.0,219.3 833.2,219.0 834.5,218.7 835.8,218.4 837.1,218.1 838.4,217.8 839.6,217.5 840.9,217.2 842.2,216.9 843.5,216.6 844.8,216.3 846.0,216.0 847.3,215.6 848.6,215.3 849.9,215.0 851.1,214.7 852.4,214.4 853.7,214.1 855.0,213.8 856.3,213.4 857.5,213.1 858.8,212.8 860.1,212.5 861.4,212.2 862.6,211.8 863.9,211.5 865.2,211.2 866.5,210.8 867.8,210.5 869.0,210.2 870.3,209.8 871.6,209.5 872.9,209.2 874.1,208.8 875.4,208.5 876.7,208.2 878.0,207.9 879.3,207.6 880.5,207.3 881.8,207.0 883.1,206.7 884.4,206.4 885.6,206.1 886.9,205.9 888.2,205.6 889.5,205.3 890.8,205.1 892.0,204.8 893.3,204.6 894.6,204.3 895.9,204.0 897.1,203.8 898.4,203.5 899.7,203.3 901.0,203.1 902.3,202.8 903.5,202.6 904.8,202.3 906.1,202.1 907.4,201.8 908.7,201.6 909.9,201.3 911.2,201.1 912.5,200.8 913.8,200.6 915.0,200.3 916.3,200.1 917.6,199.8 918.9,199.6 920.2,199.3 921.4,199.1 922.7,198.9 924.0,198.6 925.3,198.4 926.5,198.1 927.8,197.9 929.1,197.6 930.4,197.4 931.7,197.1 932.9,196.9 934.2,196.6 935.5,196.4 936.8,196.1 938.0,195.9 939.3,195.7 940.6,195.4 941.9,195.2 943.2,194.9 944.4,194.7 945.7,194.4 947.0,194.2 948.3,194.0 949.5,193.8 950.8,193.5 952.1,193.3 953.4,193.1 954.7,192.9 955.9,192.7 957.2,192.5 958.5,192.4 959.8,192.2 961.0,192.1 962.3,191.9 963.6,191.8 964.9,191.7 966.2,191.6 967.4,191.5 968.7,191.4 970.0,191.3 971.3,191.2 972.6,191.1 973.8,191.0 975.1,191.0 976.4,190.9 977.7,190.8 978.9,190.8 980.2,190.7 981.5,190.6 982.8,190.6 984.1,190.5 985.3,190.4 986.6,190.4 987.9,190.3 989.2,190.2 990.4,190.2 991.7,190.1 993.0,190.0 994.3,189.9 995.6,189.8 996.8,189.8 998.1,189.6 999.4,189.5 1000.7,189.4 1001.9,189.3 1003.2,189.1 1004.5,188.9 1005.8,188.7 1007.1,188.5 1008.3,188.3 1009.6,188.0 1010.9,187.7 1012.2,187.4 1013.4,187.1 1014.7,186.8 1016.0,186.4 1017.3,186.1 1018.6,185.7 1019.8,185.3 1021.1,184.9 1022.4,184.6 1023.7,184.2 1024.9,183.9 1026.2,183.5 1027.5,183.2 1028.8,182.8 1030.1,182.5 1031.3,182.2 1032.6,181.9 1033.9,181.6 1035.2,181.4 1036.5,181.1 1037.7,180.8 1039.0,180.6 1040.3,180.4 1041.6,180.1 1042.8,179.9 1044.1,179.7 1045.4,179.4 1046.7,179.2 1048.0,179.0 1049.2,178.8 1050.5,178.6 1051.8,178.4 1053.1,178.2 1054.3,177.9 1055.6,177.7 1056.9,177.5 1058.2,177.3 1059.5,177.1 1060.7,176.9 1062.0,176.7 1063.3,176.4 1064.6,176.2 1065.8,176.0 1067.1,175.8 1068.4,175.6 1069.7,175.4 1071.0,175.1 1072.2,174.9 1073.5,174.7 1074.8,174.4 1076.1,174.2 1077.3,173.9 1078.6,173.7 1079.9,173.5 1081.2,173.2 1082.5,172.9 1083.7,172.7 1085.0,172.4 1086.3,172.1 1087.6,171.9 1088.8,171.6 1090.1,171.3 1091.4,171.0 1092.7,170.8 1094.0,170.5 1095.2,170.2 1096.5,169.9 1097.8,169.6 1099.1,169.4 1100.4,169.1 1101.6,168.8 1102.9,168.5 1104.2,168.2 1105.5,167.9 1106.7,167.6 1108.0,167.4 1109.3,167.1 1110.6,166.8 1111.9,166.5 1113.1,166.2 1114.4,166.0 1115.7,165.7 1117.0,165.4 1118.2,165.1 1119.5,164.9 1120.8,164.6 1122.1,164.3 1123.4,164.1 1124.6,163.8 1125.9,163.6 1127.2,163.4 1128.5,163.1 1129.7,162.9 1131.0,162.7 1132.3,162.4 1133.6,162.2 1134.9,162.0 1136.1,161.8 1137.4,161.6 1138.7,161.4 1140.0,161.2 1141.2,161.0 1142.5,160.8 1143.8,160.6 1145.1,160.4 1146.4,160.2 1147.6,160.0 1148.9,159.8 1150.2,159.7 1151.5,159.5 1152.7,159.3 1154.0,159.1 1155.3,158.9 1156.6,158.7 1157.9,158.5 1159.1,158.3 1160.4,158.1 1161.7,157.9 1163.0,157.7 1164.3,157.6 1165.5,157.4 1166.8,157.2 1168.1,157.0 1169.4,156.8 1170.6,156.6 1171.9,156.4 1173.2,156.2 1174.5,156.1 1175.8,155.9 1177.0,155.7 1178.3,155.5 1179.6,155.4 1180.9,155.2 1182.1,155.1 1183.4,154.9 1184.7,154.8 1186.0,154.6 1187.3,154.5 1188.5,154.4 1189.8,154.3 1191.1,154.1 1192.4,154.0 1193.6,153.9 1194.9,153.8 1196.2,153.8 1197.5,153.7 1198.8,153.6 1200.0,153.5 1201.3,153.4 1202.6,153.3 1203.9,153.3 1205.1,153.2 1206.4,153.1 1207.7,153.0 1209.0,153.0 1210.3,152.9 1211.5,152.8 1212.8,152.7 1214.1,152.7 1215.4,152.6 1216.6,152.5 1217.9,152.4 1219.2,152.4 1220.5,152.3 1221.8,152.2 1223.0,152.1 1224.3,152.1 1225.6,152.0 1226.9,151.9 1228.2,151.9 1229.4,151.8 1230.7,151.7 1232.0,151.6 1233.3,151.6 1234.5,151.5 1235.8,151.4 1237.1,151.3 1238.4,151.3 1239.7,151.2 1240.9,151.1 1242.2,151.0 1243.5,151.0 1244.8,150.9 1246.0,150.8 1247.3,150.8 1248.6,150.7 1249.9,150.6 1251.2,150.6 1252.4,150.5 1253.7,150.4 1255.0,150.4 1256.3,150.3 1257.5,150.3 1258.8,150.2 1260.1,150.2"/>
<polyline fill="none" stroke="#e8262a" stroke-width="2.2" stroke-linejoin="round" points="691.4,241.1 692.7,241.1 693.9,241.0 695.2,241.0 696.5,240.9 697.8,240.9 699.1,240.8 700.3,240.8 701.6,240.7 702.9,240.7 704.2,240.6 705.4,240.6 706.7,240.5 708.0,240.4 709.3,240.4 710.6,240.3 711.8,240.2 713.1,240.2 714.4,240.1 715.7,240.0 717.0,240.0 718.2,239.9 719.5,239.8 720.8,239.7 722.1,239.6 723.3,239.5 724.6,239.5 725.9,239.4 727.2,239.3 728.5,239.2 729.7,239.1 731.0,239.0 732.3,238.8 733.6,238.7 734.8,238.6 736.1,238.5 737.4,238.3 738.7,238.2 740.0,238.1 741.2,237.9 742.5,237.7 743.8,237.6 745.1,237.4 746.3,237.2 747.6,237.0 748.9,236.7 750.2,236.5 751.5,236.2 752.7,235.9 754.0,235.6 755.3,235.3 756.6,234.9 757.8,234.6 759.1,234.1 760.4,233.6 761.7,233.1 763.0,232.5 764.2,231.9 765.5,231.1 766.8,230.3 768.1,229.3 769.3,228.2 770.6,226.9 771.9,225.4 773.2,223.5 774.5,221.3 775.7,218.6 777.0,215.4 778.3,211.6 779.6,207.3 780.9,202.5 782.1,197.3 783.4,192.1 784.7,186.9 786.0,182.1 787.2,178.0 788.5,174.6 789.8,171.8 791.1,169.5 792.4,167.2 793.6,164.9 794.9,162.2 796.2,159.0 797.5,155.4 798.7,151.2 800.0,146.7 801.3,141.8 802.6,136.7 803.9,131.5 805.1,126.4 806.4,121.5 807.7,116.9 809.0,112.6 810.2,108.9 811.5,105.7 812.8,103.2 814.1,101.4 815.4,100.4 816.6,100.1 817.9,100.6 819.2,101.8 820.5,103.7 821.7,106.1 823.0,109.0 824.3,112.4 825.6,116.0 826.9,119.9 828.1,124.0 829.4,128.1 830.7,132.3 832.0,136.4 833.2,140.4 834.5,144.2 835.8,147.9 837.1,151.3 838.4,154.6 839.6,157.5 840.9,160.2 842.2,162.6 843.5,164.8 844.8,166.6 846.0,168.2 847.3,169.4 848.6,170.4 849.9,171.2 851.1,171.7 852.4,172.0 853.7,172.0 855.0,171.9 856.3,171.5 857.5,171.0 858.8,170.3 860.1,169.5 861.4,168.6 862.6,167.6 863.9,166.5 865.2,165.3 866.5,164.0 867.8,162.7 869.0,161.4 870.3,160.0 871.6,158.7 872.9,157.4 874.1,156.1 875.4,154.9 876.7,153.7 878.0,152.6 879.3,151.6 880.5,150.7 881.8,149.9 883.1,149.3 884.4,148.7 885.6,148.4 886.9,148.1 888.2,148.0 889.5,148.1 890.8,148.3 892.0,148.6 893.3,149.0 894.6,149.6 895.9,150.3 897.1,151.0 898.4,151.9 899.7,152.8 901.0,153.8 902.3,154.9 903.5,156.0 904.8,157.1 906.1,158.3 907.4,159.5 908.7,160.7 909.9,161.8 911.2,163.0 912.5,164.2 913.8,165.3 915.0,166.4 916.3,167.5 917.6,168.6 918.9,169.6 920.2,170.6 921.4,171.6 922.7,172.5 924.0,173.4 925.3,174.2 926.5,175.0 927.8,175.7 929.1,176.4 930.4,177.1 931.7,177.7 932.9,178.3 934.2,178.8 935.5,179.3 936.8,179.8 938.0,180.2 939.3,180.6 940.6,180.9 941.9,181.2 943.2,181.5 944.4,181.7 945.7,181.9 947.0,182.1 948.3,182.3 949.5,182.4 950.8,182.5 952.1,182.6 953.4,182.7 954.7,182.7 955.9,182.8 957.2,182.8 958.5,182.8 959.8,182.8 961.0,182.8 962.3,182.8 963.6,182.8 964.9,182.8 966.2,182.8 967.4,182.8 968.7,182.8 970.0,182.7 971.3,182.7 972.6,182.6 973.8,182.6 975.1,182.5 976.4,182.4 977.7,182.3 978.9,182.2 980.2,182.1 981.5,182.0 982.8,181.9 984.1,181.7 985.3,181.6 986.6,181.4 987.9,181.2 989.2,181.0 990.4,180.8 991.7,180.5 993.0,180.2 994.3,179.9 995.6,179.5 996.8,179.1 998.1,178.7 999.4,178.2 1000.7,177.6 1001.9,177.0 1003.2,176.3 1004.5,175.4 1005.8,174.4 1007.1,173.0 1008.3,171.4 1009.6,169.2 1010.9,166.3 1012.2,162.8 1013.4,158.4 1014.7,153.5 1016.0,148.3 1017.3,143.3 1018.6,139.1 1019.8,136.4 1021.1,135.3 1022.4,135.6 1023.7,136.8 1024.9,138.2 1026.2,139.4 1027.5,140.0 1028.8,140.0 1030.1,139.3 1031.3,138.0 1032.6,136.4 1033.9,134.5 1035.2,132.6 1036.5,130.6 1037.7,128.8 1039.0,127.1 1040.3,125.6 1041.6,124.3 1042.8,123.3 1044.1,122.7 1045.4,122.3 1046.7,122.1 1048.0,122.3 1049.2,122.7 1050.5,123.3 1051.8,124.1 1053.1,125.1 1054.3,126.1 1055.6,127.2 1056.9,128.4 1058.2,129.6 1059.5,130.8 1060.7,131.9 1062.0,133.0 1063.3,134.0 1064.6,135.0 1065.8,135.9 1067.1,136.7 1068.4,137.4 1069.7,138.0 1071.0,138.5 1072.2,138.9 1073.5,139.3 1074.8,139.5 1076.1,139.6 1077.3,139.7 1078.6,139.7 1079.9,139.6 1081.2,139.4 1082.5,139.2 1083.7,138.9 1085.0,138.5 1086.3,138.1 1087.6,137.7 1088.8,137.2 1090.1,136.7 1091.4,136.2 1092.7,135.7 1094.0,135.1 1095.2,134.5 1096.5,134.0 1097.8,133.4 1099.1,132.8 1100.4,132.2 1101.6,131.6 1102.9,131.0 1104.2,130.5 1105.5,129.9 1106.7,129.4 1108.0,128.8 1109.3,128.3 1110.6,127.8 1111.9,127.3 1113.1,126.9 1114.4,126.4 1115.7,126.0 1117.0,125.6 1118.2,125.3 1119.5,124.9 1120.8,124.6 1122.1,124.4 1123.4,124.1 1124.6,123.9 1125.9,123.7 1127.2,123.7 1128.5,123.7 1129.7,123.9 1131.0,124.1 1132.3,124.4 1133.6,124.9 1134.9,125.3 1136.1,125.9 1137.4,126.5 1138.7,127.2 1140.0,127.9 1141.2,128.6 1142.5,129.4 1143.8,130.2 1145.1,131.1 1146.4,131.9 1147.6,132.7 1148.9,133.6 1150.2,134.4 1151.5,135.3 1152.7,136.1 1154.0,136.9 1155.3,137.7 1156.6,138.5 1157.9,139.2 1159.1,140.0 1160.4,140.7 1161.7,141.3 1163.0,142.0 1164.3,142.6 1165.5,143.2 1166.8,143.7 1168.1,144.3 1169.4,144.7 1170.6,145.2 1171.9,145.6 1173.2,146.0 1174.5,146.4 1175.8,146.8 1177.0,147.1 1178.3,147.4 1179.6,147.7 1180.9,147.9 1182.1,148.1 1183.4,148.3 1184.7,148.5 1186.0,148.7 1187.3,148.9 1188.5,149.0 1189.8,149.2 1191.1,149.3 1192.4,149.4 1193.6,149.5 1194.9,149.6 1196.2,149.7 1197.5,149.8 1198.8,149.9 1200.0,149.9 1201.3,150.0 1202.6,150.0 1203.9,150.1 1205.1,150.1 1206.4,150.1 1207.7,150.1 1209.0,150.2 1210.3,150.2 1211.5,150.2 1212.8,150.2 1214.1,150.2 1215.4,150.2 1216.6,150.1 1217.9,150.1 1219.2,150.1 1220.5,150.1 1221.8,150.1 1223.0,150.0 1224.3,150.0 1225.6,150.0 1226.9,149.9 1228.2,149.9 1229.4,149.9 1230.7,149.8 1232.0,149.8 1233.3,149.7 1234.5,149.7 1235.8,149.7 1237.1,149.6 1238.4,149.6 1239.7,149.5 1240.9,149.5 1242.2,149.4 1243.5,149.4 1244.8,149.3 1246.0,149.3 1247.3,149.3 1248.6,149.2 1249.9,149.2 1251.2,149.1 1252.4,149.1 1253.7,149.1 1255.0,149.0 1256.3,149.0 1257.5,149.0 1258.8,148.9 1260.1,148.9"/>
</g>
<g clip-path="url(#cb)">
<polyline fill="none" stroke="#111" stroke-width="2.6" stroke-linejoin="round" points="718.2,396.1 719.5,386.2 720.8,396.7 722.1,374.3 723.3,422.9 724.6,390.2 725.9,391.2 727.2,373.9 728.5,376.3 729.7,394.0 731.0,393.1 732.3,414.4 733.6,391.3 734.8,365.5 736.1,391.0 737.4,395.9 738.7,383.6 740.0,402.3 741.2,386.6 742.5,381.5 743.8,381.6 745.1,394.9 746.3,419.8 747.6,370.2 748.9,380.5 750.2,403.5 751.5,358.5 752.7,422.1 754.0,377.9 755.3,402.6 756.6,402.8 757.8,362.9 759.1,385.0 760.4,415.6 761.7,369.9 763.0,386.8 764.2,389.0 765.5,394.9 766.8,392.4 768.1,378.0 769.3,379.5 770.6,384.1 771.9,384.9 773.2,392.1 774.5,373.5 775.7,395.6 777.0,357.7 778.3,384.8 779.6,387.5 780.9,373.9 782.1,364.5 783.4,355.0 784.7,360.6 786.0,362.2 787.2,360.5 788.5,348.6 789.8,335.5 791.1,345.1 792.4,349.1 793.6,340.4 794.9,310.8 796.2,328.0 797.5,303.2 798.7,311.1 800.0,345.0 801.3,281.3 802.6,290.9 803.9,285.5 805.1,275.9 806.4,268.7 807.7,315.8 809.0,271.6 810.2,287.9 811.5,244.3 812.8,280.0 814.1,275.1 815.4,234.2 816.6,276.0 817.9,235.8 819.2,266.9 820.5,250.7 821.7,239.3 823.0,248.4 824.3,235.7 825.6,250.6 826.9,254.2 828.1,237.9 829.4,248.1 830.7,256.5 832.0,261.9 833.2,239.3 834.5,275.0 835.8,263.2 837.1,284.3 838.4,288.3 839.6,282.9 840.9,301.5 842.2,277.4 843.5,299.9 844.8,294.4 846.0,310.7 847.3,308.7 848.6,307.8 849.9,301.2 851.1,319.7 852.4,310.9 853.7,324.2 855.0,310.1 856.3,329.5 857.5,312.1 858.8,295.8 860.1,323.8 861.4,301.1 862.6,331.3 863.9,321.6 865.2,303.1 866.5,314.7 867.8,291.7 869.0,292.7 870.3,312.8 871.6,304.9 872.9,289.1 874.1,310.8 875.4,302.6 876.7,303.3 878.0,309.1 879.3,295.2 880.5,286.1 881.8,296.1 883.1,297.3 884.4,276.8 885.6,308.7 886.9,290.3 888.2,280.4 889.5,281.7 890.8,328.1 892.0,272.5 893.3,290.0 894.6,297.8 895.9,284.5 897.1,281.1 898.4,290.3 899.7,271.4 901.0,296.9 902.3,265.3 903.5,298.0 904.8,288.8 906.1,267.2 907.4,314.6 908.7,264.9 909.9,304.8 911.2,277.4 912.5,295.4 913.8,270.5 915.0,319.8 916.3,288.5 917.6,305.4 918.9,279.0 920.2,297.5 921.4,293.5 922.7,293.7 924.0,305.4 925.3,297.3 926.5,297.7 927.8,288.1 929.1,306.7 930.4,311.1 931.7,296.2 932.9,311.5 934.2,303.0 935.5,297.7 936.8,305.0 938.0,299.8 939.3,311.4 940.6,310.2 941.9,321.4 943.2,295.8 944.4,299.2 945.7,332.9 947.0,307.0 948.3,317.5 949.5,343.4 950.8,318.3 952.1,316.2 953.4,325.3 954.7,315.6 955.9,329.3 957.2,309.4 958.5,317.6 959.8,321.2 961.0,341.1 962.3,325.1 963.6,308.7 964.9,339.1 966.2,316.3 967.4,336.6 968.7,316.0 970.0,337.0 971.3,319.5 972.6,324.0 973.8,327.9 975.1,328.6 976.4,320.3 977.7,316.7 978.9,352.3 980.2,314.3 981.5,311.7 982.8,315.2 984.1,312.5 985.3,337.7 986.6,345.6 987.9,304.4 989.2,334.4 990.4,319.9 991.7,350.0 993.0,326.1 994.3,329.8 995.6,340.4 996.8,337.6 998.1,329.7 999.4,316.7 1000.7,318.0 1001.9,324.8 1003.2,315.9 1004.5,343.9 1005.8,315.4 1007.1,329.5 1008.3,328.1 1009.6,349.8 1010.9,309.0 1012.2,340.6 1013.4,321.3 1014.7,321.0 1016.0,304.8 1017.3,342.5 1018.6,308.8 1019.8,319.8 1021.1,323.6 1022.4,316.7 1023.7,325.7 1024.9,299.0 1026.2,328.8 1027.5,306.8 1028.8,299.2 1030.1,302.5 1031.3,284.8 1032.6,300.6 1033.9,269.7 1035.2,270.7 1036.5,296.5 1037.7,291.3 1039.0,266.5 1040.3,274.0 1041.6,276.3 1042.8,278.3 1044.1,270.1 1045.4,274.9 1046.7,249.5 1048.0,291.5 1049.2,262.6 1050.5,251.7 1051.8,281.6 1053.1,259.4 1054.3,275.1 1055.6,243.0 1056.9,287.5 1058.2,256.6 1059.5,245.8 1060.7,287.7 1062.0,263.1 1063.3,263.6 1064.6,277.5 1065.8,257.4 1067.1,294.3 1068.4,273.7 1069.7,279.1 1071.0,297.9 1072.2,275.6 1073.5,265.9 1074.8,279.1 1076.1,290.4 1077.3,267.9 1078.6,274.8 1079.9,279.7 1081.2,302.2 1082.5,282.5 1083.7,286.4 1085.0,308.0 1086.3,262.5 1087.6,294.8 1088.8,266.5 1090.1,291.9 1091.4,292.1 1092.7,292.0 1094.0,264.1 1095.2,298.2 1096.5,285.2 1097.8,275.6 1099.1,306.2 1100.4,266.1 1101.6,270.1 1102.9,287.6 1104.2,256.4 1105.5,303.2 1106.7,277.6 1108.0,266.0 1109.3,283.4 1110.6,276.3 1111.9,290.3 1113.1,256.1 1114.4,262.9 1115.7,258.6 1117.0,279.9 1118.2,256.8 1119.5,277.7 1120.8,283.9 1122.1,268.1 1123.4,262.5 1124.6,286.7 1125.9,260.4 1127.2,272.4 1128.5,277.1 1129.7,250.2 1131.0,266.7 1132.3,299.4 1133.6,253.6 1134.9,259.8 1136.1,273.1 1137.4,266.0 1138.7,261.7 1140.0,274.3 1141.2,268.4 1142.5,272.9 1143.8,279.2 1145.1,253.9 1146.4,269.8 1147.6,305.3 1148.9,268.1 1150.2,292.6 1151.5,275.0 1152.7,263.6 1154.0,293.7 1155.3,268.0 1156.6,290.4 1157.9,294.0 1159.1,298.4 1160.4,272.1 1161.7,292.9 1163.0,285.3 1164.3,293.2 1165.5,257.3 1166.8,298.6 1168.1,294.1 1169.4,292.7 1170.6,275.9 1171.9,303.3 1173.2,297.8 1174.5,286.3 1175.8,289.6 1177.0,290.3 1178.3,296.5 1179.6,304.7 1180.9,302.5 1182.1,281.1 1183.4,287.8 1184.7,292.0 1186.0,309.5 1187.3,293.3 1188.5,297.5 1189.8,299.1 1191.1,297.2 1192.4,293.0 1193.6,286.6 1194.9,296.2 1196.2,301.5 1197.5,300.3 1198.8,291.2 1200.0,295.1 1201.3,313.5 1202.6,285.1 1203.9,302.3 1205.1,293.1 1206.4,290.7 1207.7,287.1 1209.0,300.8 1210.3,292.5 1211.5,300.6 1212.8,281.5 1214.1,300.1 1215.4,306.8 1216.6,293.1 1217.9,303.5 1219.2,303.6 1220.5,276.5 1221.8,302.9 1223.0,290.5 1224.3,316.8 1225.6,289.2 1226.9,303.5 1228.2,312.2 1229.4,284.8 1230.7,300.5 1232.0,301.4 1233.3,292.7 1234.5,311.8 1235.8,298.9 1237.1,303.1 1238.4,292.5 1239.7,293.8 1240.9,295.8 1242.2,295.7 1243.5,282.9 1244.8,310.1 1246.0,306.6 1247.3,292.6 1248.6,292.3 1249.9,300.3 1251.2,299.2 1252.4,294.8 1253.7,308.3 1255.0,278.5 1256.3,305.4 1257.5,301.9 1258.8,293.9 1260.1,294.2"/>
<polyline fill="none" stroke="#e020d8" stroke-width="2.0" stroke-linejoin="round" points="718.2,394.9 719.5,394.8 720.8,394.8 722.1,394.8 723.3,394.8 724.6,394.7 725.9,394.7 727.2,394.7 728.5,394.6 729.7,394.6 731.0,394.6 732.3,394.5 733.6,394.5 734.8,394.4 736.1,394.4 737.4,394.3 738.7,394.3 740.0,394.2 741.2,394.2 742.5,394.1 743.8,394.0 745.1,394.0 746.3,393.9 747.6,393.8 748.9,393.7 750.2,393.7 751.5,393.6 752.7,393.5 754.0,393.4 755.3,393.2 756.6,393.1 757.8,393.0 759.1,392.8 760.4,392.6 761.7,392.4 763.0,392.2 764.2,392.0 765.5,391.7 766.8,391.4 768.1,391.1 769.3,390.8 770.6,390.4 771.9,390.0 773.2,389.5 774.5,389.0 775.7,388.5 777.0,387.9 778.3,387.3 779.6,386.7 780.9,386.0 782.1,385.2 783.4,384.4 784.7,383.5 786.0,382.6 787.2,381.6 788.5,380.4 789.8,379.2 791.1,377.8 792.4,376.3 793.6,374.7 794.9,372.8 796.2,370.7 797.5,368.4 798.7,365.8 800.0,362.9 801.3,359.7 802.6,356.2 803.9,352.3 805.1,348.1 806.4,343.5 807.7,338.5 809.0,333.2 810.2,327.5 811.5,321.6 812.8,315.4 814.1,309.1 815.4,302.7 816.6,296.3 817.9,290.0 819.2,284.1 820.5,278.7 821.7,273.9 823.0,270.1 824.3,267.3 825.6,265.6 826.9,265.2 828.1,266.0 829.4,268.0 830.7,271.0 832.0,274.9 833.2,279.4 834.5,284.5 835.8,289.8 837.1,295.4 838.4,300.9 839.6,306.4 840.9,311.6 842.2,316.7 843.5,321.4 844.8,325.8 846.0,329.9 847.3,333.6 848.6,336.9 849.9,339.8 851.1,342.4 852.4,344.6 853.7,346.5 855.0,348.1 856.3,349.4 857.5,350.5 858.8,351.4 860.1,352.1 861.4,352.6 862.6,353.0 863.9,353.2 865.2,353.4 866.5,353.4 867.8,353.4 869.0,353.3 870.3,353.1 871.6,353.0 872.9,352.7 874.1,352.5 875.4,352.2 876.7,351.9 878.0,351.6 879.3,351.3 880.5,351.0 881.8,350.7 883.1,350.4 884.4,350.1 885.6,349.8 886.9,349.6 888.2,349.3 889.5,349.0 890.8,348.8 892.0,348.6 893.3,348.4 894.6,348.2 895.9,348.0 897.1,347.8 898.4,347.6 899.7,347.5 901.0,347.3 902.3,347.1 903.5,347.0 904.8,346.8 906.1,346.7 907.4,346.5 908.7,346.4 909.9,346.2 911.2,346.1 912.5,345.9 913.8,345.8 915.0,345.6 916.3,345.4 917.6,345.3 918.9,345.1 920.2,344.9 921.4,344.8 922.7,344.6 924.0,344.4 925.3,344.3 926.5,344.1 927.8,343.9 929.1,343.7 930.4,343.5 931.7,343.4 932.9,343.2 934.2,343.0 935.5,342.8 936.8,342.6 938.0,342.5 939.3,342.3 940.6,342.1 941.9,341.9 943.2,341.7 944.4,341.6 945.7,341.4 947.0,341.2 948.3,341.0 949.5,340.9 950.8,340.7 952.1,340.5 953.4,340.4 954.7,340.2 955.9,340.1 957.2,340.0 958.5,339.8 959.8,339.7 961.0,339.6 962.3,339.5 963.6,339.4 964.9,339.3 966.2,339.3 967.4,339.2 968.7,339.2 970.0,339.1 971.3,339.1 972.6,339.0 973.8,339.0 975.1,338.9 976.4,338.9 977.7,338.9 978.9,338.8 980.2,338.8 981.5,338.8 982.8,338.7 984.1,338.7 985.3,338.7 986.6,338.6 987.9,338.6 989.2,338.6 990.4,338.5 991.7,338.5 993.0,338.5 994.3,338.4 995.6,338.4 996.8,338.4 998.1,338.3 999.4,338.3 1000.7,338.3 1001.9,338.2 1003.2,338.2 1004.5,338.1 1005.8,338.0 1007.1,338.0 1008.3,337.9 1009.6,337.8 1010.9,337.6 1012.2,337.5 1013.4,337.4 1014.7,337.2 1016.0,337.0 1017.3,336.8 1018.6,336.5 1019.8,336.3 1021.1,336.0 1022.4,335.7 1023.7,335.4 1024.9,335.1 1026.2,334.7 1027.5,334.4 1028.8,334.0 1030.1,333.6 1031.3,333.3 1032.6,332.9 1033.9,332.5 1035.2,332.1 1036.5,331.7 1037.7,331.4 1039.0,331.0 1040.3,330.7 1041.6,330.3 1042.8,330.0 1044.1,329.6 1045.4,329.3 1046.7,329.0 1048.0,328.7 1049.2,328.4 1050.5,328.1 1051.8,327.9 1053.1,327.6 1054.3,327.3 1055.6,327.0 1056.9,326.8 1058.2,326.5 1059.5,326.3 1060.7,326.0 1062.0,325.8 1063.3,325.5 1064.6,325.3 1065.8,325.0 1067.1,324.8 1068.4,324.5 1069.7,324.3 1071.0,324.0 1072.2,323.8 1073.5,323.5 1074.8,323.3 1076.1,323.0 1077.3,322.8 1078.6,322.5 1079.9,322.2 1081.2,322.0 1082.5,321.7 1083.7,321.5 1085.0,321.2 1086.3,321.0 1087.6,320.7 1088.8,320.5 1090.1,320.2 1091.4,320.0 1092.7,319.7 1094.0,319.5 1095.2,319.3 1096.5,319.0 1097.8,318.8 1099.1,318.5 1100.4,318.3 1101.6,318.0 1102.9,317.8 1104.2,317.6 1105.5,317.3 1106.7,317.1 1108.0,316.9 1109.3,316.6 1110.6,316.4 1111.9,316.2 1113.1,316.0 1114.4,315.7 1115.7,315.5 1117.0,315.3 1118.2,315.1 1119.5,314.8 1120.8,314.6 1122.1,314.4 1123.4,314.2 1124.6,313.9 1125.9,313.7 1127.2,313.5 1128.5,313.3 1129.7,313.0 1131.0,312.8 1132.3,312.6 1133.6,312.4 1134.9,312.2 1136.1,311.9 1137.4,311.7 1138.7,311.5 1140.0,311.3 1141.2,311.1 1142.5,310.8 1143.8,310.6 1145.1,310.4 1146.4,310.2 1147.6,310.0 1148.9,309.8 1150.2,309.6 1151.5,309.4 1152.7,309.2 1154.0,309.0 1155.3,308.8 1156.6,308.6 1157.9,308.4 1159.1,308.2 1160.4,308.0 1161.7,307.8 1163.0,307.6 1164.3,307.4 1165.5,307.2 1166.8,307.0 1168.1,306.8 1169.4,306.7 1170.6,306.5 1171.9,306.3 1173.2,306.1 1174.5,305.9 1175.8,305.8 1177.0,305.6 1178.3,305.4 1179.6,305.2 1180.9,305.1 1182.1,304.9 1183.4,304.8 1184.7,304.6 1186.0,304.5 1187.3,304.4 1188.5,304.3 1189.8,304.2 1191.1,304.0 1192.4,303.9 1193.6,303.8 1194.9,303.7 1196.2,303.7 1197.5,303.6 1198.8,303.5 1200.0,303.4 1201.3,303.3 1202.6,303.2 1203.9,303.2 1205.1,303.1 1206.4,303.0 1207.7,302.9 1209.0,302.9 1210.3,302.8 1211.5,302.7 1212.8,302.7 1214.1,302.6 1215.4,302.5 1216.6,302.4 1217.9,302.4 1219.2,302.3 1220.5,302.2 1221.8,302.1 1223.0,302.1 1224.3,302.0 1225.6,301.9 1226.9,301.8 1228.2,301.8 1229.4,301.7 1230.7,301.6 1232.0,301.5 1233.3,301.5 1234.5,301.4 1235.8,301.3 1237.1,301.3 1238.4,301.2 1239.7,301.1 1240.9,301.0 1242.2,301.0 1243.5,300.9 1244.8,300.8 1246.0,300.8 1247.3,300.7 1248.6,300.6 1249.9,300.5 1251.2,300.5 1252.4,300.4 1253.7,300.4 1255.0,300.3 1256.3,300.3 1257.5,300.2 1258.8,300.2 1260.1,300.1"/>
<polyline fill="none" stroke="#9030a8" stroke-width="2.0" stroke-linejoin="round" points="718.2,396.0 719.5,396.0 720.8,396.0 722.1,396.0 723.3,396.0 724.6,396.0 725.9,396.0 727.2,395.9 728.5,395.9 729.7,395.9 731.0,395.9 732.3,395.9 733.6,395.9 734.8,395.9 736.1,395.9 737.4,395.9 738.7,395.9 740.0,395.9 741.2,395.9 742.5,395.9 743.8,395.9 745.1,395.9 746.3,395.9 747.6,395.8 748.9,395.8 750.2,395.8 751.5,395.8 752.7,395.7 754.0,395.7 755.3,395.7 756.6,395.6 757.8,395.6 759.1,395.5 760.4,395.4 761.7,395.3 763.0,395.2 764.2,395.1 765.5,395.0 766.8,394.8 768.1,394.6 769.3,394.4 770.6,394.2 771.9,393.9 773.2,393.7 774.5,393.4 775.7,393.0 777.0,392.7 778.3,392.3 779.6,391.9 780.9,391.5 782.1,391.0 783.4,390.5 784.7,389.9 786.0,389.3 787.2,388.6 788.5,387.7 789.8,386.7 791.1,385.5 792.4,384.1 793.6,382.5 794.9,380.6 796.2,378.5 797.5,376.3 798.7,373.8 800.0,371.4 801.3,369.0 802.6,366.8 803.9,364.9 805.1,363.6 806.4,362.7 807.7,362.5 809.0,362.9 810.2,363.7 811.5,364.9 812.8,366.3 814.1,367.7 815.4,369.2 816.6,370.5 817.9,371.6 819.2,372.5 820.5,373.2 821.7,373.7 823.0,374.0 824.3,374.1 825.6,374.1 826.9,373.9 828.1,373.8 829.4,373.5 830.7,373.2 832.0,372.9 833.2,372.6 834.5,372.3 835.8,371.9 837.1,371.6 838.4,371.2 839.6,370.9 840.9,370.5 842.2,370.1 843.5,369.7 844.8,369.4 846.0,369.0 847.3,368.6 848.6,368.1 849.9,367.7 851.1,367.3 852.4,366.8 853.7,366.3 855.0,365.8 856.3,365.4 857.5,364.9 858.8,364.3 860.1,363.8 861.4,363.3 862.6,362.7 863.9,362.2 865.2,361.7 866.5,361.1 867.8,360.6 869.0,360.0 870.3,359.5 871.6,358.9 872.9,358.4 874.1,357.8 875.4,357.3 876.7,356.7 878.0,356.2 879.3,355.7 880.5,355.2 881.8,354.7 883.1,354.2 884.4,353.8 885.6,353.4 886.9,352.9 888.2,352.5 889.5,352.2 890.8,351.8 892.0,351.5 893.3,351.2 894.6,350.9 895.9,350.6 897.1,350.3 898.4,350.1 899.7,349.8 901.0,349.6 902.3,349.3 903.5,349.1 904.8,348.9 906.1,348.7 907.4,348.5 908.7,348.3 909.9,348.1 911.2,347.8 912.5,347.6 913.8,347.4 915.0,347.2 916.3,347.0 917.6,346.8 918.9,346.6 920.2,346.4 921.4,346.2 922.7,346.0 924.0,345.8 925.3,345.6 926.5,345.4 927.8,345.2 929.1,345.0 930.4,344.7 931.7,344.5 932.9,344.3 934.2,344.1 935.5,343.9 936.8,343.7 938.0,343.5 939.3,343.3 940.6,343.1 941.9,342.9 943.2,342.7 944.4,342.5 945.7,342.3 947.0,342.1 948.3,341.9 949.5,341.7 950.8,341.5 952.1,341.3 953.4,341.2 954.7,341.0 955.9,340.9 957.2,340.7 958.5,340.6 959.8,340.4 961.0,340.3 962.3,340.2 963.6,340.1 964.9,340.0 966.2,339.9 967.4,339.9 968.7,339.8 970.0,339.7 971.3,339.7 972.6,339.6 973.8,339.6 975.1,339.5 976.4,339.5 977.7,339.4 978.9,339.4 980.2,339.4 981.5,339.3 982.8,339.3 984.1,339.2 985.3,339.2 986.6,339.2 987.9,339.1 989.2,339.1 990.4,339.0 991.7,339.0 993.0,339.0 994.3,338.9 995.6,338.9 996.8,338.8 998.1,338.8 999.4,338.7 1000.7,338.7 1001.9,338.6 1003.2,338.6 1004.5,338.5 1005.8,338.4 1007.1,338.4 1008.3,338.3 1009.6,338.2 1010.9,338.0 1012.2,337.9 1013.4,337.7 1014.7,337.6 1016.0,337.4 1017.3,337.1 1018.6,336.9 1019.8,336.6 1021.1,336.4 1022.4,336.1 1023.7,335.7 1024.9,335.4 1026.2,335.1 1027.5,334.7 1028.8,334.3 1030.1,333.9 1031.3,333.6 1032.6,333.2 1033.9,332.8 1035.2,332.4 1036.5,332.0 1037.7,331.7 1039.0,331.3 1040.3,330.9 1041.6,330.6 1042.8,330.3 1044.1,329.9 1045.4,329.6 1046.7,329.3 1048.0,329.0 1049.2,328.7 1050.5,328.4 1051.8,328.1 1053.1,327.8 1054.3,327.6 1055.6,327.3 1056.9,327.0 1058.2,326.8 1059.5,326.5 1060.7,326.3 1062.0,326.0 1063.3,325.7 1064.6,325.5 1065.8,325.2 1067.1,325.0 1068.4,324.7 1069.7,324.5 1071.0,324.2 1072.2,324.0 1073.5,323.7 1074.8,323.5 1076.1,323.2 1077.3,323.0 1078.6,322.7 1079.9,322.5 1081.2,322.2 1082.5,321.9 1083.7,321.7 1085.0,321.4 1086.3,321.2 1087.6,320.9 1088.8,320.7 1090.1,320.4 1091.4,320.2 1092.7,319.9 1094.0,319.7 1095.2,319.4 1096.5,319.2 1097.8,318.9 1099.1,318.7 1100.4,318.5 1101.6,318.2 1102.9,318.0 1104.2,317.7 1105.5,317.5 1106.7,317.3 1108.0,317.0 1109.3,316.8 1110.6,316.6 1111.9,316.3 1113.1,316.1 1114.4,315.9 1115.7,315.7 1117.0,315.4 1118.2,315.2 1119.5,315.0 1120.8,314.8 1122.1,314.5 1123.4,314.3 1124.6,314.1 1125.9,313.9 1127.2,313.6 1128.5,313.4 1129.7,313.2 1131.0,313.0 1132.3,312.7 1133.6,312.5 1134.9,312.3 1136.1,312.1 1137.4,311.8 1138.7,311.6 1140.0,311.4 1141.2,311.2 1142.5,311.0 1143.8,310.8 1145.1,310.5 1146.4,310.3 1147.6,310.1 1148.9,309.9 1150.2,309.7 1151.5,309.5 1152.7,309.3 1154.0,309.1 1155.3,308.9 1156.6,308.7 1157.9,308.5 1159.1,308.3 1160.4,308.1 1161.7,307.9 1163.0,307.7 1164.3,307.5 1165.5,307.3 1166.8,307.1 1168.1,307.0 1169.4,306.8 1170.6,306.6 1171.9,306.4 1173.2,306.2 1174.5,306.0 1175.8,305.9 1177.0,305.7 1178.3,305.5 1179.6,305.4 1180.9,305.2 1182.1,305.0 1183.4,304.9 1184.7,304.8 1186.0,304.6 1187.3,304.5 1188.5,304.4 1189.8,304.2 1191.1,304.1 1192.4,304.0 1193.6,303.9 1194.9,303.8 1196.2,303.8 1197.5,303.7 1198.8,303.6 1200.0,303.5 1201.3,303.4 1202.6,303.3 1203.9,303.3 1205.1,303.2 1206.4,303.1 1207.7,303.0 1209.0,303.0 1210.3,302.9 1211.5,302.8 1212.8,302.7 1214.1,302.7 1215.4,302.6 1216.6,302.5 1217.9,302.4 1219.2,302.4 1220.5,302.3 1221.8,302.2 1223.0,302.1 1224.3,302.1 1225.6,302.0 1226.9,301.9 1228.2,301.9 1229.4,301.8 1230.7,301.7 1232.0,301.6 1233.3,301.6 1234.5,301.5 1235.8,301.4 1237.1,301.3 1238.4,301.3 1239.7,301.2 1240.9,301.1 1242.2,301.0 1243.5,301.0 1244.8,300.9 1246.0,300.8 1247.3,300.8 1248.6,300.7 1249.9,300.6 1251.2,300.6 1252.4,300.5 1253.7,300.4 1255.0,300.4 1256.3,300.3 1257.5,300.3 1258.8,300.2 1260.1,300.2"/>
<polyline fill="none" stroke="#2a8a2a" stroke-width="2.0" stroke-linejoin="round" points="718.2,395.2 719.5,395.2 720.8,395.1 722.1,395.1 723.3,395.1 724.6,395.1 725.9,395.1 727.2,395.1 728.5,395.1 729.7,395.1 731.0,395.0 732.3,395.0 733.6,395.0 734.8,395.0 736.1,395.0 737.4,395.0 738.7,394.9 740.0,394.9 741.2,394.9 742.5,394.9 743.8,394.9 745.1,394.8 746.3,394.8 747.6,394.8 748.9,394.7 750.2,394.7 751.5,394.7 752.7,394.6 754.0,394.6 755.3,394.5 756.6,394.4 757.8,394.4 759.1,394.3 760.4,394.2 761.7,394.1 763.0,394.0 764.2,393.8 765.5,393.7 766.8,393.5 768.1,393.3 769.3,393.1 770.6,392.8 771.9,392.5 773.2,392.2 774.5,391.9 775.7,391.6 777.0,391.2 778.3,390.8 779.6,390.4 780.9,390.0 782.1,389.6 783.4,389.1 784.7,388.7 786.0,388.2 787.2,387.7 788.5,387.2 789.8,386.7 791.1,386.2 792.4,385.6 793.6,385.1 794.9,384.5 796.2,383.9 797.5,383.3 798.7,382.7 800.0,382.1 801.3,381.4 802.6,380.8 803.9,380.1 805.1,379.5 806.4,378.8 807.7,378.1 809.0,377.4 810.2,376.6 811.5,375.9 812.8,375.1 814.1,374.4 815.4,373.6 816.6,372.8 817.9,372.0 819.2,371.1 820.5,370.3 821.7,369.4 823.0,368.6 824.3,367.7 825.6,366.8 826.9,365.9 828.1,364.9 829.4,364.0 830.7,363.0 832.0,362.0 833.2,361.0 834.5,359.9 835.8,358.8 837.1,357.7 838.4,356.5 839.6,355.4 840.9,354.1 842.2,352.9 843.5,351.5 844.8,350.2 846.0,348.8 847.3,347.4 848.6,345.9 849.9,344.4 851.1,342.8 852.4,341.2 853.7,339.5 855.0,337.8 856.3,336.1 857.5,334.3 858.8,332.6 860.1,330.7 861.4,328.9 862.6,327.0 863.9,325.2 865.2,323.3 866.5,321.4 867.8,319.5 869.0,317.6 870.3,315.8 871.6,313.9 872.9,312.1 874.1,310.3 875.4,308.5 876.7,306.8 878.0,305.1 879.3,303.5 880.5,301.9 881.8,300.5 883.1,299.1 884.4,297.7 885.6,296.5 886.9,295.4 888.2,294.4 889.5,293.5 890.8,292.7 892.0,292.0 893.3,291.4 894.6,291.0 895.9,290.6 897.1,290.4 898.4,290.3 899.7,290.2 901.0,290.3 902.3,290.5 903.5,290.7 904.8,291.1 906.1,291.5 907.4,292.0 908.7,292.5 909.9,293.1 911.2,293.8 912.5,294.6 913.8,295.3 915.0,296.2 916.3,297.0 917.6,298.0 918.9,298.9 920.2,299.9 921.4,300.9 922.7,301.9 924.0,302.9 925.3,303.9 926.5,305.0 927.8,306.0 929.1,307.0 930.4,308.1 931.7,309.1 932.9,310.1 934.2,311.2 935.5,312.2 936.8,313.1 938.0,314.1 939.3,315.1 940.6,316.0 941.9,316.9 943.2,317.8 944.4,318.6 945.7,319.4 947.0,320.3 948.3,321.0 949.5,321.8 950.8,322.5 952.1,323.2 953.4,323.9 954.7,324.6 955.9,325.2 957.2,325.8 958.5,326.4 959.8,327.0 961.0,327.5 962.3,328.1 963.6,328.6 964.9,329.1 966.2,329.5 967.4,330.0 968.7,330.4 970.0,330.8 971.3,331.2 972.6,331.6 973.8,332.0 975.1,332.3 976.4,332.6 977.7,332.9 978.9,333.2 980.2,333.4 981.5,333.7 982.8,333.9 984.1,334.1 985.3,334.3 986.6,334.5 987.9,334.7 989.2,334.8 990.4,335.0 991.7,335.1 993.0,335.2 994.3,335.3 995.6,335.4 996.8,335.5 998.1,335.6 999.4,335.7 1000.7,335.7 1001.9,335.8 1003.2,335.8 1004.5,335.9 1005.8,335.9 1007.1,335.9 1008.3,335.8 1009.6,335.8 1010.9,335.8 1012.2,335.7 1013.4,335.6 1014.7,335.5 1016.0,335.3 1017.3,335.2 1018.6,335.0 1019.8,334.7 1021.1,334.5 1022.4,334.2 1023.7,334.0 1024.9,333.7 1026.2,333.4 1027.5,333.0 1028.8,332.7 1030.1,332.3 1031.3,332.0 1032.6,331.6 1033.9,331.3 1035.2,330.9 1036.5,330.6 1037.7,330.2 1039.0,329.9 1040.3,329.6 1041.6,329.2 1042.8,328.9 1044.1,328.6 1045.4,328.3 1046.7,328.0 1048.0,327.7 1049.2,327.5 1050.5,327.2 1051.8,326.9 1053.1,326.7 1054.3,326.4 1055.6,326.2 1056.9,325.9 1058.2,325.7 1059.5,325.4 1060.7,325.2 1062.0,324.9 1063.3,324.7 1064.6,324.5 1065.8,324.2 1067.1,324.0 1068.4,323.7 1069.7,323.5 1071.0,323.3 1072.2,323.0 1073.5,322.8 1074.8,322.5 1076.1,322.3 1077.3,322.1 1078.6,321.8 1079.9,321.6 1081.2,321.3 1082.5,321.1 1083.7,320.9 1085.0,320.6 1086.3,320.4 1087.6,320.1 1088.8,319.9 1090.1,319.7 1091.4,319.4 1092.7,319.2 1094.0,318.9 1095.2,318.7 1096.5,318.5 1097.8,318.2 1099.1,318.0 1100.4,317.7 1101.6,317.5 1102.9,317.3 1104.2,317.1 1105.5,316.8 1106.7,316.6 1108.0,316.4 1109.3,316.1 1110.6,315.9 1111.9,315.7 1113.1,315.5 1114.4,315.3 1115.7,315.0 1117.0,314.8 1118.2,314.6 1119.5,314.4 1120.8,314.2 1122.1,313.9 1123.4,313.7 1124.6,313.5 1125.9,313.3 1127.2,313.1 1128.5,312.9 1129.7,312.6 1131.0,312.4 1132.3,312.2 1133.6,312.0 1134.9,311.8 1136.1,311.6 1137.4,311.3 1138.7,311.1 1140.0,310.9 1141.2,310.7 1142.5,310.5 1143.8,310.3 1145.1,310.1 1146.4,309.8 1147.6,309.6 1148.9,309.4 1150.2,309.2 1151.5,309.0 1152.7,308.8 1154.0,308.6 1155.3,308.4 1156.6,308.2 1157.9,308.0 1159.1,307.9 1160.4,307.7 1161.7,307.5 1163.0,307.3 1164.3,307.1 1165.5,306.9 1166.8,306.7 1168.1,306.5 1169.4,306.4 1170.6,306.2 1171.9,306.0 1173.2,305.8 1174.5,305.6 1175.8,305.5 1177.0,305.3 1178.3,305.1 1179.6,305.0 1180.9,304.8 1182.1,304.7 1183.4,304.5 1184.7,304.4 1186.0,304.3 1187.3,304.1 1188.5,304.0 1189.8,303.9 1191.1,303.8 1192.4,303.7 1193.6,303.6 1194.9,303.5 1196.2,303.4 1197.5,303.3 1198.8,303.3 1200.0,303.2 1201.3,303.1 1202.6,303.0 1203.9,302.9 1205.1,302.9 1206.4,302.8 1207.7,302.7 1209.0,302.7 1210.3,302.6 1211.5,302.5 1212.8,302.4 1214.1,302.4 1215.4,302.3 1216.6,302.2 1217.9,302.2 1219.2,302.1 1220.5,302.0 1221.8,301.9 1223.0,301.9 1224.3,301.8 1225.6,301.7 1226.9,301.6 1228.2,301.6 1229.4,301.5 1230.7,301.4 1232.0,301.4 1233.3,301.3 1234.5,301.2 1235.8,301.1 1237.1,301.1 1238.4,301.0 1239.7,300.9 1240.9,300.9 1242.2,300.8 1243.5,300.7 1244.8,300.6 1246.0,300.6 1247.3,300.5 1248.6,300.4 1249.9,300.4 1251.2,300.3 1252.4,300.3 1253.7,300.2 1255.0,300.1 1256.3,300.1 1257.5,300.1 1258.8,300.0 1260.1,300.0"/>
<polyline fill="none" stroke="#8b2a4a" stroke-width="2.0" stroke-linejoin="round" points="718.2,396.0 719.5,396.0 720.8,396.0 722.1,396.0 723.3,396.0 724.6,396.0 725.9,396.0 727.2,396.0 728.5,396.0 729.7,396.0 731.0,396.0 732.3,396.0 733.6,396.0 734.8,396.0 736.1,396.0 737.4,396.0 738.7,396.0 740.0,396.0 741.2,396.0 742.5,396.0 743.8,396.0 745.1,396.0 746.3,395.9 747.6,395.9 748.9,395.9 750.2,395.9 751.5,395.9 752.7,395.8 754.0,395.8 755.3,395.8 756.6,395.7 757.8,395.7 759.1,395.6 760.4,395.6 761.7,395.5 763.0,395.4 764.2,395.3 765.5,395.1 766.8,395.0 768.1,394.8 769.3,394.6 770.6,394.4 771.9,394.2 773.2,393.9 774.5,393.7 775.7,393.4 777.0,393.0 778.3,392.7 779.6,392.4 780.9,392.0 782.1,391.6 783.4,391.2 784.7,390.8 786.0,390.4 787.2,390.0 788.5,389.5 789.8,389.1 791.1,388.6 792.4,388.2 793.6,387.7 794.9,387.2 796.2,386.7 797.5,386.3 798.7,385.8 800.0,385.3 801.3,384.8 802.6,384.3 803.9,383.8 805.1,383.2 806.4,382.7 807.7,382.2 809.0,381.7 810.2,381.2 811.5,380.7 812.8,380.2 814.1,379.7 815.4,379.2 816.6,378.7 817.9,378.2 819.2,377.7 820.5,377.2 821.7,376.8 823.0,376.3 824.3,375.9 825.6,375.4 826.9,375.0 828.1,374.6 829.4,374.2 830.7,373.8 832.0,373.4 833.2,373.0 834.5,372.6 835.8,372.3 837.1,371.9 838.4,371.5 839.6,371.1 840.9,370.7 842.2,370.4 843.5,370.0 844.8,369.6 846.0,369.2 847.3,368.7 848.6,368.3 849.9,367.9 851.1,367.4 852.4,366.9 853.7,366.5 855.0,366.0 856.3,365.5 857.5,365.0 858.8,364.4 860.1,363.9 861.4,363.4 862.6,362.8 863.9,362.3 865.2,361.7 866.5,361.2 867.8,360.6 869.0,360.1 870.3,359.5 871.6,359.0 872.9,358.4 874.1,357.9 875.4,357.3 876.7,356.8 878.0,356.3 879.3,355.8 880.5,355.3 881.8,354.8 883.1,354.3 884.4,353.8 885.6,353.4 886.9,353.0 888.2,352.6 889.5,352.2 890.8,351.9 892.0,351.5 893.3,351.2 894.6,350.9 895.9,350.6 897.1,350.3 898.4,350.1 899.7,349.8 901.0,349.6 902.3,349.4 903.5,349.1 904.8,348.9 906.1,348.7 907.4,348.5 908.7,348.3 909.9,348.1 911.2,347.9 912.5,347.7 913.8,347.4 915.0,347.2 916.3,347.0 917.6,346.8 918.9,346.6 920.2,346.4 921.4,346.2 922.7,346.0 924.0,345.8 925.3,345.6 926.5,345.4 927.8,345.2 929.1,345.0 930.4,344.8 931.7,344.5 932.9,344.3 934.2,344.1 935.5,343.9 936.8,343.7 938.0,343.5 939.3,343.3 940.6,343.1 941.9,342.9 943.2,342.7 944.4,342.5 945.7,342.3 947.0,342.1 948.3,341.9 949.5,341.7 950.8,341.5 952.1,341.3 953.4,341.2 954.7,341.0 955.9,340.9 957.2,340.7 958.5,340.6 959.8,340.4 961.0,340.3 962.3,340.2 963.6,340.1 964.9,340.0 966.2,339.9 967.4,339.9 968.7,339.8 970.0,339.7 971.3,339.7 972.6,339.6 973.8,339.6 975.1,339.5 976.4,339.5 977.7,339.4 978.9,339.4 980.2,339.3 981.5,339.3 982.8,339.2 984.1,339.2 985.3,339.2 986.6,339.1 987.9,339.1 989.2,339.0 990.4,339.0 991.7,338.9 993.0,338.9 994.3,338.9 995.6,338.8 996.8,338.8 998.1,338.7 999.4,338.7 1000.7,338.6 1001.9,338.5 1003.2,338.5 1004.5,338.4 1005.8,338.3 1007.1,338.2 1008.3,338.1 1009.6,338.0 1010.9,337.9 1012.2,337.7 1013.4,337.5 1014.7,337.3 1016.0,337.1 1017.3,336.8 1018.6,336.4 1019.8,336.0 1021.1,335.4 1022.4,334.6 1023.7,333.5 1024.9,332.1 1026.2,330.2 1027.5,327.8 1028.8,325.1 1030.1,322.3 1031.3,319.7 1032.6,317.8 1033.9,316.8 1035.2,317.0 1036.5,318.2 1037.7,320.1 1039.0,322.1 1040.3,324.1 1041.6,325.7 1042.8,326.9 1044.1,327.7 1045.4,328.2 1046.7,328.3 1048.0,328.3 1049.2,328.2 1050.5,328.0 1051.8,327.8 1053.1,327.6 1054.3,327.3 1055.6,327.1 1056.9,326.9 1058.2,326.6 1059.5,326.4 1060.7,326.1 1062.0,325.9 1063.3,325.6 1064.6,325.4 1065.8,325.1 1067.1,324.9 1068.4,324.6 1069.7,324.4 1071.0,324.2 1072.2,323.9 1073.5,323.7 1074.8,323.4 1076.1,323.2 1077.3,322.9 1078.6,322.7 1079.9,322.4 1081.2,322.2 1082.5,321.9 1083.7,321.7 1085.0,321.4 1086.3,321.2 1087.6,320.9 1088.8,320.7 1090.1,320.4 1091.4,320.2 1092.7,319.9 1094.0,319.7 1095.2,319.4 1096.5,319.2 1097.8,318.9 1099.1,318.7 1100.4,318.4 1101.6,318.2 1102.9,318.0 1104.2,317.7 1105.5,317.5 1106.7,317.3 1108.0,317.0 1109.3,316.8 1110.6,316.6 1111.9,316.3 1113.1,316.1 1114.4,315.9 1115.7,315.6 1117.0,315.4 1118.2,315.2 1119.5,315.0 1120.8,314.7 1122.1,314.5 1123.4,314.3 1124.6,314.1 1125.9,313.8 1127.2,313.6 1128.5,313.4 1129.7,313.2 1131.0,313.0 1132.3,312.7 1133.6,312.5 1134.9,312.3 1136.1,312.1 1137.4,311.8 1138.7,311.6 1140.0,311.4 1141.2,311.2 1142.5,311.0 1143.8,310.7 1145.1,310.5 1146.4,310.3 1147.6,310.1 1148.9,309.9 1150.2,309.7 1151.5,309.5 1152.7,309.3 1154.0,309.1 1155.3,308.9 1156.6,308.7 1157.9,308.5 1159.1,308.3 1160.4,308.1 1161.7,307.9 1163.0,307.7 1164.3,307.5 1165.5,307.3 1166.8,307.1 1168.1,307.0 1169.4,306.8 1170.6,306.6 1171.9,306.4 1173.2,306.2 1174.5,306.0 1175.8,305.9 1177.0,305.7 1178.3,305.5 1179.6,305.4 1180.9,305.2 1182.1,305.0 1183.4,304.9 1184.7,304.7 1186.0,304.6 1187.3,304.5 1188.5,304.4 1189.8,304.2 1191.1,304.1 1192.4,304.0 1193.6,303.9 1194.9,303.8 1196.2,303.8 1197.5,303.7 1198.8,303.6 1200.0,303.5 1201.3,303.4 1202.6,303.3 1203.9,303.3 1205.1,303.2 1206.4,303.1 1207.7,303.0 1209.0,303.0 1210.3,302.9 1211.5,302.8 1212.8,302.7 1214.1,302.7 1215.4,302.6 1216.6,302.5 1217.9,302.4 1219.2,302.4 1220.5,302.3 1221.8,302.2 1223.0,302.1 1224.3,302.1 1225.6,302.0 1226.9,301.9 1228.2,301.9 1229.4,301.8 1230.7,301.7 1232.0,301.6 1233.3,301.6 1234.5,301.5 1235.8,301.4 1237.1,301.3 1238.4,301.3 1239.7,301.2 1240.9,301.1 1242.2,301.0 1243.5,301.0 1244.8,300.9 1246.0,300.8 1247.3,300.8 1248.6,300.7 1249.9,300.6 1251.2,300.6 1252.4,300.5 1253.7,300.4 1255.0,300.4 1256.3,300.3 1257.5,300.3 1258.8,300.2 1260.1,300.2"/>
<polyline fill="none" stroke="#2d2d9a" stroke-width="2.0" stroke-linejoin="round" points="718.2,395.9 719.5,395.9 720.8,395.9 722.1,395.9 723.3,395.9 724.6,395.9 725.9,395.9 727.2,395.9 728.5,395.9 729.7,395.9 731.0,395.9 732.3,395.9 733.6,395.9 734.8,395.9 736.1,395.9 737.4,395.9 738.7,395.9 740.0,395.9 741.2,395.9 742.5,395.9 743.8,395.9 745.1,395.9 746.3,395.9 747.6,395.9 748.9,395.8 750.2,395.8 751.5,395.8 752.7,395.8 754.0,395.7 755.3,395.7 756.6,395.7 757.8,395.6 759.1,395.6 760.4,395.5 761.7,395.4 763.0,395.3 764.2,395.2 765.5,395.1 766.8,394.9 768.1,394.7 769.3,394.6 770.6,394.3 771.9,394.1 773.2,393.8 774.5,393.6 775.7,393.3 777.0,393.0 778.3,392.6 779.6,392.3 780.9,391.9 782.1,391.5 783.4,391.1 784.7,390.7 786.0,390.3 787.2,389.9 788.5,389.4 789.8,389.0 791.1,388.5 792.4,388.1 793.6,387.6 794.9,387.1 796.2,386.6 797.5,386.2 798.7,385.7 800.0,385.2 801.3,384.7 802.6,384.2 803.9,383.6 805.1,383.1 806.4,382.6 807.7,382.1 809.0,381.6 810.2,381.1 811.5,380.6 812.8,380.1 814.1,379.5 815.4,379.0 816.6,378.5 817.9,378.1 819.2,377.6 820.5,377.1 821.7,376.6 823.0,376.2 824.3,375.7 825.6,375.3 826.9,374.9 828.1,374.5 829.4,374.1 830.7,373.7 832.0,373.3 833.2,372.9 834.5,372.5 835.8,372.1 837.1,371.7 838.4,371.4 839.6,371.0 840.9,370.6 842.2,370.2 843.5,369.8 844.8,369.4 846.0,369.0 847.3,368.6 848.6,368.1 849.9,367.7 851.1,367.2 852.4,366.8 853.7,366.3 855.0,365.8 856.3,365.3 857.5,364.8 858.8,364.3 860.1,363.7 861.4,363.2 862.6,362.7 863.9,362.1 865.2,361.5 866.5,361.0 867.8,360.4 869.0,359.9 870.3,359.3 871.6,358.8 872.9,358.2 874.1,357.7 875.4,357.1 876.7,356.6 878.0,356.0 879.3,355.5 880.5,355.0 881.8,354.5 883.1,354.0 884.4,353.6 885.6,353.1 886.9,352.7 888.2,352.3 889.5,351.9 890.8,351.6 892.0,351.2 893.3,350.9 894.6,350.6 895.9,350.3 897.1,350.1 898.4,349.8 899.7,349.5 901.0,349.3 902.3,349.1 903.5,348.8 904.8,348.6 906.1,348.4 907.4,348.2 908.7,348.0 909.9,347.7 911.2,347.5 912.5,347.3 913.8,347.1 915.0,346.9 916.3,346.7 917.6,346.5 918.9,346.2 920.2,346.0 921.4,345.8 922.7,345.6 924.0,345.4 925.3,345.2 926.5,344.9 927.8,344.7 929.1,344.5 930.4,344.3 931.7,344.1 932.9,343.9 934.2,343.6 935.5,343.4 936.8,343.2 938.0,343.0 939.3,342.8 940.6,342.6 941.9,342.3 943.2,342.1 944.4,341.9 945.7,341.7 947.0,341.5 948.3,341.3 949.5,341.1 950.8,340.9 952.1,340.7 953.4,340.5 954.7,340.3 955.9,340.1 957.2,340.0 958.5,339.8 959.8,339.7 961.0,339.5 962.3,339.4 963.6,339.3 964.9,339.1 966.2,339.0 967.4,338.9 968.7,338.8 970.0,338.7 971.3,338.6 972.6,338.6 973.8,338.5 975.1,338.4 976.4,338.3 977.7,338.2 978.9,338.1 980.2,338.1 981.5,338.0 982.8,337.9 984.1,337.8 985.3,337.7 986.6,337.6 987.9,337.5 989.2,337.4 990.4,337.3 991.7,337.2 993.0,337.1 994.3,336.9 995.6,336.8 996.8,336.7 998.1,336.5 999.4,336.4 1000.7,336.2 1001.9,336.0 1003.2,335.8 1004.5,335.6 1005.8,335.4 1007.1,335.1 1008.3,334.8 1009.6,334.4 1010.9,334.0 1012.2,333.6 1013.4,333.1 1014.7,332.5 1016.0,331.8 1017.3,331.1 1018.6,330.2 1019.8,329.3 1021.1,328.2 1022.4,327.0 1023.7,325.6 1024.9,324.2 1026.2,322.5 1027.5,320.8 1028.8,318.8 1030.1,316.8 1031.3,314.5 1032.6,312.1 1033.9,309.6 1035.2,306.9 1036.5,304.2 1037.7,301.3 1039.0,298.4 1040.3,295.4 1041.6,292.5 1042.8,289.6 1044.1,286.9 1045.4,284.4 1046.7,282.1 1048.0,280.2 1049.2,278.7 1050.5,277.7 1051.8,277.1 1053.1,277.1 1054.3,277.6 1055.6,278.5 1056.9,279.9 1058.2,281.6 1059.5,283.5 1060.7,285.6 1062.0,287.9 1063.3,290.2 1064.6,292.6 1065.8,294.9 1067.1,297.1 1068.4,299.2 1069.7,301.3 1071.0,303.2 1072.2,304.9 1073.5,306.5 1074.8,308.0 1076.1,309.3 1077.3,310.4 1078.6,311.5 1079.9,312.4 1081.2,313.1 1082.5,313.8 1083.7,314.3 1085.0,314.8 1086.3,315.1 1087.6,315.4 1088.8,315.6 1090.1,315.8 1091.4,315.9 1092.7,315.9 1094.0,316.0 1095.2,316.0 1096.5,315.9 1097.8,315.9 1099.1,315.8 1100.4,315.7 1101.6,315.6 1102.9,315.5 1104.2,315.4 1105.5,315.3 1106.7,315.1 1108.0,315.0 1109.3,314.8 1110.6,314.7 1111.9,314.5 1113.1,314.4 1114.4,314.2 1115.7,314.0 1117.0,313.9 1118.2,313.7 1119.5,313.5 1120.8,313.4 1122.1,313.2 1123.4,313.0 1124.6,312.8 1125.9,312.6 1127.2,312.5 1128.5,312.3 1129.7,312.1 1131.0,311.9 1132.3,311.7 1133.6,311.5 1134.9,311.3 1136.1,311.1 1137.4,310.9 1138.7,310.7 1140.0,310.5 1141.2,310.3 1142.5,310.1 1143.8,309.9 1145.1,309.8 1146.4,309.6 1147.6,309.4 1148.9,309.2 1150.2,309.0 1151.5,308.8 1152.7,308.6 1154.0,308.4 1155.3,308.2 1156.6,308.1 1157.9,307.9 1159.1,307.7 1160.4,307.5 1161.7,307.3 1163.0,307.2 1164.3,307.0 1165.5,306.8 1166.8,306.6 1168.1,306.4 1169.4,306.3 1170.6,306.1 1171.9,305.9 1173.2,305.7 1174.5,305.6 1175.8,305.4 1177.0,305.2 1178.3,305.1 1179.6,304.9 1180.9,304.8 1182.1,304.6 1183.4,304.5 1184.7,304.4 1186.0,304.2 1187.3,304.1 1188.5,304.0 1189.8,303.9 1191.1,303.8 1192.4,303.7 1193.6,303.6 1194.9,303.5 1196.2,303.4 1197.5,303.3 1198.8,303.3 1200.0,303.2 1201.3,303.1 1202.6,303.0 1203.9,303.0 1205.1,302.9 1206.4,302.8 1207.7,302.8 1209.0,302.7 1210.3,302.6 1211.5,302.5 1212.8,302.5 1214.1,302.4 1215.4,302.3 1216.6,302.3 1217.9,302.2 1219.2,302.1 1220.5,302.1 1221.8,302.0 1223.0,301.9 1224.3,301.8 1225.6,301.8 1226.9,301.7 1228.2,301.6 1229.4,301.6 1230.7,301.5 1232.0,301.4 1233.3,301.3 1234.5,301.3 1235.8,301.2 1237.1,301.1 1238.4,301.1 1239.7,301.0 1240.9,300.9 1242.2,300.8 1243.5,300.8 1244.8,300.7 1246.0,300.6 1247.3,300.6 1248.6,300.5 1249.9,300.4 1251.2,300.4 1252.4,300.3 1253.7,300.3 1255.0,300.2 1256.3,300.2 1257.5,300.1 1258.8,300.1 1260.1,300.0"/>
<polyline fill="none" stroke="#a030d0" stroke-width="2.0" stroke-linejoin="round" points="718.2,395.7 719.5,395.7 720.8,395.7 722.1,395.7 723.3,395.7 724.6,395.7 725.9,395.7 727.2,395.7 728.5,395.7 729.7,395.7 731.0,395.7 732.3,395.7 733.6,395.7 734.8,395.7 736.1,395.7 737.4,395.7 738.7,395.7 740.0,395.7 741.2,395.7 742.5,395.7 743.8,395.7 745.1,395.7 746.3,395.7 747.6,395.6 748.9,395.6 750.2,395.6 751.5,395.6 752.7,395.6 754.0,395.5 755.3,395.5 756.6,395.4 757.8,395.4 759.1,395.3 760.4,395.3 761.7,395.2 763.0,395.1 764.2,395.0 765.5,394.8 766.8,394.7 768.1,394.5 769.3,394.3 770.6,394.1 771.9,393.9 773.2,393.6 774.5,393.3 775.7,393.0 777.0,392.7 778.3,392.4 779.6,392.0 780.9,391.6 782.1,391.2 783.4,390.8 784.7,390.4 786.0,390.0 787.2,389.6 788.5,389.2 789.8,388.7 791.1,388.3 792.4,387.8 793.6,387.3 794.9,386.8 796.2,386.4 797.5,385.9 798.7,385.4 800.0,384.9 801.3,384.4 802.6,383.9 803.9,383.4 805.1,382.8 806.4,382.3 807.7,381.8 809.0,381.3 810.2,380.8 811.5,380.3 812.8,379.8 814.1,379.2 815.4,378.7 816.6,378.2 817.9,377.8 819.2,377.3 820.5,376.8 821.7,376.3 823.0,375.9 824.3,375.4 825.6,375.0 826.9,374.6 828.1,374.1 829.4,373.7 830.7,373.3 832.0,372.9 833.2,372.5 834.5,372.2 835.8,371.8 837.1,371.4 838.4,371.0 839.6,370.6 840.9,370.2 842.2,369.8 843.5,369.4 844.8,369.0 846.0,368.6 847.3,368.2 848.6,367.8 849.9,367.3 851.1,366.9 852.4,366.4 853.7,365.9 855.0,365.4 856.3,364.9 857.5,364.4 858.8,363.9 860.1,363.3 861.4,362.8 862.6,362.3 863.9,361.7 865.2,361.1 866.5,360.6 867.8,360.0 869.0,359.5 870.3,358.9 871.6,358.3 872.9,357.8 874.1,357.2 875.4,356.7 876.7,356.1 878.0,355.6 879.3,355.1 880.5,354.6 881.8,354.1 883.1,353.6 884.4,353.1 885.6,352.7 886.9,352.3 888.2,351.9 889.5,351.5 890.8,351.1 892.0,350.8 893.3,350.5 894.6,350.1 895.9,349.9 897.1,349.6 898.4,349.3 899.7,349.1 901.0,348.8 902.3,348.6 903.5,348.3 904.8,348.1 906.1,347.9 907.4,347.7 908.7,347.4 909.9,347.2 911.2,347.0 912.5,346.8 913.8,346.6 915.0,346.3 916.3,346.1 917.6,345.9 918.9,345.7 920.2,345.5 921.4,345.3 922.7,345.0 924.0,344.8 925.3,344.6 926.5,344.4 927.8,344.2 929.1,343.9 930.4,343.7 931.7,343.5 932.9,343.3 934.2,343.1 935.5,342.8 936.8,342.6 938.0,342.4 939.3,342.2 940.6,342.0 941.9,341.7 943.2,341.5 944.4,341.3 945.7,341.1 947.0,340.9 948.3,340.7 949.5,340.5 950.8,340.3 952.1,340.1 953.4,339.9 954.7,339.7 955.9,339.5 957.2,339.4 958.5,339.2 959.8,339.0 961.0,338.9 962.3,338.8 963.6,338.7 964.9,338.5 966.2,338.4 967.4,338.3 968.7,338.2 970.0,338.1 971.3,338.1 972.6,338.0 973.8,337.9 975.1,337.8 976.4,337.7 977.7,337.7 978.9,337.6 980.2,337.5 981.5,337.4 982.8,337.4 984.1,337.3 985.3,337.2 986.6,337.1 987.9,337.0 989.2,336.9 990.4,336.9 991.7,336.8 993.0,336.7 994.3,336.6 995.6,336.5 996.8,336.4 998.1,336.3 999.4,336.2 1000.7,336.0 1001.9,335.9 1003.2,335.8 1004.5,335.6 1005.8,335.5 1007.1,335.3 1008.3,335.1 1009.6,334.9 1010.9,334.7 1012.2,334.5 1013.4,334.2 1014.7,333.9 1016.0,333.6 1017.3,333.2 1018.6,332.9 1019.8,332.5 1021.1,332.0 1022.4,331.6 1023.7,331.1 1024.9,330.6 1026.2,330.1 1027.5,329.5 1028.8,329.0 1030.1,328.4 1031.3,327.8 1032.6,327.2 1033.9,326.6 1035.2,326.0 1036.5,325.3 1037.7,324.7 1039.0,324.1 1040.3,323.4 1041.6,322.8 1042.8,322.1 1044.1,321.5 1045.4,320.8 1046.7,320.2 1048.0,319.5 1049.2,318.9 1050.5,318.2 1051.8,317.5 1053.1,316.8 1054.3,316.1 1055.6,315.4 1056.9,314.7 1058.2,314.0 1059.5,313.3 1060.7,312.5 1062.0,311.8 1063.3,311.0 1064.6,310.2 1065.8,309.5 1067.1,308.7 1068.4,307.8 1069.7,307.0 1071.0,306.2 1072.2,305.3 1073.5,304.5 1074.8,303.6 1076.1,302.7 1077.3,301.8 1078.6,300.9 1079.9,300.0 1081.2,299.1 1082.5,298.2 1083.7,297.3 1085.0,296.3 1086.3,295.4 1087.6,294.5 1088.8,293.5 1090.1,292.6 1091.4,291.7 1092.7,290.7 1094.0,289.8 1095.2,288.9 1096.5,288.0 1097.8,287.1 1099.1,286.2 1100.4,285.3 1101.6,284.4 1102.9,283.6 1104.2,282.7 1105.5,281.9 1106.7,281.1 1108.0,280.3 1109.3,279.6 1110.6,278.9 1111.9,278.2 1113.1,277.5 1114.4,276.9 1115.7,276.3 1117.0,275.7 1118.2,275.2 1119.5,274.7 1120.8,274.3 1122.1,273.9 1123.4,273.5 1124.6,273.2 1125.9,272.9 1127.2,272.6 1128.5,272.5 1129.7,272.4 1131.0,272.4 1132.3,272.5 1133.6,272.7 1134.9,273.0 1136.1,273.4 1137.4,273.8 1138.7,274.3 1140.0,274.9 1141.2,275.5 1142.5,276.2 1143.8,276.9 1145.1,277.7 1146.4,278.5 1147.6,279.3 1148.9,280.1 1150.2,281.0 1151.5,281.8 1152.7,282.7 1154.0,283.5 1155.3,284.4 1156.6,285.2 1157.9,286.0 1159.1,286.8 1160.4,287.6 1161.7,288.4 1163.0,289.1 1164.3,289.8 1165.5,290.5 1166.8,291.2 1168.1,291.8 1169.4,292.4 1170.6,293.0 1171.9,293.6 1173.2,294.1 1174.5,294.6 1175.8,295.0 1177.0,295.5 1178.3,295.9 1179.6,296.3 1180.9,296.6 1182.1,297.0 1183.4,297.3 1184.7,297.6 1186.0,297.8 1187.3,298.1 1188.5,298.3 1189.8,298.6 1191.1,298.8 1192.4,298.9 1193.6,299.1 1194.9,299.3 1196.2,299.4 1197.5,299.6 1198.8,299.7 1200.0,299.8 1201.3,299.9 1202.6,300.0 1203.9,300.1 1205.1,300.1 1206.4,300.2 1207.7,300.2 1209.0,300.3 1210.3,300.3 1211.5,300.3 1212.8,300.4 1214.1,300.4 1215.4,300.4 1216.6,300.4 1217.9,300.4 1219.2,300.4 1220.5,300.3 1221.8,300.3 1223.0,300.3 1224.3,300.3 1225.6,300.3 1226.9,300.2 1228.2,300.2 1229.4,300.2 1230.7,300.1 1232.0,300.1 1233.3,300.1 1234.5,300.0 1235.8,300.0 1237.1,299.9 1238.4,299.9 1239.7,299.9 1240.9,299.8 1242.2,299.8 1243.5,299.7 1244.8,299.7 1246.0,299.6 1247.3,299.6 1248.6,299.5 1249.9,299.5 1251.2,299.5 1252.4,299.4 1253.7,299.4 1255.0,299.3 1256.3,299.3 1257.5,299.3 1258.8,299.3 1260.1,299.2"/>
<polyline fill="none" stroke="#8b1c3c" stroke-width="2.2" stroke-linejoin="round" points="718.2,396.0 719.5,396.0 720.8,396.0 722.1,396.0 723.3,396.0 724.6,396.0 725.9,396.0 727.2,396.0 728.5,396.0 729.7,396.0 731.0,396.0 732.3,396.0 733.6,396.0 734.8,396.0 736.1,396.0 737.4,396.0 738.7,396.0 740.0,396.0 741.2,396.0 742.5,396.0 743.8,396.0 745.1,396.0 746.3,395.9 747.6,395.9 748.9,395.9 750.2,395.9 751.5,395.9 752.7,395.9 754.0,395.8 755.3,395.8 756.6,395.7 757.8,395.7 759.1,395.6 760.4,395.6 761.7,395.5 763.0,395.4 764.2,395.3 765.5,395.1 766.8,395.0 768.1,394.8 769.3,394.6 770.6,394.4 771.9,394.2 773.2,393.9 774.5,393.7 775.7,393.4 777.0,393.0 778.3,392.7 779.6,392.4 780.9,392.0 782.1,391.6 783.4,391.2 784.7,390.8 786.0,390.4 787.2,390.0 788.5,389.5 789.8,389.1 791.1,388.6 792.4,388.2 793.6,387.7 794.9,387.2 796.2,386.7 797.5,386.3 798.7,385.8 800.0,385.3 801.3,384.8 802.6,384.3 803.9,383.8 805.1,383.2 806.4,382.7 807.7,382.2 809.0,381.7 810.2,381.2 811.5,380.7 812.8,380.2 814.1,379.7 815.4,379.2 816.6,378.7 817.9,378.2 819.2,377.7 820.5,377.2 821.7,376.8 823.0,376.3 824.3,375.9 825.6,375.4 826.9,375.0 828.1,374.6 829.4,374.2 830.7,373.8 832.0,373.4 833.2,373.0 834.5,372.6 835.8,372.3 837.1,371.9 838.4,371.5 839.6,371.1 840.9,370.7 842.2,370.4 843.5,370.0 844.8,369.6 846.0,369.2 847.3,368.7 848.6,368.3 849.9,367.9 851.1,367.4 852.4,366.9 853.7,366.5 855.0,366.0 856.3,365.5 857.5,365.0 858.8,364.5 860.1,363.9 861.4,363.4 862.6,362.8 863.9,362.3 865.2,361.7 866.5,361.2 867.8,360.6 869.0,360.1 870.3,359.5 871.6,359.0 872.9,358.4 874.1,357.9 875.4,357.3 876.7,356.8 878.0,356.3 879.3,355.8 880.5,355.3 881.8,354.8 883.1,354.3 884.4,353.8 885.6,353.4 886.9,353.0 888.2,352.6 889.5,352.2 890.8,351.9 892.0,351.5 893.3,351.2 894.6,350.9 895.9,350.6 897.1,350.3 898.4,350.1 899.7,349.8 901.0,349.6 902.3,349.4 903.5,349.2 904.8,348.9 906.1,348.7 907.4,348.5 908.7,348.3 909.9,348.1 911.2,347.9 912.5,347.7 913.8,347.5 915.0,347.2 916.3,347.0 917.6,346.8 918.9,346.6 920.2,346.4 921.4,346.2 922.7,346.0 924.0,345.8 925.3,345.6 926.5,345.4 927.8,345.2 929.1,345.0 930.4,344.8 931.7,344.6 932.9,344.3 934.2,344.1 935.5,343.9 936.8,343.7 938.0,343.5 939.3,343.3 940.6,343.1 941.9,342.9 943.2,342.7 944.4,342.5 945.7,342.3 947.0,342.1 948.3,341.9 949.5,341.7 950.8,341.5 952.1,341.4 953.4,341.2 954.7,341.0 955.9,340.9 957.2,340.7 958.5,340.6 959.8,340.5 961.0,340.3 962.3,340.2 963.6,340.1 964.9,340.0 966.2,340.0 967.4,339.9 968.7,339.8 970.0,339.7 971.3,339.7 972.6,339.6 973.8,339.6 975.1,339.5 976.4,339.5 977.7,339.4 978.9,339.4 980.2,339.4 981.5,339.3 982.8,339.3 984.1,339.2 985.3,339.2 986.6,339.2 987.9,339.1 989.2,339.1 990.4,339.0 991.7,339.0 993.0,339.0 994.3,338.9 995.6,338.9 996.8,338.8 998.1,338.8 999.4,338.7 1000.7,338.7 1001.9,338.6 1003.2,338.6 1004.5,338.5 1005.8,338.4 1007.1,338.4 1008.3,338.3 1009.6,338.2 1010.9,338.0 1012.2,337.9 1013.4,337.7 1014.7,337.6 1016.0,337.4 1017.3,337.2 1018.6,336.9 1019.8,336.6 1021.1,336.4 1022.4,336.1 1023.7,335.7 1024.9,335.4 1026.2,335.1 1027.5,334.7 1028.8,334.3 1030.1,334.0 1031.3,333.6 1032.6,333.2 1033.9,332.8 1035.2,332.4 1036.5,332.0 1037.7,331.7 1039.0,331.3 1040.3,331.0 1041.6,330.6 1042.8,330.3 1044.1,329.9 1045.4,329.6 1046.7,329.3 1048.0,329.0 1049.2,328.7 1050.5,328.4 1051.8,328.1 1053.1,327.8 1054.3,327.6 1055.6,327.3 1056.9,327.0 1058.2,326.8 1059.5,326.5 1060.7,326.3 1062.0,326.0 1063.3,325.8 1064.6,325.5 1065.8,325.2 1067.1,325.0 1068.4,324.7 1069.7,324.5 1071.0,324.2 1072.2,324.0 1073.5,323.7 1074.8,323.5 1076.1,323.2 1077.3,323.0 1078.6,322.7 1079.9,322.5 1081.2,322.2 1082.5,322.0 1083.7,321.7 1085.0,321.4 1086.3,321.2 1087.6,320.9 1088.8,320.7 1090.1,320.4 1091.4,320.2 1092.7,319.9 1094.0,319.7 1095.2,319.4 1096.5,319.2 1097.8,318.9 1099.1,318.7 1100.4,318.5 1101.6,318.2 1102.9,318.0 1104.2,317.7 1105.5,317.5 1106.7,317.3 1108.0,317.0 1109.3,316.8 1110.6,316.6 1111.9,316.3 1113.1,316.1 1114.4,315.9 1115.7,315.7 1117.0,315.4 1118.2,315.2 1119.5,315.0 1120.8,314.8 1122.1,314.5 1123.4,314.3 1124.6,314.1 1125.9,313.9 1127.2,313.6 1128.5,313.4 1129.7,313.2 1131.0,313.0 1132.3,312.7 1133.6,312.5 1134.9,312.3 1136.1,312.1 1137.4,311.9 1138.7,311.6 1140.0,311.4 1141.2,311.2 1142.5,311.0 1143.8,310.8 1145.1,310.5 1146.4,310.3 1147.6,310.1 1148.9,309.9 1150.2,309.7 1151.5,309.5 1152.7,309.3 1154.0,309.1 1155.3,308.9 1156.6,308.7 1157.9,308.5 1159.1,308.3 1160.4,308.1 1161.7,307.9 1163.0,307.7 1164.3,307.5 1165.5,307.3 1166.8,307.1 1168.1,307.0 1169.4,306.8 1170.6,306.6 1171.9,306.4 1173.2,306.2 1174.5,306.0 1175.8,305.9 1177.0,305.7 1178.3,305.5 1179.6,305.4 1180.9,305.2 1182.1,305.0 1183.4,304.9 1184.7,304.8 1186.0,304.6 1187.3,304.5 1188.5,304.4 1189.8,304.3 1191.1,304.1 1192.4,304.0 1193.6,303.9 1194.9,303.8 1196.2,303.8 1197.5,303.7 1198.8,303.6 1200.0,303.5 1201.3,303.4 1202.6,303.3 1203.9,303.3 1205.1,303.2 1206.4,303.1 1207.7,303.0 1209.0,303.0 1210.3,302.9 1211.5,302.8 1212.8,302.7 1214.1,302.7 1215.4,302.6 1216.6,302.5 1217.9,302.4 1219.2,302.4 1220.5,302.3 1221.8,302.2 1223.0,302.1 1224.3,302.1 1225.6,302.0 1226.9,301.9 1228.2,301.9 1229.4,301.8 1230.7,301.7 1232.0,301.6 1233.3,301.6 1234.5,301.5 1235.8,301.4 1237.1,301.3 1238.4,301.3 1239.7,301.2 1240.9,301.1 1242.2,301.0 1243.5,301.0 1244.8,300.9 1246.0,300.8 1247.3,300.8 1248.6,300.7 1249.9,300.6 1251.2,300.6 1252.4,300.5 1253.7,300.4 1255.0,300.4 1256.3,300.3 1257.5,300.3 1258.8,300.2 1260.1,300.2"/>
<polyline fill="none" stroke="#e8262a" stroke-width="2.2" stroke-linejoin="round" points="718.2,393.3 719.5,393.3 720.8,393.2 722.1,393.2 723.3,393.1 724.6,393.0 725.9,393.0 727.2,392.9 728.5,392.8 729.7,392.8 731.0,392.7 732.3,392.6 733.6,392.6 734.8,392.5 736.1,392.4 737.4,392.3 738.7,392.2 740.0,392.1 741.2,392.0 742.5,391.9 743.8,391.8 745.1,391.6 746.3,391.5 747.6,391.4 748.9,391.2 750.2,391.1 751.5,390.9 752.7,390.7 754.0,390.5 755.3,390.3 756.6,390.1 757.8,389.8 759.1,389.5 760.4,389.2 761.7,388.9 763.0,388.5 764.2,388.0 765.5,387.5 766.8,386.9 768.1,386.3 769.3,385.5 770.6,384.7 771.9,383.7 773.2,382.6 774.5,381.4 775.7,380.0 777.0,378.4 778.3,376.7 779.6,374.8 780.9,372.7 782.1,370.3 783.4,367.7 784.7,364.9 786.0,361.8 787.2,358.5 788.5,354.8 789.8,350.8 791.1,346.5 792.4,341.8 793.6,336.8 794.9,331.5 796.2,325.9 797.5,320.0 798.7,314.1 800.0,308.1 801.3,302.3 802.6,296.7 803.9,291.6 805.1,286.9 806.4,282.8 807.7,279.2 809.0,276.2 810.2,273.5 811.5,271.0 812.8,268.5 814.1,266.0 815.4,263.3 816.6,260.5 817.9,257.6 819.2,254.7 820.5,252.0 821.7,249.5 823.0,247.5 824.3,246.3 825.6,245.9 826.9,246.4 828.1,248.0 829.4,250.5 830.7,253.8 832.0,257.8 833.2,262.4 834.5,267.3 835.8,272.4 837.1,277.5 838.4,282.6 839.6,287.5 840.9,292.2 842.2,296.5 843.5,300.5 844.8,304.1 846.0,307.3 847.3,310.0 848.6,312.4 849.9,314.3 851.1,315.8 852.4,316.9 853.7,317.7 855.0,318.2 856.3,318.3 857.5,318.2 858.8,317.8 860.1,317.3 861.4,316.5 862.6,315.6 863.9,314.5 865.2,313.4 866.5,312.1 867.8,310.8 869.0,309.4 870.3,307.9 871.6,306.4 872.9,304.9 874.1,303.5 875.4,302.0 876.7,300.5 878.0,299.1 879.3,297.7 880.5,296.3 881.8,295.0 883.1,293.8 884.4,292.6 885.6,291.6 886.9,290.6 888.2,289.7 889.5,288.9 890.8,288.2 892.0,287.6 893.3,287.2 894.6,286.8 895.9,286.6 897.1,286.4 898.4,286.4 899.7,286.4 901.0,286.6 902.3,286.8 903.5,287.1 904.8,287.5 906.1,288.0 907.4,288.5 908.7,289.1 909.9,289.8 911.2,290.5 912.5,291.3 913.8,292.1 915.0,293.0 916.3,293.9 917.6,294.9 918.9,295.8 920.2,296.8 921.4,297.8 922.7,298.9 924.0,299.9 925.3,300.9 926.5,302.0 927.8,303.1 929.1,304.1 930.4,305.2 931.7,306.2 932.9,307.2 934.2,308.3 935.5,309.3 936.8,310.3 938.0,311.2 939.3,312.2 940.6,313.1 941.9,314.0 943.2,314.9 944.4,315.7 945.7,316.5 947.0,317.3 948.3,318.1 949.5,318.8 950.8,319.6 952.1,320.2 953.4,320.9 954.7,321.6 955.9,322.2 957.2,322.8 958.5,323.3 959.8,323.9 961.0,324.4 962.3,324.9 963.6,325.4 964.9,325.8 966.2,326.3 967.4,326.7 968.7,327.1 970.0,327.4 971.3,327.8 972.6,328.1 973.8,328.4 975.1,328.7 976.4,329.0 977.7,329.2 978.9,329.4 980.2,329.6 981.5,329.8 982.8,329.9 984.1,330.0 985.3,330.2 986.6,330.2 987.9,330.3 989.2,330.4 990.4,330.4 991.7,330.4 993.0,330.4 994.3,330.4 995.6,330.4 996.8,330.3 998.1,330.2 999.4,330.1 1000.7,330.0 1001.9,329.9 1003.2,329.7 1004.5,329.5 1005.8,329.2 1007.1,328.9 1008.3,328.6 1009.6,328.2 1010.9,327.8 1012.2,327.3 1013.4,326.7 1014.7,326.0 1016.0,325.2 1017.3,324.3 1018.6,323.3 1019.8,322.1 1021.1,320.6 1022.4,318.8 1023.7,316.6 1024.9,313.9 1026.2,310.6 1027.5,306.7 1028.8,302.3 1030.1,297.6 1031.3,292.9 1032.6,288.8 1033.9,285.5 1035.2,283.2 1036.5,281.8 1037.7,280.9 1039.0,280.2 1040.3,279.3 1041.6,278.1 1042.8,276.5 1044.1,274.6 1045.4,272.5 1046.7,270.4 1048.0,268.5 1049.2,266.8 1050.5,265.5 1051.8,264.7 1053.1,264.3 1054.3,264.4 1055.6,265.0 1056.9,265.9 1058.2,267.2 1059.5,268.7 1060.7,270.4 1062.0,272.2 1063.3,274.0 1064.6,275.9 1065.8,277.7 1067.1,279.4 1068.4,281.0 1069.7,282.5 1071.0,283.8 1072.2,285.0 1073.5,286.0 1074.8,286.9 1076.1,287.6 1077.3,288.1 1078.6,288.5 1079.9,288.8 1081.2,288.9 1082.5,288.9 1083.7,288.8 1085.0,288.5 1086.3,288.2 1087.6,287.8 1088.8,287.4 1090.1,286.9 1091.4,286.3 1092.7,285.7 1094.0,285.1 1095.2,284.4 1096.5,283.7 1097.8,283.0 1099.1,282.3 1100.4,281.6 1101.6,280.9 1102.9,280.2 1104.2,279.5 1105.5,278.8 1106.7,278.1 1108.0,277.4 1109.3,276.8 1110.6,276.1 1111.9,275.5 1113.1,274.9 1114.4,274.4 1115.7,273.9 1117.0,273.4 1118.2,272.9 1119.5,272.5 1120.8,272.1 1122.1,271.7 1123.4,271.4 1124.6,271.1 1125.9,270.9 1127.2,270.7 1128.5,270.6 1129.7,270.5 1131.0,270.6 1132.3,270.8 1133.6,271.0 1134.9,271.3 1136.1,271.7 1137.4,272.2 1138.7,272.8 1140.0,273.4 1141.2,274.0 1142.5,274.7 1143.8,275.5 1145.1,276.3 1146.4,277.1 1147.6,277.9 1148.9,278.8 1150.2,279.6 1151.5,280.5 1152.7,281.4 1154.0,282.2 1155.3,283.1 1156.6,284.0 1157.9,284.8 1159.1,285.6 1160.4,286.4 1161.7,287.2 1163.0,288.0 1164.3,288.7 1165.5,289.4 1166.8,290.1 1168.1,290.8 1169.4,291.4 1170.6,292.0 1171.9,292.5 1173.2,293.1 1174.5,293.6 1175.8,294.1 1177.0,294.5 1178.3,294.9 1179.6,295.3 1180.9,295.7 1182.1,296.0 1183.4,296.4 1184.7,296.7 1186.0,297.0 1187.3,297.2 1188.5,297.5 1189.8,297.7 1191.1,297.9 1192.4,298.1 1193.6,298.3 1194.9,298.5 1196.2,298.6 1197.5,298.8 1198.8,298.9 1200.0,299.0 1201.3,299.1 1202.6,299.2 1203.9,299.3 1205.1,299.4 1206.4,299.5 1207.7,299.5 1209.0,299.6 1210.3,299.6 1211.5,299.6 1212.8,299.7 1214.1,299.7 1215.4,299.7 1216.6,299.7 1217.9,299.7 1219.2,299.7 1220.5,299.7 1221.8,299.7 1223.0,299.7 1224.3,299.7 1225.6,299.7 1226.9,299.6 1228.2,299.6 1229.4,299.6 1230.7,299.6 1232.0,299.5 1233.3,299.5 1234.5,299.5 1235.8,299.4 1237.1,299.4 1238.4,299.3 1239.7,299.3 1240.9,299.3 1242.2,299.2 1243.5,299.2 1244.8,299.1 1246.0,299.1 1247.3,299.1 1248.6,299.0 1249.9,299.0 1251.2,298.9 1252.4,298.9 1253.7,298.9 1255.0,298.8 1256.3,298.8 1257.5,298.8 1258.8,298.8 1260.1,298.8"/>
</g>
<line x1="814.4" y1="55.0" x2="814.4" y2="327.0" stroke="#e03848" stroke-width="2.4" stroke-dasharray="3.5 4"/>
<line x1="824.0" y1="55.0" x2="824.0" y2="327.0" stroke="#e03848" stroke-width="2.4" stroke-dasharray="3.5 4"/>
<path d="M739.7 75.2H803.2 M832.4 75.2H896.6" stroke="#111" stroke-width="2.6" fill="none"/>
<path d="M813.2 75.2L799.2 70.2L799.2 80.2Z M822.4 75.2L836.4 70.2L836.4 80.2Z" fill="#111"/>
<text x="831.9" y="66.0" font-size="20" font-weight="bold" text-anchor="start" fill="#000" textLength="56.0" lengthAdjust="spacingAndGlyphs">0.8 eV</text>
<rect x="43.5" y="500.5" width="563.0" height="419.0" fill="none" stroke="#1c1c1c" stroke-width="3.4"/>
<path d="M86.5 919.8V909.8M129.9 919.8V909.8M173.2 919.8V909.8M216.5 919.8V909.8M259.8 919.8V909.8M303.2 919.8V909.8M346.5 919.8V909.8M389.8 919.8V909.8M433.2 919.8V909.8M476.5 919.8V909.8M519.8 919.8V909.8M563.2 919.8V909.8M64.9 919.8V914.8M108.2 919.8V914.8M151.5 919.8V914.8M194.9 919.8V914.8M238.2 919.8V914.8M281.5 919.8V914.8M324.8 919.8V914.8M368.2 919.8V914.8M411.5 919.8V914.8M454.8 919.8V914.8M498.2 919.8V914.8M541.5 919.8V914.8M584.8 919.8V914.8" stroke="#1c1c1c" stroke-width="2.6" fill="none"/>
<text x="43.2" y="946.0" font-size="21" text-anchor="middle" fill="#3c3c3c" stroke="#3c3c3c" stroke-width="0.45">159</text>
<text x="86.5" y="946.0" font-size="21" text-anchor="middle" fill="#3c3c3c" stroke="#3c3c3c" stroke-width="0.45">160</text>
<text x="129.9" y="946.0" font-size="21" text-anchor="middle" fill="#3c3c3c" stroke="#3c3c3c" stroke-width="0.45">161</text>
<text x="173.2" y="946.0" font-size="21" text-anchor="middle" fill="#3c3c3c" stroke="#3c3c3c" stroke-width="0.45">162</text>
<text x="216.5" y="946.0" font-size="21" text-anchor="middle" fill="#3c3c3c" stroke="#3c3c3c" stroke-width="0.45">163</text>
<text x="259.8" y="946.0" font-size="21" text-anchor="middle" fill="#3c3c3c" stroke="#3c3c3c" stroke-width="0.45">164</text>
<text x="303.2" y="946.0" font-size="21" text-anchor="middle" fill="#3c3c3c" stroke="#3c3c3c" stroke-width="0.45">165</text>
<text x="346.5" y="946.0" font-size="21" text-anchor="middle" fill="#3c3c3c" stroke="#3c3c3c" stroke-width="0.45">166</text>
<text x="389.8" y="946.0" font-size="21" text-anchor="middle" fill="#3c3c3c" stroke="#3c3c3c" stroke-width="0.45">167</text>
<text x="433.2" y="946.0" font-size="21" text-anchor="middle" fill="#3c3c3c" stroke="#3c3c3c" stroke-width="0.45">168</text>
<text x="476.5" y="946.0" font-size="21" text-anchor="middle" fill="#3c3c3c" stroke="#3c3c3c" stroke-width="0.45">169</text>
<text x="519.8" y="946.0" font-size="21" text-anchor="middle" fill="#3c3c3c" stroke="#3c3c3c" stroke-width="0.45">170</text>
<text x="563.2" y="946.0" font-size="21" text-anchor="middle" fill="#3c3c3c" stroke="#3c3c3c" stroke-width="0.45">171</text>
<text x="606.5" y="946.0" font-size="21" text-anchor="middle" fill="#3c3c3c" stroke="#3c3c3c" stroke-width="0.45">172</text>
<text x="237.3" y="967.7" font-size="23.5" font-weight="bold" text-anchor="start" fill="#000" textLength="216.3" lengthAdjust="spacingAndGlyphs">Binding energy (eV)</text>
<text transform="translate(30.0 702.0) rotate(-90)" x="0" y="0" font-size="25" font-weight="bold" text-anchor="middle" fill="#000" textLength="156.9" lengthAdjust="spacingAndGlyphs">Intensity (a.u.)</text>
<text x="46.8" y="547.0" font-size="50" font-weight="bold" text-anchor="start" fill="#000" textLength="57.0" lengthAdjust="spacingAndGlyphs">(c)</text>
<text x="597.7" y="525.4" font-size="19" font-weight="bold" text-anchor="end" fill="#000" textLength="40.2" lengthAdjust="spacingAndGlyphs">S 2p</text>
<text x="414.0" y="563.2" font-size="19" font-weight="normal" text-anchor="start" fill="#2e2e2e" textLength="184.5" lengthAdjust="spacingAndGlyphs" stroke="#2e2e2e" stroke-width="0.5">Cu doped Ni/Ni<tspan font-size="10.5" dy="5.7">3</tspan><tspan dy="-5.7">S</tspan><tspan font-size="10.5" dy="5.7">2</tspan><tspan dy="-5.7">/TM</tspan></text>
<text x="500.0" y="746.0" font-size="19" font-weight="normal" text-anchor="start" fill="#2e2e2e" textLength="100.2" lengthAdjust="spacingAndGlyphs" stroke="#2e2e2e" stroke-width="0.5">Ni/Ni<tspan font-size="10.5" dy="5.7">3</tspan><tspan dy="-5.7">S</tspan><tspan font-size="10.5" dy="5.7">2</tspan><tspan dy="-5.7">/TM</tspan></text>
<g clip-path="url(#cc)">
<polyline fill="none" stroke="#111" stroke-width="2.6" stroke-linejoin="round" points="43.4,660.0 47.9,667.6 55.9,692.6 69.5,651.8 74.0,683.5 78.5,612.1 86.4,635.9 91.7,582.7 100.0,692.6 109.1,629.1 113.6,690.3 118.2,635.9 126.1,586.1 134.0,643.9 139.7,541.9 147.6,622.3 156.7,530.6 162.3,622.3 167.0,597.0 170.3,663.1 177.1,631.4 182.7,547.6 189.5,581.6 195.2,561.2 199.7,613.3 204.3,565.7 213.3,679.0 219.0,606.5 225.8,586.1 231.4,633.7 235.0,628.0 241.6,667.6 247.3,617.8 256.4,574.8 260.9,635.9 268.8,685.8 275.6,623.5 285.8,713.0 290.3,615.5 296.0,713.0 300.5,654.0 307.3,703.9 314.1,658.6 320.9,713.0 324.5,628.4 329.1,630.6 334.7,631.8 341.5,687.3 347.2,719.0 355.1,621.6 360.8,753.0 368.0,620.4 372.6,737.1 377.8,636.3 385.7,743.9 390.2,658.9 394.8,707.6 407.2,613.6 415.2,732.6 420.8,614.8 428.7,646.5 437.4,580.8 442.3,675.9 450.3,646.5 459.3,632.9 467.3,673.7 476.3,627.2 482.0,675.9 485.4,644.2 489.9,723.5 494.4,685.0 499.0,703.1 506.9,725.8 512.6,675.9 517.0,676.0 525.0,625.0 533.0,709.9 542.0,646.5 548.8,709.9 555.6,677.1 560.1,721.2 568.1,618.2 580.5,732.6 585.1,689.5 594.1,636.3 603.2,698.6 605.5,678.2"/>
<polyline fill="none" stroke="#2424b8" stroke-width="2.2" stroke-linejoin="round" points="43.2,666.3 49.3,666.7 55.3,667.2 61.4,667.6 67.5,668.0 73.5,668.4 79.6,668.9 85.7,669.3 91.7,669.7 97.8,670.1 103.9,670.6 109.9,671.0 116.0,671.4 122.1,671.9 128.1,672.3 134.2,672.7 140.3,673.1 146.3,673.6 152.4,674.0 158.5,674.4 164.5,674.8 170.6,675.3 176.7,675.7 182.7,676.1 188.8,676.5 194.9,677.0 200.9,677.4 207.0,677.8 213.1,678.3 219.1,678.7 225.2,679.1 231.3,679.5 237.3,680.0 243.4,680.4 249.5,680.8 255.5,681.2 261.6,681.7 267.6,682.1 273.7,682.5 279.8,683.0 285.8,683.4 291.9,683.8 298.0,684.2 304.0,684.7 310.1,685.1 316.2,685.5 322.2,685.9 328.3,686.4 334.4,686.8 340.4,687.2 346.5,687.6 352.6,688.1 358.6,688.5 364.7,688.9 370.8,689.4 376.8,689.8 382.9,690.2 389.0,690.6 395.0,691.1 401.1,691.5 407.2,691.9 413.2,692.3 419.3,692.8 425.4,693.2 431.4,693.6 437.5,694.1 443.6,694.5 449.6,694.9 455.7,695.3 461.8,695.8 467.8,696.2 473.9,696.6 480.0,697.0 486.0,697.5 492.1,697.9 498.2,698.3 504.2,698.8 510.3,699.2 516.4,699.6 522.4,700.0 528.5,700.5 534.6,700.9 540.6,701.3 546.7,701.7 552.8,702.2 558.8,702.6 564.9,703.0 571.0,703.4 577.0,703.9 583.1,704.3 589.2,704.7 595.2,705.2 601.3,705.6"/>
<polyline fill="none" stroke="#2a8a2a" stroke-width="1.7" stroke-linejoin="round" points="43.2,665.5 49.3,665.8 55.3,666.2 61.4,666.6 67.5,666.9 73.5,667.3 79.6,667.6 85.7,667.9 91.7,668.3 97.8,668.6 103.9,668.8 109.9,669.1 116.0,669.3 122.1,669.5 128.1,669.6 134.2,669.6 140.3,669.5 146.3,669.2 152.4,668.8 158.5,668.1 164.5,667.2 170.6,666.0 176.7,664.4 182.7,662.5 188.8,660.3 194.9,657.9 200.9,655.2 207.0,652.5 213.1,649.9 219.1,647.8 225.2,646.2 231.3,645.6 237.3,646.1 243.4,647.7 249.5,650.2 255.5,653.3 261.6,656.8 267.6,660.4 273.7,663.9 279.8,667.1 285.8,670.1 291.9,672.8 298.0,675.2 304.0,677.2 310.1,679.0 316.2,680.4 322.2,681.7 328.3,682.8 334.4,683.7 340.4,684.6 346.5,685.3 352.6,686.0 358.6,686.6 364.7,687.2 370.8,687.8 376.8,688.3 382.9,688.9 389.0,689.4 395.0,689.9 401.1,690.4 407.2,690.9 413.2,691.4 419.3,691.9 425.4,692.4 431.4,692.8 437.5,693.3 443.6,693.8 449.6,694.3 455.7,694.7 461.8,695.2 467.8,695.6 473.9,696.1 480.0,696.5 486.0,697.0 492.1,697.4 498.2,697.9 504.2,698.3 510.3,698.8 516.4,699.2 522.4,699.7 528.5,700.1 534.6,700.5 540.6,701.0 546.7,701.4 552.8,701.9 558.8,702.3 564.9,702.7 571.0,703.2 577.0,703.6 583.1,704.0 589.2,704.5 595.2,704.9 601.3,705.4"/>
<polyline fill="none" stroke="#e020d8" stroke-width="1.7" stroke-linejoin="round" points="43.2,662.4 49.3,662.4 55.3,662.3 61.4,662.1 67.5,661.8 73.5,661.2 79.6,660.4 85.7,659.2 91.7,657.6 97.8,655.4 103.9,652.7 109.9,649.3 116.0,645.2 122.1,640.3 128.1,634.8 134.2,628.8 140.3,622.4 146.3,616.1 152.4,610.2 158.5,605.4 164.5,602.2 170.6,601.3 176.7,602.7 182.7,606.5 188.8,611.9 194.9,618.6 200.9,625.7 207.0,633.0 213.1,639.9 219.1,646.4 225.2,652.1 231.3,657.2 237.3,661.6 243.4,665.3 249.5,668.3 255.5,670.9 261.6,673.0 267.6,674.7 273.7,676.2 279.8,677.4 285.8,678.5 291.9,679.4 298.0,680.3 304.0,681.1 310.1,681.8 316.2,682.5 322.2,683.1 328.3,683.8 334.4,684.4 340.4,685.0 346.5,685.5 352.6,686.1 358.6,686.6 364.7,687.2 370.8,687.7 376.8,688.2 382.9,688.7 389.0,689.2 395.0,689.7 401.1,690.2 407.2,690.7 413.2,691.2 419.3,691.7 425.4,692.2 431.4,692.6 437.5,693.1 443.6,693.6 449.6,694.0 455.7,694.5 461.8,695.0 467.8,695.4 473.9,695.9 480.0,696.3 486.0,696.8 492.1,697.2 498.2,697.7 504.2,698.1 510.3,698.6 516.4,699.0 522.4,699.5 528.5,699.9 534.6,700.4 540.6,700.8 546.7,701.3 552.8,701.7 558.8,702.1 564.9,702.6 571.0,703.0 577.0,703.5 583.1,703.9 589.2,704.3 595.2,704.8 601.3,705.2"/>
<polyline fill="none" stroke="#3a2a8a" stroke-width="1.7" stroke-linejoin="round" points="43.2,666.1 49.3,666.5 55.3,666.9 61.4,667.3 67.5,667.8 73.5,668.2 79.6,668.6 85.7,669.0 91.7,669.4 97.8,669.8 103.9,670.3 109.9,670.7 116.0,671.1 122.1,671.5 128.1,671.9 134.2,672.3 140.3,672.7 146.3,673.2 152.4,673.6 158.5,674.0 164.5,674.4 170.6,674.8 176.7,675.2 182.7,675.6 188.8,676.0 194.9,676.4 200.9,676.8 207.0,677.2 213.1,677.6 219.1,678.0 225.2,678.4 231.3,678.8 237.3,679.1 243.4,679.5 249.5,679.9 255.5,680.3 261.6,680.6 267.6,681.0 273.7,681.3 279.8,681.7 285.8,682.0 291.9,682.3 298.0,682.6 304.0,682.9 310.1,683.2 316.2,683.5 322.2,683.7 328.3,683.9 334.4,684.1 340.4,684.1 346.5,684.1 352.6,684.0 358.6,683.7 364.7,683.2 370.8,682.4 376.8,681.2 382.9,679.5 389.0,677.3 395.0,674.6 401.1,671.3 407.2,667.4 413.2,663.1 419.3,658.5 425.4,654.0 431.4,650.0 437.5,647.0 443.6,645.7 449.6,646.2 455.7,648.7 461.8,652.7 467.8,657.7 473.9,663.1 480.0,668.5 486.0,673.6 492.1,678.3 498.2,682.4 504.2,685.9 510.3,688.8 516.4,691.2 522.4,693.2 528.5,694.9 534.6,696.2 540.6,697.3 546.7,698.3 552.8,699.1 558.8,699.9 564.9,700.6 571.0,701.2 577.0,701.9 583.1,702.5 589.2,703.0 595.2,703.6 601.3,704.1"/>
<polyline fill="none" stroke="#e8262a" stroke-width="1.9" stroke-linejoin="round" points="43.2,661.3 49.3,661.3 55.3,661.2 61.4,660.9 67.5,660.5 73.5,659.8 79.6,658.9 85.7,657.6 91.7,655.8 97.8,653.6 103.9,650.7 109.9,647.1 116.0,642.7 122.1,637.6 128.1,631.8 134.2,625.3 140.3,618.4 146.3,611.3 152.4,604.6 158.5,598.6 164.5,594.1 170.6,591.5 176.7,591.0 182.7,592.4 188.8,595.2 194.9,598.9 200.9,603.0 207.0,607.0 213.1,610.9 219.1,614.7 225.2,618.5 231.3,622.5 237.3,626.9 243.4,631.7 249.5,636.8 255.5,642.0 261.6,647.1 267.6,651.9 273.7,656.3 279.8,660.3 285.8,663.9 291.9,667.0 298.0,669.6 304.0,671.9 310.1,673.8 316.2,675.4 322.2,676.7 328.3,677.7 334.4,678.6 340.4,679.2 346.5,679.7 352.6,679.9 358.6,679.9 364.7,679.7 370.8,679.1 376.8,678.1 382.9,676.7 389.0,674.7 395.0,672.1 401.1,669.0 407.2,665.2 413.2,661.0 419.3,656.6 425.4,652.1 431.4,648.2 437.5,645.3 443.6,644.1 449.6,644.7 455.7,647.2 461.8,651.3 467.8,656.4 473.9,661.8 480.0,667.3 486.0,672.4 492.1,677.1 498.2,681.3 504.2,684.8 510.3,687.8 516.4,690.3 522.4,692.3 528.5,694.0 534.6,695.3 540.6,696.5 546.7,697.5 552.8,698.4 558.8,699.1 564.9,699.9 571.0,700.5 577.0,701.2 583.1,701.8 589.2,702.4 595.2,703.0 601.3,703.5"/>
<polyline fill="none" stroke="#111" stroke-width="2.6" stroke-linejoin="round" points="43.4,817.4 47.9,878.6 53.6,846.9 60.4,831.0 65.4,781.2 70.6,874.0 74.0,844.6 78.5,897.8 87.1,824.2 91.7,878.6 100.0,840.1 103.4,843.5 109.1,829.9 113.6,834.4 118.2,886.5 121.6,835.5 126.1,842.3 130.6,808.4 138.5,846.9 143.8,834.4 147.6,878.6 152.1,844.6 156.7,887.6 162.3,826.5 169.6,868.4 175.9,810.6 182.7,788.0 192.9,824.2 199.7,833.3 204.9,776.6 215.6,840.1 221.2,811.8 225.8,855.9 234.4,758.5 238.9,870.7 247.3,774.4 253.0,794.8 264.3,799.3 277.9,870.7 286.5,752.8 294.9,854.8 300.1,766.4 308.5,855.9 313.0,834.4 316.8,858.2 324.5,833.3 334.7,843.5 339.3,865.0 347.2,826.5 355.1,877.5 360.3,794.8 365.3,869.5 373.2,792.5 377.8,819.7 381.6,761.9 386.8,826.5 390.2,801.6 394.8,840.1 399.3,789.1 407.2,858.2 411.8,819.7 419.7,867.3 429.9,785.7 433.3,835.5 437.8,724.5 442.3,798.2 446.9,761.9 450.3,762.0 459.3,792.5 468.4,738.1 474.1,785.7 477.5,767.6 482.0,792.5 490.4,758.5 494.4,819.7 499.0,812.9 503.0,751.7 516.0,860.5 525.0,792.5 533.0,860.5 537.5,785.7 542.0,871.8 546.6,812.9 551.1,874.0 555.6,821.9 563.5,840.1 568.8,781.2 572.6,828.7 577.1,812.9 583.9,845.7 589.6,815.2 594.1,876.3 604.3,853.7 606.0,848.0"/>
<polyline fill="none" stroke="#2424b8" stroke-width="2.4" stroke-linejoin="round" points="43.2,890.0 49.3,889.5 55.3,889.0 61.4,888.5 67.5,888.0 73.5,887.5 79.6,887.0 85.7,886.5 91.7,886.0 97.8,885.5 103.9,885.0 109.9,884.5 116.0,884.0 122.1,883.5 128.1,883.0 134.2,882.5 140.3,882.0 146.3,881.5 152.4,881.0 158.5,880.5 164.5,880.0 170.6,879.6 176.7,879.1 182.7,878.6 188.8,878.1 194.9,877.7 200.9,877.2 207.0,876.7 213.1,876.3 219.1,875.8 225.2,875.3 231.3,874.9 237.3,874.4 243.4,874.0 249.5,873.5 255.5,873.1 261.6,872.6 267.6,872.2 273.7,871.8 279.8,871.3 285.8,870.9 291.9,870.5 298.0,870.1 304.0,869.7 310.1,869.2 316.2,868.8 322.2,868.4 328.3,868.0 334.4,867.6 340.4,867.2 346.5,866.8 352.6,866.4 358.6,866.1 364.7,865.7 370.8,865.3 376.8,864.9 382.9,864.5 389.0,864.2 395.0,863.8 401.1,863.4 407.2,863.1 413.2,862.7 419.3,862.4 425.4,862.0 431.4,861.7 437.5,861.3 443.6,861.0 449.6,860.6 455.7,860.3 461.8,860.0 467.8,859.6 473.9,859.3 480.0,859.0 486.0,858.7 492.1,858.3 498.2,858.0 504.2,857.7 510.3,857.4 516.4,857.1 522.4,856.7 528.5,856.4 534.6,856.1 540.6,855.8 546.7,855.5 552.8,855.2 558.8,854.9 564.9,854.6 571.0,854.3 577.0,854.0 583.1,853.7 589.2,853.4 595.2,853.1 601.3,852.8"/>
<polyline fill="none" stroke="#2a8a2a" stroke-width="1.7" stroke-linejoin="round" points="43.2,886.9 49.3,886.1 55.3,885.3 61.4,884.4 67.5,883.5 73.5,882.4 79.6,881.2 85.7,879.9 91.7,878.4 97.8,876.6 103.9,874.5 109.9,872.0 116.0,869.1 122.1,865.7 128.1,861.8 134.2,857.3 140.3,852.4 146.3,846.9 152.4,841.1 158.5,835.0 164.5,828.9 170.6,823.1 176.7,818.0 182.7,814.0 188.8,811.5 194.9,810.8 200.9,811.8 207.0,814.5 213.1,818.4 219.1,823.1 225.2,828.2 231.3,833.4 237.3,838.3 243.4,843.0 249.5,847.1 255.5,850.8 261.6,853.9 267.6,856.5 273.7,858.6 279.8,860.3 285.8,861.6 291.9,862.6 298.0,863.2 304.0,863.7 310.1,864.0 316.2,864.2 322.2,864.2 328.3,864.2 334.4,864.1 340.4,864.0 346.5,863.9 352.6,863.7 358.6,863.5 364.7,863.3 370.8,863.0 376.8,862.8 382.9,862.6 389.0,862.3 395.0,862.0 401.1,861.8 407.2,861.5 413.2,861.2 419.3,860.9 425.4,860.7 431.4,860.4 437.5,860.1 443.6,859.8 449.6,859.5 455.7,859.2 461.8,858.9 467.8,858.7 473.9,858.4 480.0,858.1 486.0,857.8 492.1,857.5 498.2,857.2 504.2,856.9 510.3,856.6 516.4,856.3 522.4,856.1 528.5,855.8 534.6,855.5 540.6,855.2 546.7,854.9 552.8,854.6 558.8,854.3 564.9,854.0 571.0,853.8 577.0,853.5 583.1,853.2 589.2,852.9 595.2,852.6 601.3,852.3"/>
<polyline fill="none" stroke="#2d2d8a" stroke-width="1.7" stroke-linejoin="round" points="43.2,889.4 49.3,888.9 55.3,888.3 61.4,887.8 67.5,887.3 73.5,886.7 79.6,886.2 85.7,885.6 91.7,885.0 97.8,884.5 103.9,883.9 109.9,883.3 116.0,882.7 122.1,882.1 128.1,881.4 134.2,880.7 140.3,880.0 146.3,879.2 152.4,878.3 158.5,877.4 164.5,876.2 170.6,874.9 176.7,873.3 182.7,871.4 188.8,869.3 194.9,866.8 200.9,863.9 207.0,860.7 213.1,857.2 219.1,853.5 225.2,849.8 231.3,846.2 237.3,843.0 243.4,840.4 249.5,838.8 255.5,838.2 261.6,838.7 267.6,840.1 273.7,842.3 279.8,844.9 285.8,847.7 291.9,850.6 298.0,853.2 304.0,855.6 310.1,857.7 316.2,859.4 322.2,860.8 328.3,861.9 334.4,862.6 340.4,863.2 346.5,863.5 352.6,863.6 358.6,863.7 364.7,863.6 370.8,863.5 376.8,863.3 382.9,863.1 389.0,862.9 395.0,862.6 401.1,862.3 407.2,862.0 413.2,861.8 419.3,861.5 425.4,861.2 431.4,860.9 437.5,860.6 443.6,860.3 449.6,860.0 455.7,859.7 461.8,859.4 467.8,859.1 473.9,858.8 480.0,858.5 486.0,858.2 492.1,857.9 498.2,857.6 504.2,857.3 510.3,857.0 516.4,856.7 522.4,856.4 528.5,856.1 534.6,855.8 540.6,855.5 546.7,855.2 552.8,854.9 558.8,854.6 564.9,854.3 571.0,854.0 577.0,853.7 583.1,853.4 589.2,853.1 595.2,852.8 601.3,852.5"/>
<polyline fill="none" stroke="#e020d8" stroke-width="1.7" stroke-linejoin="round" points="43.2,889.0 49.3,888.5 55.3,887.9 61.4,887.4 67.5,886.9 73.5,886.3 79.6,885.8 85.7,885.2 91.7,884.7 97.8,884.1 103.9,883.6 109.9,883.1 116.0,882.5 122.1,882.0 128.1,881.4 134.2,880.9 140.3,880.3 146.3,879.8 152.4,879.2 158.5,878.7 164.5,878.1 170.6,877.5 176.7,877.0 182.7,876.4 188.8,875.9 194.9,875.3 200.9,874.7 207.0,874.1 213.1,873.5 219.1,873.0 225.2,872.4 231.3,871.8 237.3,871.1 243.4,870.5 249.5,869.9 255.5,869.2 261.6,868.6 267.6,867.9 273.7,867.1 279.8,866.4 285.8,865.6 291.9,864.8 298.0,863.8 304.0,862.9 310.1,861.8 316.2,860.6 322.2,859.3 328.3,857.8 334.4,856.1 340.4,854.3 346.5,852.1 352.6,849.7 358.6,847.0 364.7,844.0 370.8,840.6 376.8,836.9 382.9,832.8 389.0,828.3 395.0,823.5 401.1,818.4 407.2,813.0 413.2,807.4 419.3,801.8 425.4,796.2 431.4,790.8 437.5,785.8 443.6,781.4 449.6,777.8 455.7,775.3 461.8,774.0 467.8,774.0 473.9,775.1 480.0,777.4 486.0,780.7 492.1,784.7 498.2,789.2 504.2,794.1 510.3,799.0 516.4,804.0 522.4,808.8 528.5,813.4 534.6,817.8 540.6,821.7 546.7,825.4 552.8,828.7 558.8,831.6 564.9,834.1 571.0,836.3 577.0,838.2 583.1,839.7 589.2,841.1 595.2,842.1 601.3,843.0"/>
<polyline fill="none" stroke="#e8262a" stroke-width="1.9" stroke-linejoin="round" points="43.2,885.3 49.3,884.5 55.3,883.6 61.4,882.6 67.5,881.6 73.5,880.5 79.6,879.2 85.7,877.8 91.7,876.2 97.8,874.2 103.9,872.0 109.9,869.4 116.0,866.3 122.1,862.8 128.1,858.7 134.2,854.0 140.3,848.7 146.3,842.9 152.4,836.6 158.5,830.0 164.5,823.1 170.6,816.4 176.7,810.1 182.7,804.7 188.8,800.4 194.9,797.5 200.9,796.1 207.0,795.9 213.1,796.7 219.1,798.0 225.2,799.7 231.3,801.6 237.3,803.6 243.4,806.0 249.5,808.7 255.5,812.0 261.6,815.8 267.6,820.1 273.7,824.5 279.8,828.9 285.8,833.1 291.9,836.9 298.0,840.2 304.0,842.9 310.1,845.0 316.2,846.5 322.2,847.5 328.3,847.9 334.4,847.7 340.4,847.0 346.5,845.8 352.6,844.2 358.6,842.1 364.7,839.6 370.8,836.6 376.8,833.2 382.9,829.4 389.0,825.1 395.0,820.5 401.1,815.6 407.2,810.4 413.2,805.0 419.3,799.4 425.4,794.0 431.4,788.7 437.5,783.8 443.6,779.5 449.6,776.1 455.7,773.7 461.8,772.4 467.8,772.4 473.9,773.7 480.0,776.1 486.0,779.4 492.1,783.4 498.2,788.0 504.2,792.9 510.3,797.9 516.4,802.9 522.4,807.8 528.5,812.4 534.6,816.8 540.6,820.8 546.7,824.5 552.8,827.8 558.8,830.7 564.9,833.3 571.0,835.5 577.0,837.4 583.1,839.0 589.2,840.4 595.2,841.5 601.3,842.4"/>
</g>
<line x1="171.5" y1="523.0" x2="171.5" y2="843.0" stroke="#1818d0" stroke-width="2.8" stroke-dasharray="5.5 3"/>
<line x1="193.4" y1="523.0" x2="193.4" y2="843.0" stroke="#1818d0" stroke-width="2.8" stroke-dasharray="5.5 3"/>
<path d="M97.4 723.9H160.6 M205.3 723.9H268.5" stroke="#111" stroke-width="2.6" fill="none"/>
<path d="M170.6 723.9L156.6 718.9L156.6 728.9Z M195.3 723.9L209.3 718.9L209.3 728.9Z" fill="#111"/>
<text x="99.2" y="714.8" font-size="20" font-weight="bold" text-anchor="start" fill="#000" textLength="66.8" lengthAdjust="spacingAndGlyphs">0.49 eV</text>
<rect x="686.5" y="500.5" width="569.0" height="422.0" fill="none" stroke="#1c1c1c" stroke-width="3.4"/>
<path d="M703.2 922.9V912.9M753.5 922.9V912.9M803.8 922.9V912.9M854.0 922.9V912.9M904.2 922.9V912.9M954.5 922.9V912.9M1004.8 922.9V912.9M1055.0 922.9V912.9M1105.2 922.9V912.9M1155.5 922.9V912.9M1205.8 922.9V912.9M728.4 922.9V917.9M778.6 922.9V917.9M828.9 922.9V917.9M879.1 922.9V917.9M929.4 922.9V917.9M979.6 922.9V917.9M1029.9 922.9V917.9M1080.1 922.9V917.9M1130.4 922.9V917.9M1180.6 922.9V917.9M1230.9 922.9V917.9" stroke="#1c1c1c" stroke-width="2.6" fill="none"/>
<text x="703.2" y="949.0" font-size="21" text-anchor="middle" fill="#3c3c3c" stroke="#3c3c3c" stroke-width="0.45">927</text>
<text x="753.5" y="949.0" font-size="21" text-anchor="middle" fill="#3c3c3c" stroke="#3c3c3c" stroke-width="0.45">930</text>
<text x="803.8" y="949.0" font-size="21" text-anchor="middle" fill="#3c3c3c" stroke="#3c3c3c" stroke-width="0.45">933</text>
<text x="854.0" y="949.0" font-size="21" text-anchor="middle" fill="#3c3c3c" stroke="#3c3c3c" stroke-width="0.45">936</text>
<text x="904.2" y="949.0" font-size="21" text-anchor="middle" fill="#3c3c3c" stroke="#3c3c3c" stroke-width="0.45">939</text>
<text x="954.5" y="949.0" font-size="21" text-anchor="middle" fill="#3c3c3c" stroke="#3c3c3c" stroke-width="0.45">942</text>
<text x="1004.8" y="949.0" font-size="21" text-anchor="middle" fill="#3c3c3c" stroke="#3c3c3c" stroke-width="0.45">945</text>
<text x="1055.0" y="949.0" font-size="21" text-anchor="middle" fill="#3c3c3c" stroke="#3c3c3c" stroke-width="0.45">948</text>
<text x="1105.2" y="949.0" font-size="21" text-anchor="middle" fill="#3c3c3c" stroke="#3c3c3c" stroke-width="0.45">951</text>
<text x="1155.5" y="949.0" font-size="21" text-anchor="middle" fill="#3c3c3c" stroke="#3c3c3c" stroke-width="0.45">954</text>
<text x="1205.8" y="949.0" font-size="21" text-anchor="middle" fill="#3c3c3c" stroke="#3c3c3c" stroke-width="0.45">957</text>
<text x="1256.0" y="949.0" font-size="21" text-anchor="middle" fill="#3c3c3c" stroke="#3c3c3c" stroke-width="0.45">960</text>
<text x="867.3" y="974.8" font-size="23.5" font-weight="bold" text-anchor="start" fill="#000" textLength="219.3" lengthAdjust="spacingAndGlyphs">Binding energy (eV)</text>
<text transform="translate(673.0 713.2) rotate(-90)" x="0" y="0" font-size="25" font-weight="bold" text-anchor="middle" fill="#000" textLength="152.4" lengthAdjust="spacingAndGlyphs">Intensity (cps)</text>
<text x="702.4" y="543.6" font-size="50" font-weight="bold" text-anchor="start" fill="#000" textLength="62.0" lengthAdjust="spacingAndGlyphs">(d)</text>
<text x="1246.0" y="526.3" font-size="19" font-weight="bold" text-anchor="end" fill="#000" textLength="56.5" lengthAdjust="spacingAndGlyphs">Cu 2p</text>
<text x="1065.6" y="586.1" font-size="19" font-weight="normal" text-anchor="start" fill="#2e2e2e" textLength="185.4" lengthAdjust="spacingAndGlyphs" stroke="#2e2e2e" stroke-width="0.5">Cu doped Ni/Ni<tspan font-size="10.5" dy="5.7">3</tspan><tspan dy="-5.7">S</tspan><tspan font-size="10.5" dy="5.7">2</tspan><tspan dy="-5.7">/TM</tspan></text>
<g clip-path="url(#cd)">
<polyline fill="none" stroke="#111" stroke-width="2.6" stroke-linejoin="round" points="693.2,800.4 695.7,758.7 698.2,858.0 700.7,827.0 703.2,770.1 705.8,811.7 708.3,819.0 710.8,801.8 713.3,818.9 715.8,829.9 718.3,783.9 720.8,886.5 723.3,753.2 725.9,804.3 728.4,883.3 730.9,855.7 733.4,772.1 735.9,802.8 738.4,777.1 740.9,863.5 743.4,794.9 746.0,776.4 748.5,833.0 751.0,842.5 753.5,801.9 756.0,861.0 758.5,797.3 761.0,786.3 763.5,776.8 766.1,798.2 768.6,803.6 771.1,770.6 773.6,774.0 776.1,729.4 778.6,752.8 781.1,747.6 783.6,674.5 786.2,645.2 788.7,774.6 791.2,660.9 793.7,635.2 796.2,677.6 798.7,641.9 801.2,618.0 803.7,686.0 806.3,618.0 808.8,707.5 811.3,672.1 813.8,736.5 816.3,675.7 818.8,729.4 821.3,706.8 823.8,727.2 826.4,702.7 828.9,813.9 831.4,751.5 833.9,746.7 836.4,792.2 838.9,762.5 841.4,766.4 843.9,806.7 846.5,824.6 849.0,761.3 851.5,748.9 854.0,795.3 856.5,861.6 859.0,737.0 861.5,845.3 864.0,766.0 866.6,821.4 869.1,777.8 871.6,743.5 874.1,805.6 876.6,869.0 879.1,754.3 881.6,813.7 884.1,772.8 886.7,794.2 889.2,805.6 891.7,803.1 894.2,857.6 896.7,755.9 899.2,787.0 901.7,773.9 904.2,760.4 906.8,761.3 909.3,840.5 911.8,720.6 914.3,868.8 916.8,797.4 919.3,768.5 921.8,759.2 924.3,811.9 926.9,792.3 929.4,828.5 931.9,749.1 934.4,791.6 936.9,796.2 939.4,783.4 941.9,775.7 944.4,745.6 947.0,765.8 949.5,796.1 952.0,795.0 954.5,827.6 957.0,850.2 959.5,808.9 962.0,775.1 964.5,845.1 967.1,755.1 969.6,774.0 972.1,873.6 974.6,715.8 977.1,792.4 979.6,786.3 982.1,840.1 984.6,744.0 987.2,822.6 989.7,760.6 992.2,752.9 994.7,813.9 997.2,787.3 999.7,744.5 1002.2,775.4 1004.7,772.6 1007.3,828.9 1009.8,783.0 1012.3,783.4 1014.8,794.9 1017.3,758.4 1019.8,805.3 1022.3,753.2 1024.8,746.4 1027.4,778.6 1029.9,797.8 1032.4,778.0 1034.9,811.3 1037.4,703.3 1039.9,796.8 1042.4,791.9 1044.9,735.5 1047.5,797.4 1050.0,754.0 1052.5,739.7 1055.0,825.9 1057.5,702.3 1060.0,823.5 1062.5,733.9 1065.0,738.2 1067.6,747.1 1070.1,749.2 1072.6,740.8 1075.1,778.8 1077.6,683.8 1080.1,825.4 1082.6,755.2 1085.1,778.9 1087.7,683.8 1090.2,675.4 1092.7,755.4 1095.2,738.7 1097.7,744.3 1100.2,703.5 1102.7,730.6 1105.2,728.2 1107.8,659.4 1110.3,809.0 1112.8,638.4 1115.3,739.8 1117.8,741.9 1120.3,656.1 1122.8,717.4 1125.3,761.5 1127.9,659.0 1130.4,742.8 1132.9,689.7 1135.4,701.2 1137.9,720.8 1140.4,677.2 1142.9,696.6 1145.4,740.9 1148.0,695.1 1150.5,718.6 1153.0,654.5 1155.5,732.1 1158.0,755.9 1160.5,725.3 1163.0,713.6 1165.5,695.4 1168.1,710.2 1170.6,751.9 1173.1,770.4 1175.6,707.1 1178.1,778.0 1180.6,702.2 1183.1,784.7 1185.6,684.5 1188.2,765.7 1190.7,704.1 1193.2,786.7 1195.7,755.8 1198.2,707.1 1200.7,741.5 1203.2,749.6 1205.7,710.5 1208.3,748.3 1210.8,742.0 1213.3,797.1 1215.8,790.5 1218.3,720.2 1220.8,756.6 1223.3,771.3 1225.8,739.1 1228.4,759.9 1230.9,793.3 1233.4,755.0 1235.9,754.9 1238.4,744.3 1240.9,820.1 1243.4,717.7 1245.9,776.5 1248.5,726.5 1251.0,760.1 1253.5,775.6 1256.0,748.2"/>
<polyline fill="none" stroke="#2424a8" stroke-width="2.0" stroke-linejoin="round" points="693.2,821.5 695.7,821.5 698.2,821.5 700.7,821.5 703.2,821.4 705.8,821.4 708.3,821.4 710.8,821.3 713.3,821.3 715.8,821.2 718.3,821.2 720.8,821.1 723.3,821.0 725.9,820.9 728.4,820.8 730.9,820.7 733.4,820.6 735.9,820.5 738.4,820.3 740.9,820.1 743.4,820.0 746.0,819.7 748.5,819.5 751.0,819.3 753.5,819.0 756.0,818.7 758.5,818.4 761.0,818.0 763.5,817.7 766.1,817.3 768.6,816.8 771.1,816.4 773.6,815.9 776.1,815.4 778.6,814.9 781.1,814.4 783.6,813.9 786.2,813.4 788.7,812.8 791.2,812.3 793.7,811.8 796.2,811.3 798.7,810.8 801.2,810.3 803.7,809.8 806.3,809.4 808.8,809.0 811.3,808.6 813.8,808.2 816.3,807.9 818.8,807.6 821.3,807.3 823.8,807.0 826.4,806.8 828.9,806.6 831.4,806.4 833.9,806.2 836.4,806.0 838.9,805.9 841.4,805.7 843.9,805.6 846.5,805.5 849.0,805.4 851.5,805.3 854.0,805.2 856.5,805.1 859.0,805.0 861.5,804.9 864.0,804.9 866.6,804.8 869.1,804.8 871.6,804.7 874.1,804.7 876.6,804.6 879.1,804.6 881.6,804.5 884.1,804.5 886.7,804.5 889.2,804.4 891.7,804.4 894.2,804.4 896.7,804.3 899.2,804.3 901.7,804.3 904.2,804.3 906.8,804.2 909.3,804.2 911.8,804.2 914.3,804.2 916.8,804.2 919.3,804.1 921.8,804.1 924.3,804.1 926.9,804.1 929.4,804.1 931.9,804.0 934.4,804.0 936.9,804.0 939.4,804.0 941.9,804.0 944.4,803.9 947.0,803.9 949.5,803.9 952.0,803.9 954.5,803.9 957.0,803.7 959.5,803.4 962.0,803.2 964.5,803.0 967.1,802.8 969.6,802.6 972.1,802.4 974.6,802.2 977.1,801.9 979.6,801.7 982.1,801.5 984.6,801.3 987.2,801.1 989.7,800.9 992.2,800.7 994.7,800.5 997.2,800.2 999.7,800.0 1002.2,799.8 1004.7,799.6 1007.3,799.4 1009.8,799.2 1012.3,799.0 1014.8,798.7 1017.3,798.5 1019.8,798.3 1022.3,798.1 1024.8,797.9 1027.4,797.7 1029.9,797.5 1032.4,797.3 1034.9,797.0 1037.4,796.8 1039.9,796.6 1042.4,796.4 1044.9,796.2 1047.5,796.0 1050.0,795.8 1052.5,795.6 1055.0,795.3 1057.5,795.1 1060.0,794.9 1062.5,794.7 1065.0,794.5 1067.6,794.3 1070.1,794.1 1072.6,793.8 1075.1,793.6 1077.6,793.4 1080.1,793.2 1082.6,793.0 1085.1,792.8 1087.7,792.6 1090.2,792.4 1092.7,792.1 1095.2,791.9 1097.7,791.7 1100.2,791.5 1102.7,791.3 1105.2,791.1 1107.8,790.9 1110.3,790.7 1112.8,790.4 1115.3,790.2 1117.8,790.0 1120.3,789.8 1122.8,789.6 1125.3,789.4 1127.9,789.2 1130.4,789.0 1132.9,788.7 1135.4,788.5 1137.9,788.3 1140.4,788.1 1142.9,787.9 1145.4,787.7 1148.0,787.5 1150.5,787.2 1153.0,787.0 1155.5,786.8 1158.0,786.6 1160.5,786.4 1163.0,786.2 1165.5,786.0 1168.1,785.8 1170.6,785.5 1173.1,785.3 1175.6,785.1 1178.1,784.9 1180.6,784.7 1183.1,784.5 1185.6,784.3 1188.2,784.1 1190.7,783.8 1193.2,783.6 1195.7,783.4 1198.2,783.2 1200.7,783.0 1203.2,782.8 1205.7,782.6 1208.3,782.3 1210.8,782.1 1213.3,781.9 1215.8,781.7 1218.3,781.5 1220.8,781.3 1223.3,781.1 1225.8,780.9 1228.4,780.6 1230.9,780.4 1233.4,780.2 1235.9,780.0 1238.4,779.8 1240.9,779.6 1243.4,779.4 1245.9,779.2 1248.5,778.9 1251.0,778.7 1253.5,778.5 1256.0,778.3"/>
<polyline fill="none" stroke="#2a8a2a" stroke-width="1.8" stroke-linejoin="round" points="693.2,821.1 695.7,821.1 698.2,821.0 700.7,821.0 703.2,821.0 705.8,820.9 708.3,820.9 710.8,820.8 713.3,820.8 715.8,820.7 718.3,820.6 720.8,820.6 723.3,820.5 725.9,820.4 728.4,820.3 730.9,820.2 733.4,820.0 735.9,819.9 738.4,819.7 740.9,819.6 743.4,819.4 746.0,819.2 748.5,818.9 751.0,818.7 753.5,818.4 756.0,818.1 758.5,817.7 761.0,817.4 763.5,817.0 766.1,816.6 768.6,816.2 771.1,815.7 773.6,815.2 776.1,814.8 778.6,814.2 781.1,813.7 783.6,813.2 786.2,812.6 788.7,812.1 791.2,811.6 793.7,811.0 796.2,810.5 798.7,810.0 801.2,809.5 803.7,809.0 806.3,808.6 808.8,808.2 811.3,807.8 813.8,807.4 816.3,807.0 818.8,806.7 821.3,806.4 823.8,806.1 826.4,805.9 828.9,805.6 831.4,805.4 833.9,805.2 836.4,805.0 838.9,804.9 841.4,804.7 843.9,804.5 846.5,804.4 849.0,804.3 851.5,804.2 854.0,804.0 856.5,803.9 859.0,803.8 861.5,803.7 864.0,803.7 866.6,803.6 869.1,803.5 871.6,803.4 874.1,803.4 876.6,803.3 879.1,803.2 881.6,803.2 884.1,803.1 886.7,803.0 889.2,803.0 891.7,802.9 894.2,802.9 896.7,802.8 899.2,802.7 901.7,802.7 904.2,802.6 906.8,802.6 909.3,802.5 911.8,802.4 914.3,802.4 916.8,802.3 919.3,802.3 921.8,802.2 924.3,802.1 926.9,802.1 929.4,802.0 931.9,801.9 934.4,801.9 936.9,801.8 939.4,801.7 941.9,801.6 944.4,801.6 947.0,801.5 949.5,801.4 952.0,801.3 954.5,801.2 957.0,800.9 959.5,800.6 962.0,800.4 964.5,800.1 967.1,799.8 969.6,799.5 972.1,799.2 974.6,798.8 977.1,798.5 979.6,798.2 982.1,797.9 984.6,797.6 987.2,797.2 989.7,796.9 992.2,796.5 994.7,796.2 997.2,795.8 999.7,795.4 1002.2,795.0 1004.7,794.6 1007.3,794.2 1009.8,793.8 1012.3,793.3 1014.8,792.8 1017.3,792.3 1019.8,791.8 1022.3,791.3 1024.8,790.7 1027.4,790.1 1029.9,789.4 1032.4,788.7 1034.9,788.0 1037.4,787.2 1039.9,786.4 1042.4,785.4 1044.9,784.5 1047.5,783.4 1050.0,782.3 1052.5,781.1 1055.0,779.8 1057.5,778.5 1060.0,777.0 1062.5,775.4 1065.0,773.8 1067.6,772.0 1070.1,770.1 1072.6,768.1 1075.1,766.0 1077.6,763.8 1080.1,761.4 1082.6,759.0 1085.1,756.4 1087.7,753.8 1090.2,751.0 1092.7,748.2 1095.2,745.3 1097.7,742.4 1100.2,739.4 1102.7,736.4 1105.2,733.4 1107.8,730.5 1110.3,727.6 1112.8,724.8 1115.3,722.2 1117.8,719.7 1120.3,717.5 1122.8,715.6 1125.3,713.9 1127.9,712.6 1130.4,711.7 1132.9,711.2 1135.4,711.0 1137.9,711.3 1140.4,711.9 1142.9,712.9 1145.4,714.2 1148.0,715.8 1150.5,717.7 1153.0,719.8 1155.5,722.0 1158.0,724.4 1160.5,726.9 1163.0,729.4 1165.5,732.0 1168.1,734.6 1170.6,737.1 1173.1,739.6 1175.6,742.1 1178.1,744.4 1180.6,746.7 1183.1,748.9 1185.6,751.0 1188.2,753.0 1190.7,754.9 1193.2,756.6 1195.7,758.3 1198.2,759.8 1200.7,761.2 1203.2,762.5 1205.7,763.8 1208.3,764.9 1210.8,765.9 1213.3,766.8 1215.8,767.6 1218.3,768.4 1220.8,769.0 1223.3,769.6 1225.8,770.1 1228.4,770.6 1230.9,771.0 1233.4,771.3 1235.9,771.6 1238.4,771.9 1240.9,772.1 1243.4,772.3 1245.9,772.4 1248.5,772.5 1251.0,772.6 1253.5,772.7 1256.0,772.7"/>
<polyline fill="none" stroke="#e020d8" stroke-width="1.9" stroke-linejoin="round" points="693.2,821.5 695.7,821.5 698.2,821.5 700.7,821.5 703.2,821.4 705.8,821.4 708.3,821.4 710.8,821.3 713.3,821.3 715.8,821.2 718.3,821.2 720.8,821.1 723.3,821.0 725.9,820.9 728.4,820.7 730.9,820.6 733.4,820.4 735.9,820.1 738.4,819.7 740.9,819.2 743.4,818.6 746.0,817.7 748.5,816.5 751.0,814.9 753.5,812.8 756.0,810.1 758.5,806.6 761.0,802.3 763.5,796.9 766.1,790.5 768.6,782.9 771.1,774.2 773.6,764.4 776.1,753.7 778.6,742.2 781.1,730.4 783.6,718.6 786.2,707.2 788.7,696.8 791.2,687.8 793.7,680.6 796.2,675.5 798.7,672.9 801.2,672.9 803.7,675.3 806.3,680.2 808.8,687.1 811.3,695.7 813.8,705.6 816.3,716.3 818.8,727.4 821.3,738.3 823.8,748.8 826.4,758.5 828.9,767.3 831.4,775.0 833.9,781.6 836.4,787.1 838.9,791.6 841.4,795.1 843.9,797.9 846.5,799.9 849.0,801.5 851.5,802.6 854.0,803.4 856.5,803.9 859.0,804.2 861.5,804.4 864.0,804.6 866.6,804.6 869.1,804.6 871.6,804.6 874.1,804.6 876.6,804.6 879.1,804.6 881.6,804.5 884.1,804.5 886.7,804.5 889.2,804.4 891.7,804.4 894.2,804.4 896.7,804.3 899.2,804.3 901.7,804.3 904.2,804.3 906.8,804.2 909.3,804.2 911.8,804.2 914.3,804.2 916.8,804.2 919.3,804.1 921.8,804.1 924.3,804.1 926.9,804.1 929.4,804.1 931.9,804.0 934.4,804.0 936.9,804.0 939.4,804.0 941.9,804.0 944.4,803.9 947.0,803.9 949.5,803.9 952.0,803.9 954.5,803.9 957.0,803.7 959.5,803.4 962.0,803.2 964.5,803.0 967.1,802.8 969.6,802.6 972.1,802.4 974.6,802.2 977.1,801.9 979.6,801.7 982.1,801.5 984.6,801.3 987.2,801.1 989.7,800.9 992.2,800.7 994.7,800.5 997.2,800.2 999.7,800.0 1002.2,799.8 1004.7,799.6 1007.3,799.4 1009.8,799.2 1012.3,799.0 1014.8,798.7 1017.3,798.5 1019.8,798.3 1022.3,798.1 1024.8,797.9 1027.4,797.7 1029.9,797.5 1032.4,797.3 1034.9,797.0 1037.4,796.8 1039.9,796.6 1042.4,796.4 1044.9,796.2 1047.5,796.0 1050.0,795.8 1052.5,795.6 1055.0,795.3 1057.5,795.1 1060.0,794.9 1062.5,794.7 1065.0,794.5 1067.6,794.3 1070.1,794.1 1072.6,793.8 1075.1,793.6 1077.6,793.4 1080.1,793.2 1082.6,793.0 1085.1,792.8 1087.7,792.6 1090.2,792.4 1092.7,792.1 1095.2,791.9 1097.7,791.7 1100.2,791.5 1102.7,791.3 1105.2,791.1 1107.8,790.9 1110.3,790.7 1112.8,790.4 1115.3,790.2 1117.8,790.0 1120.3,789.8 1122.8,789.6 1125.3,789.4 1127.9,789.2 1130.4,789.0 1132.9,788.7 1135.4,788.5 1137.9,788.3 1140.4,788.1 1142.9,787.9 1145.4,787.7 1148.0,787.5 1150.5,787.2 1153.0,787.0 1155.5,786.8 1158.0,786.6 1160.5,786.4 1163.0,786.2 1165.5,786.0 1168.1,785.8 1170.6,785.5 1173.1,785.3 1175.6,785.1 1178.1,784.9 1180.6,784.7 1183.1,784.5 1185.6,784.3 1188.2,784.1 1190.7,783.8 1193.2,783.6 1195.7,783.4 1198.2,783.2 1200.7,783.0 1203.2,782.8 1205.7,782.6 1208.3,782.3 1210.8,782.1 1213.3,781.9 1215.8,781.7 1218.3,781.5 1220.8,781.3 1223.3,781.1 1225.8,780.9 1228.4,780.6 1230.9,780.4 1233.4,780.2 1235.9,780.0 1238.4,779.8 1240.9,779.6 1243.4,779.4 1245.9,779.2 1248.5,778.9 1251.0,778.7 1253.5,778.5 1256.0,778.3"/>
</g>
</g>
</svg></body></html>
